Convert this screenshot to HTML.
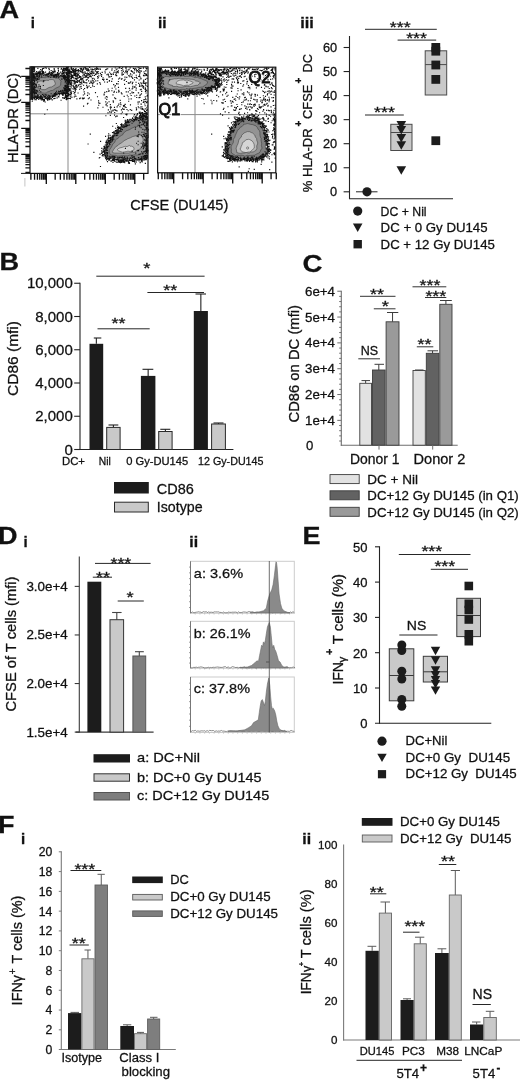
<!DOCTYPE html>
<html><head><meta charset="utf-8"><title>Figure</title>
<style>
html,body{margin:0;padding:0;background:#fff;}
body{width:520px;height:1080px;overflow:hidden;}
svg{display:block;font-family:'Liberation Sans', Arial, sans-serif;}
text{fill:#111;stroke:#111;stroke-width:0.28px;}
</style></head><body>
<svg width="520" height="1080" viewBox="0 0 520 1080">
<rect width="520" height="1080" fill="#fff"/>
<!-- Panel A -->
<text x="-0.4" y="18" font-size="24" font-weight="bold" textLength="19.6" lengthAdjust="spacingAndGlyphs">A</text>
<text x="30.7" y="28" font-size="15" font-weight="bold">i</text>
<text x="158" y="28" font-size="15" font-weight="bold" textLength="8.6" lengthAdjust="spacingAndGlyphs">ii</text>
<text x="300.3" y="28" font-size="15" font-weight="bold" textLength="13.6" lengthAdjust="spacingAndGlyphs">iii</text>
<path d="M68 66.8L68 173.4" stroke="#8a8a8a" stroke-width="1"/>
<path d="M30 113.8L148 113.8" stroke="#8a8a8a" stroke-width="1"/>
<path d="M32.5 82.7h1.15M45.9 74.9h1.15M65.9 79.6h1.15M32.5 95.7h1.15M56.1 93.6h1.15M62.1 91.3h1.15M33.4 77.4h1.15M36.9 97.1h1.15M45.0 72.1h1.15M68.3 82.2h1.15M64.2 91.0h1.15M53.1 96.4h1.15M54.2 74.7h1.15M40.5 96.2h1.15M31.7 87.6h1.15M70.4 78.8h1.15M32.4 82.1h1.15M44.6 102.0h1.15M40.5 96.6h1.15M30.6 75.3h1.15M68.3 84.2h1.15M61.7 75.8h1.15M36.6 73.0h1.15M42.3 73.0h1.15M32.6 76.2h1.15M55.8 75.2h1.15M67.9 80.1h1.15M62.1 76.5h1.15M32.5 78.4h1.15M52.2 95.1h1.15M50.6 75.2h1.15M62.4 76.0h1.15M52.6 75.4h1.15M34.2 73.7h1.15M39.7 96.7h1.15M66.4 91.0h1.15M70.8 81.9h1.15M70.4 91.0h1.15M30.2 82.3h1.15M32.0 75.3h1.15M36.8 98.4h1.15M50.5 98.8h1.15M33.4 92.1h1.15M62.0 92.7h1.15M32.1 84.1h1.15M62.3 91.2h1.15M67.5 81.4h1.15M44.6 74.3h1.15M38.5 72.3h1.15M51.3 73.6h1.15M64.8 77.3h1.15M40.5 96.5h1.15M62.9 92.0h1.15M33.6 97.5h1.15M58.7 94.3h1.15M33.0 90.0h1.15M68.5 78.5h1.15M47.1 97.7h1.15M42.7 73.8h1.15M32.6 94.0h1.15M34.6 73.7h1.15M42.5 73.9h1.15M49.9 73.9h1.15M47.0 100.0h1.15M48.5 72.8h1.15M33.4 76.9h1.15M67.8 82.9h1.15M44.4 97.9h1.15M30.5 92.4h1.15M42.4 97.9h1.15M68.1 89.3h1.15M35.8 98.4h1.15M44.1 74.7h1.15M49.0 97.1h1.15M67.2 79.1h1.15M30.5 76.7h1.15M57.6 73.8h1.15M41.2 70.8h1.15M39.5 73.0h1.15M61.3 91.2h1.15M55.1 96.2h1.15M39.4 98.5h1.15M72.9 85.8h1.15M68.2 79.3h1.15M53.3 95.5h1.15M38.1 97.5h1.15M47.1 97.8h1.15M43.3 72.5h1.15M61.0 73.2h1.15M37.3 97.6h1.15M64.7 75.5h1.15M50.6 75.0h1.15M58.0 76.2h1.15M35.4 74.0h1.15M54.9 75.8h1.15M61.2 75.5h1.15M55.4 75.1h1.15M32.1 81.2h1.15M53.3 72.9h1.15M41.9 98.7h1.15M31.7 93.7h1.15M38.6 96.8h1.15M66.9 86.1h1.15M47.9 74.5h1.15M40.8 96.1h1.15M61.1 74.8h1.15M32.8 88.4h1.15M49.5 97.2h1.15M30.1 99.2h1.15M55.1 75.9h1.15M40.6 95.8h1.15M58.9 95.0h1.15M33.0 80.1h1.15M30.5 86.3h1.15M47.9 73.5h1.15M46.0 74.1h1.15M67.7 76.7h1.15M39.8 73.9h1.15M41.5 97.2h1.15M32.1 91.1h1.15M31.8 76.5h1.15M56.6 97.8h1.15M53.6 95.5h1.15M50.7 98.4h1.15M62.4 92.7h1.15M41.5 73.4h1.15M35.9 73.5h1.15M70.6 87.1h1.15M58.9 76.2h1.15M32.3 79.0h1.15M68.4 84.6h1.15M56.4 94.8h1.15M31.8 79.0h1.15M32.5 88.8h1.15M64.1 89.5h1.15M31.3 99.0h1.15M34.8 74.1h1.15M68.5 84.5h1.15M68.0 83.8h1.15M36.0 74.2h1.15M48.7 98.1h1.15M64.4 89.0h1.15M32.8 93.1h1.15M54.9 94.8h1.15M62.4 76.5h1.15M59.8 75.3h1.15M32.4 78.0h1.15M48.2 97.4h1.15M38.3 97.5h1.15M70.0 84.7h1.15M54.1 94.4h1.15M32.1 90.0h1.15M67.3 91.8h1.15M32.7 76.9h1.15M54.2 75.1h1.15M37.6 97.4h1.15M55.4 74.7h1.15M63.6 75.5h1.15M65.5 87.3h1.15M65.1 77.6h1.15M32.7 94.2h1.15M36.9 98.1h1.15M41.7 97.8h1.15M51.1 72.6h1.15M68.4 84.9h1.15M49.2 73.7h1.15M49.8 96.8h1.15M30.7 91.4h1.15M56.9 72.5h1.15M50.2 96.5h1.15M38.3 97.9h1.15M56.1 74.7h1.15M56.1 94.9h1.15M54.4 75.8h1.15M60.7 93.8h1.15M50.5 74.5h1.15M61.8 93.9h1.15M52.5 95.9h1.15M35.4 96.9h1.15M38.4 73.2h1.15M40.1 73.2h1.15M65.7 89.6h1.15M32.0 85.0h1.15M33.1 75.1h1.15M49.0 73.3h1.15M37.8 97.0h1.15M57.6 75.4h1.15M33.7 95.5h1.15M68.1 88.8h1.15M66.1 77.5h1.15M63.9 75.6h1.15M39.0 73.7h1.15M31.4 79.5h1.15M47.0 73.9h1.15M33.5 93.2h1.15M38.2 72.4h1.15M58.4 93.1h1.15M33.0 84.8h1.15M62.0 71.6h1.15M54.7 74.2h1.15M62.5 91.7h1.15M36.6 73.3h1.15M38.2 99.3h1.15M44.3 97.9h1.15M32.8 81.7h1.15M55.8 74.3h1.15M37.6 72.4h1.15M56.7 73.7h1.15M30.8 77.6h1.15M32.4 81.8h1.15M43.9 99.6h1.15M35.9 74.0h1.15M34.0 98.2h1.15M36.5 97.5h1.15M39.4 72.6h1.15M54.2 94.0h1.15M53.8 75.5h1.15M51.4 75.3h1.15M68.0 80.8h1.15M30.1 93.9h1.15M54.8 94.6h1.15M61.4 91.3h1.15M58.7 73.9h1.15M65.1 77.2h1.15M53.6 95.9h1.15M31.4 79.5h1.15M40.3 99.1h1.15M62.5 91.9h1.15M63.2 76.3h1.15M30.7 80.4h1.15M31.9 82.4h1.15M67.3 85.4h1.15M56.8 74.5h1.15M45.6 97.0h1.15M56.5 97.9h1.15M69.5 86.2h1.15M44.9 74.7h1.15M66.7 79.7h1.15M40.2 98.1h1.15M58.1 74.9h1.15M31.6 92.2h1.15M49.7 74.8h1.15M67.3 83.8h1.15M62.8 92.0h1.15M68.0 79.4h1.15M61.2 93.0h1.15M46.2 98.7h1.15M65.2 76.6h1.15M61.0 92.0h1.15M67.2 85.6h1.15M54.3 95.0h1.15M32.0 85.0h1.15M68.2 84.1h1.15M36.9 97.5h1.15M52.1 96.8h1.15M47.7 98.5h1.15M31.8 95.1h1.15M46.1 98.0h1.15M59.5 93.2h1.15M37.7 73.6h1.15M30.8 80.0h1.15M60.9 91.7h1.15M60.2 93.6h1.15M32.3 96.6h1.15M33.5 78.1h1.15M50.6 74.1h1.15M39.6 73.5h1.15M35.1 73.1h1.15M55.6 74.6h1.15M62.1 74.2h1.15M43.4 72.8h1.15M54.7 75.4h1.15M30.5 81.9h1.15M41.9 71.6h1.15M32.4 77.6h1.15M31.7 98.8h1.15M30.7 80.8h1.15M48.8 99.4h1.15M41.9 73.5h1.15M56.6 92.9h1.15M36.1 71.6h1.15M40.7 98.4h1.15M68.5 80.7h1.15M32.6 93.3h1.15M36.3 98.0h1.15M32.2 86.0h1.15M31.7 83.4h1.15M68.5 79.7h1.15M57.8 96.2h1.15M38.6 96.9h1.15M62.0 73.4h1.15M66.4 92.7h1.15M65.2 95.3h1.15M32.2 78.3h1.15M41.6 74.5h1.15M46.7 99.5h1.15M41.7 97.1h1.15M57.7 96.4h1.15M62.6 94.8h1.15M67.5 82.7h1.15M53.3 75.7h1.15M42.9 99.5h1.15M52.8 72.1h1.15M66.3 90.2h1.15M56.5 74.8h1.15M38.3 74.0h1.15M40.1 69.5h1.15M33.8 98.4h1.15M30.7 92.4h1.15M58.8 93.3h1.15M33.5 98.0h1.15M43.3 101.5h1.15M50.6 70.6h1.15M43.4 73.2h1.15M67.3 78.5h1.15M38.8 74.4h1.15M57.4 73.6h1.15M39.1 98.0h1.15M51.8 74.8h1.15M33.3 85.4h1.15M60.3 76.4h1.15M36.9 73.9h1.15M31.3 98.8h1.15M44.9 98.5h1.15M42.6 73.0h1.15M66.1 90.9h1.15M56.2 75.1h1.15M31.5 80.7h1.15M44.7 97.5h1.15M66.2 87.0h1.15M50.0 74.1h1.15M38.3 71.8h1.15M51.7 99.9h1.15M41.9 72.8h1.15M33.1 76.9h1.15M68.6 88.3h1.15M57.7 93.6h1.15M44.2 97.5h1.15M67.2 82.7h1.15M38.0 95.7h1.15M32.1 95.6h1.15M39.5 74.6h1.15M30.3 81.8h1.15M46.8 98.4h1.15M59.9 91.5h1.15M67.2 86.9h1.15M42.6 100.3h1.15M51.7 73.5h1.15M52.7 74.7h1.15M32.6 78.5h1.15M62.9 91.8h1.15M55.7 75.5h1.15M31.9 80.7h1.15M67.3 90.3h1.15M53.4 96.3h1.15M40.0 98.2h1.15M65.1 77.4h1.15M64.8 88.5h1.15M64.1 70.8h1.15M44.8 98.1h1.15M30.0 82.4h1.15M33.0 91.9h1.15M48.5 99.6h1.15M68.5 77.7h1.15M33.0 96.0h1.15M47.1 100.2h1.15M32.3 86.5h1.15M46.6 74.2h1.15M32.4 78.9h1.15M66.8 85.8h1.15M31.2 83.3h1.15M58.3 96.9h1.15M68.8 83.0h1.15M55.6 94.4h1.15M54.2 75.2h1.15M52.1 71.3h1.15M39.4 73.6h1.15M59.4 93.2h1.15M32.3 89.3h1.15M64.9 88.8h1.15M63.2 76.9h1.15M66.4 86.1h1.15M41.9 99.5h1.15M32.8 89.2h1.15M51.3 95.7h1.15M64.6 89.5h1.15M32.0 83.4h1.15M40.2 71.8h1.15M35.9 98.2h1.15M32.8 80.8h1.15M54.5 95.5h1.15M52.0 73.4h1.15M63.1 75.8h1.15M65.2 91.3h1.15M67.0 80.3h1.15M38.9 73.9h1.15M46.8 74.1h1.15M50.4 72.5h1.15M67.8 87.1h1.15M54.3 75.0h1.15M66.8 88.2h1.15M50.6 74.1h1.15M70.5 84.2h1.15M68.6 79.5h1.15M34.8 74.3h1.15M56.6 94.5h1.15M40.2 97.7h1.15M63.5 76.9h1.15M53.3 98.6h1.15M33.9 74.2h1.15M53.4 74.7h1.15M30.8 78.0h1.15M69.7 83.7h1.15M67.8 81.9h1.15M62.0 92.8h1.15M33.8 68.2h1.15M33.1 75.8h1.15M30.8 80.0h1.15M52.0 96.3h1.15M42.8 71.5h1.15M46.9 99.1h1.15M48.3 98.9h1.15M48.9 71.8h1.15M54.4 98.3h1.15M58.4 76.3h1.15M51.8 96.4h1.15M32.4 95.9h1.15M31.4 93.1h1.15M51.8 97.5h1.15M66.2 77.0h1.15M66.8 89.7h1.15M67.3 86.6h1.15M34.5 99.6h1.15M36.0 98.5h1.15M39.9 96.4h1.15M31.9 75.3h1.15M43.9 100.3h1.15M48.5 96.4h1.15M49.8 98.9h1.15M31.5 94.1h1.15M47.5 74.3h1.15M64.8 95.5h1.15M64.9 85.6h1.15M44.9 97.5h1.15M30.2 83.8h1.15M34.3 87.7h1.15M51.7 91.5h1.15M47.1 91.6h1.15M70.9 93.3h1.15M79.7 98.1h1.15M55.3 90.5h1.15M46.1 80.8h1.15M46.8 109.7h1.15M48.9 85.0h1.15M57.6 89.1h1.15M38.0 77.8h1.15M45.4 77.5h1.15M65.0 86.0h1.15M69.5 90.6h1.15M75.2 85.6h1.15M46.8 93.3h1.15M44.7 85.4h1.15M43.9 76.6h1.15M34.4 99.6h1.15M59.5 73.0h1.15M78.3 84.7h1.15M45.8 87.7h1.15M51.9 81.9h1.15M38.7 87.6h1.15M32.8 82.1h1.15M73.3 87.4h1.15M31.1 95.4h1.15M49.4 90.2h1.15M53.6 68.6h1.15M53.7 96.4h1.15M50.9 93.4h1.15M35.9 93.1h1.15M60.8 90.3h1.15M52.2 78.4h1.15M73.4 81.8h1.15M44.2 114.2h1.15M63.6 83.1h1.15M31.5 82.0h1.15M40.8 99.8h1.15M39.0 79.7h1.15M51.9 88.7h1.15M34.2 80.5h1.15M57.2 92.6h1.15M52.6 76.2h1.15M41.2 73.7h1.15M82.8 95.0h1.15M48.8 80.3h1.15M65.9 90.7h1.15M47.6 93.8h1.15M50.8 86.5h1.15M44.3 92.2h1.15M37.1 80.7h1.15M41.0 86.6h1.15M35.8 99.7h1.15M45.7 82.3h1.15M82.8 82.2h1.15M57.5 90.6h1.15M64.8 82.0h1.15M59.0 80.7h1.15M60.5 100.2h1.15M58.5 83.9h1.15M45.7 96.0h1.15M44.8 86.9h1.15M54.6 71.0h1.15M76.7 76.0h1.15M61.4 82.3h1.15M73.9 88.5h1.15M30.3 77.3h1.15M53.7 71.3h1.15M55.8 75.3h1.15M57.6 80.2h1.15M43.8 88.2h1.15M85.0 77.2h1.15M53.1 85.3h1.15M31.7 101.2h1.15M54.9 91.9h1.15M45.3 84.4h1.15M52.4 71.8h1.15M43.1 68.4h1.15M30.5 82.0h1.15M41.9 84.3h1.15M60.6 69.1h1.15M54.5 72.0h1.15M68.3 84.9h1.15M79.3 77.3h1.15M78.8 76.4h1.15M102.5 77.7h1.15M121.9 74.8h1.15M135.4 84.9h1.15M80.7 78.7h1.15M107.9 75.1h1.15M87.3 86.9h1.15M68.4 73.9h1.15M67.7 73.9h1.15M86.4 87.1h1.15M91.2 73.8h1.15M89.2 83.4h1.15M80.6 71.7h1.15M85.8 82.9h1.15M89.9 76.4h1.15M92.7 80.8h1.15M69.4 82.3h1.15M80.2 78.5h1.15M74.8 88.5h1.15M80.5 86.4h1.15M77.0 82.4h1.15M67.7 72.7h1.15M100.3 75.0h1.15M82.2 75.8h1.15M111.7 78.8h1.15M67.0 73.7h1.15M68.2 83.5h1.15M69.0 80.6h1.15M110.9 74.4h1.15M81.6 72.4h1.15M96.5 68.6h1.15M67.8 75.3h1.15M96.2 72.5h1.15M67.8 70.5h1.15M119.1 78.1h1.15M81.8 70.9h1.15M136.5 78.3h1.15M88.2 70.7h1.15M86.2 68.6h1.15M70.0 80.4h1.15M88.0 80.8h1.15M96.8 83.9h1.15M86.7 77.2h1.15M91.7 69.0h1.15M113.4 72.4h1.15M92.2 72.0h1.15M88.6 86.0h1.15M82.5 79.0h1.15M79.4 87.0h1.15M93.4 69.7h1.15M104.7 98.0h1.15M94.7 69.0h1.15M68.3 72.1h1.15M72.5 80.2h1.15M86.9 95.3h1.15M84.4 82.6h1.15M120.9 79.2h1.15M115.8 75.6h1.15M86.5 79.5h1.15M94.0 75.5h1.15M107.5 74.1h1.15M69.5 72.3h1.15M74.3 71.7h1.15M66.6 73.5h1.15M87.5 78.2h1.15M121.4 73.1h1.15M66.1 70.2h1.15M69.0 72.8h1.15M70.9 72.4h1.15M99.2 82.6h1.15M76.2 79.5h1.15M70.9 78.4h1.15M76.2 81.6h1.15M72.5 69.1h1.15M72.3 76.2h1.15M84.4 71.9h1.15M90.4 81.1h1.15M72.3 75.9h1.15M83.6 91.8h1.15M66.7 71.0h1.15M145.0 79.3h1.15M68.4 71.2h1.15M84.0 93.9h1.15M74.5 72.7h1.15M73.4 74.7h1.15M95.5 71.5h1.15M79.8 76.6h1.15M72.8 68.6h1.15M84.7 75.9h1.15M104.6 72.9h1.15M90.3 73.3h1.15M72.0 80.6h1.15M90.2 87.5h1.15M124.5 79.2h1.15M70.8 78.6h1.15M89.2 74.6h1.15M81.2 81.2h1.15M90.0 73.6h1.15M69.3 71.1h1.15M71.8 70.2h1.15M75.4 68.6h1.15M106.3 74.7h1.15M76.7 73.8h1.15M75.1 73.2h1.15M95.8 69.3h1.15M69.3 81.2h1.15M74.5 82.5h1.15M83.6 74.3h1.15M75.4 75.5h1.15M86.0 76.9h1.15M86.2 82.9h1.15M69.4 71.2h1.15M69.2 70.4h1.15M99.7 69.5h1.15M77.9 85.7h1.15M69.6 76.1h1.15M67.7 76.4h1.15M77.9 69.5h1.15M106.6 79.3h1.15M71.1 77.7h1.15M66.5 87.5h1.15M85.8 73.8h1.15M92.4 78.4h1.15M82.7 82.4h1.15M72.6 70.5h1.15M74.4 86.9h1.15M83.8 74.7h1.15M115.7 73.7h1.15M78.0 70.7h1.15M75.3 76.8h1.15M77.3 75.4h1.15M72.8 72.7h1.15M70.1 78.2h1.15M115.1 74.8h1.15M68.9 71.1h1.15M106.2 91.6h1.15M87.6 68.9h1.15M135.7 69.6h1.15M74.4 70.6h1.15M108.6 90.9h1.15M68.0 75.5h1.15M99.5 68.7h1.15M74.7 87.1h1.15M79.6 84.4h1.15M101.1 74.7h1.15M88.2 69.9h1.15M79.5 70.7h1.15M73.6 75.5h1.15M97.0 76.5h1.15M79.8 79.5h1.15M72.2 70.3h1.15M77.0 73.9h1.15M101.0 76.4h1.15M67.3 72.5h1.15M74.6 73.8h1.15M94.6 74.0h1.15M86.9 103.8h1.15M78.7 75.7h1.15M69.7 96.7h1.15M67.1 69.6h1.15M77.3 75.5h1.15M91.6 69.7h1.15M72.9 80.7h1.15M117.1 72.1h1.15M87.3 70.8h1.15M79.4 82.6h1.15M96.9 71.8h1.15M73.8 81.6h1.15M115.4 72.3h1.15M76.1 85.0h1.15M66.1 80.0h1.15M81.1 79.3h1.15M117.5 83.8h1.15M68.5 73.3h1.15M70.9 74.7h1.15M80.5 77.1h1.15M115.7 72.2h1.15M68.1 81.8h1.15M83.0 89.7h1.15M97.2 80.7h1.15M76.9 77.8h1.15M79.0 89.2h1.15M125.7 91.8h1.15M82.9 80.8h1.15M91.8 78.9h1.15M90.6 71.3h1.15M116.1 75.6h1.15M75.2 74.7h1.15M83.4 74.9h1.15M71.3 83.0h1.15M74.9 74.2h1.15M104.0 82.0h1.15M139.0 74.8h1.15M74.7 75.7h1.15M97.6 71.6h1.15M83.0 106.1h1.15M92.0 83.8h1.15M76.0 70.9h1.15M75.6 75.8h1.15M71.1 69.0h1.15M81.3 83.9h1.15M67.3 80.0h1.15M109.3 76.8h1.15M72.2 77.3h1.15M88.1 77.3h1.15M81.5 70.1h1.15M75.4 71.0h1.15M129.3 75.2h1.15M107.6 89.0h1.15M95.2 80.9h1.15M68.8 76.0h1.15M79.7 71.6h1.15M89.2 76.4h1.15M68.2 83.3h1.15M92.2 75.3h1.15M103.3 79.3h1.15M131.6 93.0h1.15M81.3 71.8h1.15M66.6 89.6h1.15M71.1 77.0h1.15M102.0 79.3h1.15M69.5 68.7h1.15M87.4 77.7h1.15M89.3 72.9h1.15M78.9 77.2h1.15M99.8 73.4h1.15M68.9 72.7h1.15M87.3 75.1h1.15M76.5 78.3h1.15M108.9 80.5h1.15M77.1 75.0h1.15M70.6 81.9h1.15M75.3 79.0h1.15M82.4 73.7h1.15M67.8 93.2h1.15M109.9 73.8h1.15M89.2 76.2h1.15M74.3 82.4h1.15M86.6 73.5h1.15M86.3 70.3h1.15M77.5 69.9h1.15M91.2 82.8h1.15M97.1 69.0h1.15M91.5 73.3h1.15M71.2 83.2h1.15M66.5 70.9h1.15M74.4 69.2h1.15M78.5 81.4h1.15M105.2 69.6h1.15M68.0 83.2h1.15M106.8 82.1h1.15M67.3 77.0h1.15M74.3 81.1h1.15M77.4 75.5h1.15M125.0 71.1h1.15M131.5 77.4h1.15M66.9 76.1h1.15M70.8 75.9h1.15M79.1 81.7h1.15M73.0 71.5h1.15M133.4 73.3h1.15M86.8 73.0h1.15M74.7 78.5h1.15M86.1 70.1h1.15M90.7 76.9h1.15M108.7 81.2h1.15M114.1 97.8h1.15M78.0 77.8h1.15M97.2 78.2h1.15M145.9 69.0h1.15M82.8 72.2h1.15M94.9 70.7h1.15M80.8 82.7h1.15M76.6 86.7h1.15M71.0 68.6h1.15M68.1 86.5h1.15M74.6 75.6h1.15M75.6 73.1h1.15M84.6 73.3h1.15M90.4 82.4h1.15M93.3 72.1h1.15M98.3 75.8h1.15M84.7 77.2h1.15M81.8 78.3h1.15M86.8 88.0h1.15M92.7 82.8h1.15M107.1 68.7h1.15M72.4 71.9h1.15M109.1 72.2h1.15M70.9 76.9h1.15M66.4 77.2h1.15M101.0 74.5h1.15M71.8 70.9h1.15M106.1 79.3h1.15M75.7 70.3h1.15M75.6 89.2h1.15M110.8 76.3h1.15M97.3 68.5h1.15M67.3 72.8h1.15M129.5 82.7h1.15M71.1 75.4h1.15M90.2 75.7h1.15M128.1 70.0h1.15M106.6 97.1h1.15M80.7 88.3h1.15M130.7 70.6h1.15M91.5 72.3h1.15M72.3 80.6h1.15M139.3 73.1h1.15M84.4 75.5h1.15M74.6 83.8h1.15M78.5 73.2h1.15M70.7 71.6h1.15M84.7 69.1h1.15M84.4 72.7h1.15M69.8 83.3h1.15M77.8 74.5h1.15M72.8 69.1h1.15M115.7 69.7h1.15M70.8 80.5h1.15M86.6 74.1h1.15M88.5 74.8h1.15M86.4 69.1h1.15M76.3 82.3h1.15M72.2 75.2h1.15M66.2 69.6h1.15M71.0 84.9h1.15M103.0 80.1h1.15M73.2 77.8h1.15M82.8 69.1h1.15M73.8 88.9h1.15M67.5 69.0h1.15M78.0 71.1h1.15M77.3 72.1h1.15M74.9 71.5h1.15M84.7 68.5h1.15M75.8 78.8h1.15M71.9 75.3h1.15M76.6 80.3h1.15M116.7 71.5h1.15M69.4 71.4h1.15M69.1 82.6h1.15M96.9 72.6h1.15M70.6 73.0h1.15M69.1 69.9h1.15M72.1 70.8h1.15M113.1 84.6h1.15M128.0 75.7h1.15M125.4 68.6h1.15M74.3 82.8h1.15M118.0 79.0h1.15M67.4 77.9h1.15M80.5 82.5h1.15M83.7 92.0h1.15M79.1 80.3h1.15M96.9 96.7h1.15M80.3 69.4h1.15M95.0 74.4h1.15M97.6 73.6h1.15M68.6 70.4h1.15M74.6 72.4h1.15M74.7 91.9h1.15M129.1 76.7h1.15M108.3 76.8h1.15M73.9 72.1h1.15M67.7 75.2h1.15M74.9 81.8h1.15M70.9 74.9h1.15M82.2 69.7h1.15M117.8 81.5h1.15M69.1 73.3h1.15M86.1 75.6h1.15M83.5 81.8h1.15M67.9 96.0h1.15M70.2 94.6h1.15M73.0 77.8h1.15M69.1 98.5h1.15M65.0 69.9h1.15M63.6 69.8h1.15M69.4 82.9h1.15M67.2 78.5h1.15M64.8 95.0h1.15M65.8 68.8h1.15M62.4 95.4h1.15M69.3 76.8h1.15M62.7 92.5h1.15M63.0 68.5h1.15M75.3 96.4h1.15M63.0 93.6h1.15M72.8 86.1h1.15M68.1 93.8h1.15M64.5 92.9h1.15M69.6 94.5h1.15M68.6 89.2h1.15M83.7 98.1h1.15M92.0 85.9h1.15M67.6 89.6h1.15M66.1 82.7h1.15M69.9 98.6h1.15M63.1 68.7h1.15M68.8 90.9h1.15M62.9 75.5h1.15M64.9 88.9h1.15M74.8 73.5h1.15M75.2 78.6h1.15M67.8 89.3h1.15M91.9 80.7h1.15M63.5 88.6h1.15M65.4 88.0h1.15M70.1 71.5h1.15M67.3 89.5h1.15M71.4 76.6h1.15M62.8 81.2h1.15M73.4 83.9h1.15M63.6 79.8h1.15M64.8 76.2h1.15M63.8 73.0h1.15M73.5 87.4h1.15M62.4 91.4h1.15M96.0 73.9h1.15M66.2 86.7h1.15M64.4 72.1h1.15M65.6 88.0h1.15M68.2 77.3h1.15M64.4 79.1h1.15M74.9 88.8h1.15M74.7 82.4h1.15M70.9 81.9h1.15M83.3 77.4h1.15M73.5 93.2h1.15M63.6 77.4h1.15M64.8 88.1h1.15M67.8 69.8h1.15M65.3 96.2h1.15M66.5 98.0h1.15M67.8 73.7h1.15M75.8 81.7h1.15M69.1 71.3h1.15M78.4 80.8h1.15M70.4 94.9h1.15M62.1 86.4h1.15M101.6 72.3h1.15M63.4 98.1h1.15M66.5 85.3h1.15M62.2 70.3h1.15M68.7 79.3h1.15M72.2 72.5h1.15M65.1 95.4h1.15M85.7 80.1h1.15M63.5 83.5h1.15M88.7 94.0h1.15M75.9 85.6h1.15M63.5 69.5h1.15M63.0 70.3h1.15M62.6 73.4h1.15M69.8 88.9h1.15M64.6 87.1h1.15M93.9 79.1h1.15M63.1 77.7h1.15M76.8 70.5h1.15M66.2 70.2h1.15M62.1 87.7h1.15M74.0 92.6h1.15M70.0 83.6h1.15M64.3 89.4h1.15M66.0 81.9h1.15M63.5 69.7h1.15M63.3 68.1h1.15M69.6 92.8h1.15M69.0 94.9h1.15M64.0 98.5h1.15M65.2 77.5h1.15M111.3 90.7h1.15M65.9 90.9h1.15M68.0 88.6h1.15M63.6 93.4h1.15M62.2 97.6h1.15M70.5 74.3h1.15M64.5 90.6h1.15M74.2 80.8h1.15M64.4 93.6h1.15M66.1 96.3h1.15M71.4 97.2h1.15M72.6 91.5h1.15M65.8 96.5h1.15M73.7 71.7h1.15M69.4 70.9h1.15M77.2 80.9h1.15M74.7 90.3h1.15M77.5 93.0h1.15M64.8 93.9h1.15M62.8 72.1h1.15M62.0 89.2h1.15M65.6 85.2h1.15M66.8 73.2h1.15M64.8 82.7h1.15M63.6 92.0h1.15M67.0 73.1h1.15M65.3 95.7h1.15M62.3 73.1h1.15M78.3 70.5h1.15M68.6 79.3h1.15M63.7 92.1h1.15M65.6 92.0h1.15M69.7 94.8h1.15M62.9 73.6h1.15M68.6 74.8h1.15M74.0 74.4h1.15M63.6 74.4h1.15M68.4 81.1h1.15M82.4 98.8h1.15M72.9 89.0h1.15M67.3 78.5h1.15M62.2 97.8h1.15M86.1 85.4h1.15M98.0 69.2h1.15M75.8 70.3h1.15M64.3 85.2h1.15M69.9 74.0h1.15M76.7 76.3h1.15M68.8 79.6h1.15M93.6 86.5h1.15M70.2 96.9h1.15M62.1 70.7h1.15M65.2 96.6h1.15M111.1 81.3h1.15M97.6 77.6h1.15M85.1 76.9h1.15M64.1 79.1h1.15M64.6 81.0h1.15M70.4 80.3h1.15M62.3 94.2h1.15M82.0 78.5h1.15M68.1 75.4h1.15M73.8 96.9h1.15M70.6 92.1h1.15M66.0 68.9h1.15M83.0 85.2h1.15M64.5 87.4h1.15M68.5 72.6h1.15M66.9 78.3h1.15M73.4 73.6h1.15M73.1 70.6h1.15M67.4 83.9h1.15M65.6 70.3h1.15M64.1 82.3h1.15M62.4 82.8h1.15M67.2 86.5h1.15M62.0 94.5h1.15M65.9 68.8h1.15M93.1 73.5h1.15M71.5 88.7h1.15M66.8 81.3h1.15M88.0 73.6h1.15M110.0 73.9h1.15M75.5 73.8h1.15M65.3 96.5h1.15M81.5 79.8h1.15M76.1 85.8h1.15M71.4 85.7h1.15M67.7 91.4h1.15M64.8 82.9h1.15M65.2 80.0h1.15M68.6 90.1h1.15M68.3 78.1h1.15M67.4 71.0h1.15M76.3 98.9h1.15M64.6 96.9h1.15M63.2 82.2h1.15M63.7 90.4h1.15M70.7 93.3h1.15M62.3 79.8h1.15M65.4 73.6h1.15M63.7 72.9h1.15M62.2 95.2h1.15M87.8 98.7h1.15M66.1 81.9h1.15M82.8 98.4h1.15M67.9 82.7h1.15M93.6 82.0h1.15M63.3 76.3h1.15M66.2 85.6h1.15M64.6 80.1h1.15M74.4 94.9h1.15M64.5 97.5h1.15M69.4 90.1h1.15M63.9 81.6h1.15M62.6 79.3h1.15M81.8 98.1h1.15M75.3 89.1h1.15M76.2 87.4h1.15M114.7 68.0h1.15M79.1 98.6h1.15M62.7 78.5h1.15M65.0 83.6h1.15M66.8 73.1h1.15M88.8 97.9h1.15M62.2 95.4h1.15M74.1 80.3h1.15M62.6 92.7h1.15M132.8 68.4h1.15M42.1 68.5h1.15M39.4 71.1h1.15M70.7 67.3h1.15M87.7 69.6h1.15M57.5 68.5h1.15M48.7 69.7h1.15M57.3 72.5h1.15M143.0 67.7h1.15M125.5 67.8h1.15M48.3 68.3h1.15M80.7 69.1h1.15M129.6 67.9h1.15M62.2 69.6h1.15M91.5 71.0h1.15M64.1 68.8h1.15M139.6 68.4h1.15M90.3 69.1h1.15M66.3 69.1h1.15M117.0 71.8h1.15M57.8 70.0h1.15M60.2 72.0h1.15M139.3 70.5h1.15M135.2 68.3h1.15M50.7 75.8h1.15M41.8 69.2h1.15M133.8 68.7h1.15M81.0 68.4h1.15M120.9 70.7h1.15M71.2 69.4h1.15M37.3 68.4h1.15M44.6 67.7h1.15M85.0 67.8h1.15M117.8 70.9h1.15M137.6 67.7h1.15M66.7 67.8h1.15M79.7 68.4h1.15M114.1 70.7h1.15M111.5 68.7h1.15M122.2 69.8h1.15M118.3 68.0h1.15M92.3 69.6h1.15M119.3 68.0h1.15M82.8 68.1h1.15M122.0 67.9h1.15M84.3 67.6h1.15M43.1 72.3h1.15M125.5 67.3h1.15M48.7 69.4h1.15M94.2 68.8h1.15M116.5 68.9h1.15M104.4 71.2h1.15M96.2 67.4h1.15M145.3 67.9h1.15M61.1 68.3h1.15M89.1 67.5h1.15M117.7 72.7h1.15M145.7 75.5h1.15M57.9 71.1h1.15M34.0 69.2h1.15M125.3 67.4h1.15M106.1 69.1h1.15M82.7 69.2h1.15M137.7 71.4h1.15M145.4 70.9h1.15M74.0 69.7h1.15M79.9 70.9h1.15M96.1 69.5h1.15M75.6 74.0h1.15M82.4 69.8h1.15M57.8 68.2h1.15M128.5 69.2h1.15M82.6 69.7h1.15M136.8 70.5h1.15M126.9 71.6h1.15M88.6 70.8h1.15M53.7 69.9h1.15M31.7 69.3h1.15M63.0 68.8h1.15M125.7 71.7h1.15M95.4 68.7h1.15M120.9 68.5h1.15M41.7 70.3h1.15M119.0 67.6h1.15M146.4 68.3h1.15M33.1 68.1h1.15M45.8 68.1h1.15M130.8 71.2h1.15M75.0 69.6h1.15M32.9 94.1h1.15M31.0 85.1h1.15M32.3 76.9h1.15M32.1 73.3h1.15M31.6 82.8h1.15M32.0 70.5h1.15M31.0 79.7h1.15M31.3 95.3h1.15M30.6 79.2h1.15M33.2 84.1h1.15M30.7 98.3h1.15M31.2 79.0h1.15M31.1 76.2h1.15M32.4 80.7h1.15M33.2 79.8h1.15M31.1 98.7h1.15M32.3 67.5h1.15M31.6 72.0h1.15M33.2 92.9h1.15M33.4 67.1h1.15M33.7 81.4h1.15M32.0 90.0h1.15M31.1 68.9h1.15M31.6 77.5h1.15M30.8 76.2h1.15M32.0 83.9h1.15M31.3 87.5h1.15M32.5 92.1h1.15M32.0 70.2h1.15M30.8 75.0h1.15M31.5 92.0h1.15M32.1 95.8h1.15M32.8 77.7h1.15M33.7 68.9h1.15M33.6 71.6h1.15M31.1 93.1h1.15M32.0 71.4h1.15M30.5 74.1h1.15M32.8 73.3h1.15M32.7 80.7h1.15M31.2 88.2h1.15M32.8 71.5h1.15M31.4 82.6h1.15M32.2 97.6h1.15M30.6 83.3h1.15M32.0 83.1h1.15M31.7 91.2h1.15M30.7 85.4h1.15M32.3 81.6h1.15M32.6 94.8h1.15M31.2 71.7h1.15M30.7 73.8h1.15M32.0 99.6h1.15M30.7 75.7h1.15M31.7 69.6h1.15M31.3 72.4h1.15M31.5 98.2h1.15M31.1 73.1h1.15M31.0 84.6h1.15M30.9 91.2h1.15M31.8 67.8h1.15M32.3 76.3h1.15M32.7 91.3h1.15M31.3 76.0h1.15M30.8 78.7h1.15M31.0 85.5h1.15M30.6 93.4h1.15M32.3 77.4h1.15M30.8 72.4h1.15M31.1 67.9h1.15M32.6 76.0h1.15M30.8 89.0h1.15M30.5 97.1h1.15M32.1 83.6h1.15M31.0 71.9h1.15M31.2 87.5h1.15M32.7 70.2h1.15M31.0 71.3h1.15M33.7 71.6h1.15M32.1 97.6h1.15M31.9 87.5h1.15M31.4 67.3h1.15M30.7 97.7h1.15M31.5 79.9h1.15M30.6 72.5h1.15M30.6 89.3h1.15M30.8 83.9h1.15M33.0 87.7h1.15M33.7 81.6h1.15M31.4 74.3h1.15M32.1 67.2h1.15M31.6 88.8h1.15M33.6 82.9h1.15M30.6 81.1h1.15M30.9 87.4h1.15M32.8 83.5h1.15M34.4 97.3h1.15M31.0 91.1h1.15M32.7 97.6h1.15M32.3 74.7h1.15M30.9 87.5h1.15M31.9 96.9h1.15M31.2 92.4h1.15M33.1 79.8h1.15M32.1 91.5h1.15M34.1 86.3h1.15M30.8 76.8h1.15M32.1 91.3h1.15M32.3 70.3h1.15M31.3 70.2h1.15M31.5 73.5h1.15M31.5 72.0h1.15M31.7 95.7h1.15M31.6 74.6h1.15M32.1 99.1h1.15M32.1 68.5h1.15M32.4 69.4h1.15M32.8 80.9h1.15M31.9 87.6h1.15M30.8 87.9h1.15M34.1 70.7h1.15M32.5 84.5h1.15M32.4 73.0h1.15M31.1 75.0h1.15M30.6 75.2h1.15M33.8 75.9h1.15M30.6 95.6h1.15M32.0 93.5h1.15M30.6 72.1h1.15M31.4 89.6h1.15M32.7 74.6h1.15M30.6 67.5h1.15M31.4 69.2h1.15M32.0 91.8h1.15M31.1 89.3h1.15M32.3 84.5h1.15M31.4 71.3h1.15M30.9 93.4h1.15M31.8 83.8h1.15M32.2 86.0h1.15M31.1 94.0h1.15M31.4 77.0h1.15M30.5 77.3h1.15M30.8 70.4h1.15M30.8 78.0h1.15M31.3 93.9h1.15M30.7 87.6h1.15M31.8 75.7h1.15M33.5 76.1h1.15M32.6 88.5h1.15M31.3 95.0h1.15M30.9 80.5h1.15M32.0 67.0h1.15M31.1 98.3h1.15M31.4 96.1h1.15M31.7 87.8h1.15M31.6 68.4h1.15M32.4 81.8h1.15M30.7 76.7h1.15M33.6 69.8h1.15M32.0 80.4h1.15M31.0 83.8h1.15M31.1 83.8h1.15M32.8 76.3h1.15M30.7 75.1h1.15M30.7 93.9h1.15M31.4 70.6h1.15M30.7 84.5h1.15M34.2 85.4h1.15M30.5 72.9h1.15M33.7 67.7h1.15M30.9 83.6h1.15M31.6 84.8h1.15M31.4 72.1h1.15M31.1 67.1h1.15M30.6 84.2h1.15M34.0 67.6h1.15M31.1 80.8h1.15M31.4 92.4h1.15M32.3 94.9h1.15M30.7 86.2h1.15M31.1 86.9h1.15M32.1 71.6h1.15M30.6 83.6h1.15M31.1 74.9h1.15M31.7 94.2h1.15M33.5 79.7h1.15M30.7 87.7h1.15M31.9 92.0h1.15M32.9 81.4h1.15M31.2 97.8h1.15M31.5 84.4h1.15M31.3 76.0h1.15M32.0 95.3h1.15M31.4 89.1h1.15M31.3 67.4h1.15M30.7 75.5h1.15M31.3 92.0h1.15M31.2 88.8h1.15M31.5 82.8h1.15M66.3 92.5h1.15M66.8 96.3h1.15M65.5 83.8h1.15M67.6 67.1h1.15M65.6 92.5h1.15M65.8 98.4h1.15M65.9 74.4h1.15M65.6 99.5h1.15M65.2 68.8h1.15M66.2 91.1h1.15M66.0 97.2h1.15M66.3 98.6h1.15M65.6 68.2h1.15M65.6 97.6h1.15M66.1 91.4h1.15M66.4 95.1h1.15M65.6 86.3h1.15M66.4 74.5h1.15M66.2 88.6h1.15M67.3 91.0h1.15M67.0 76.1h1.15M66.9 84.4h1.15M67.3 93.7h1.15M65.9 92.6h1.15M67.6 79.1h1.15M66.6 90.2h1.15M66.0 96.1h1.15M66.8 95.2h1.15M65.5 69.6h1.15M68.0 77.3h1.15M66.6 75.6h1.15M65.1 82.3h1.15M65.4 73.4h1.15M66.0 72.5h1.15M65.9 92.0h1.15M66.8 81.5h1.15M67.2 75.2h1.15M67.3 71.9h1.15M66.9 78.3h1.15M65.6 93.6h1.15M67.4 87.4h1.15M67.5 94.0h1.15M64.7 93.2h1.15M65.9 99.7h1.15M66.1 68.2h1.15M65.7 90.3h1.15M67.3 73.6h1.15M66.8 74.7h1.15M66.5 69.6h1.15M65.3 92.0h1.15M64.6 68.5h1.15M65.6 85.6h1.15M65.7 73.1h1.15M65.6 92.3h1.15M64.6 77.7h1.15M65.1 69.2h1.15M66.0 97.9h1.15M66.7 74.8h1.15M65.9 80.7h1.15M66.2 72.9h1.15M66.3 73.8h1.15M66.3 82.0h1.15M67.4 68.5h1.15M65.7 67.3h1.15M66.6 86.5h1.15M65.2 79.1h1.15M67.4 98.5h1.15M67.0 98.7h1.15M67.3 67.2h1.15M66.5 87.1h1.15M66.3 75.6h1.15M65.3 69.5h1.15M66.7 91.2h1.15M67.6 80.3h1.15M64.0 76.1h1.15M67.9 82.6h1.15M65.7 72.3h1.15M66.8 88.8h1.15M65.7 78.1h1.15M66.3 98.3h1.15M67.1 87.2h1.15M66.2 93.6h1.15M68.0 98.4h1.15M66.4 69.9h1.15M67.0 93.0h1.15M65.9 80.8h1.15M66.0 83.0h1.15M66.0 86.1h1.15M66.8 87.4h1.15M67.9 94.9h1.15M66.4 73.3h1.15M65.3 87.1h1.15M65.9 90.1h1.15M65.2 78.9h1.15M66.8 71.1h1.15M66.4 96.8h1.15M65.5 68.7h1.15M66.1 87.6h1.15M67.2 86.5h1.15M66.8 87.9h1.15M65.9 98.0h1.15M67.1 99.0h1.15M66.7 74.3h1.15M65.9 90.4h1.15M66.6 93.3h1.15M68.0 83.4h1.15M65.4 90.1h1.15M67.3 67.8h1.15M66.3 81.5h1.15M67.0 80.9h1.15M129.3 90.2h1.15M143.6 83.3h1.15M115.2 110.3h1.15M132.1 117.7h1.15M130.7 76.5h1.15M112.6 73.8h1.15M138.6 80.0h1.15M138.9 86.4h1.15M146.8 86.4h1.15M127.6 96.7h1.15M135.9 77.3h1.15M130.2 81.8h1.15M140.6 89.4h1.15M145.8 90.2h1.15M146.5 96.1h1.15M112.8 74.5h1.15M130.6 95.5h1.15M146.0 102.6h1.15M143.6 118.0h1.15M145.5 93.0h1.15M143.0 115.8h1.15M135.5 90.1h1.15M141.0 112.7h1.15M124.6 104.3h1.15M127.8 82.8h1.15M124.3 72.7h1.15M134.2 87.3h1.15M144.6 105.7h1.15M136.1 95.2h1.15M146.8 95.3h1.15M138.4 107.7h1.15M140.3 108.7h1.15M129.9 104.9h1.15M114.2 87.0h1.15M146.2 82.9h1.15M121.4 93.9h1.15M131.4 71.4h1.15M124.4 77.1h1.15M138.7 101.8h1.15M126.4 114.1h1.15M112.6 100.9h1.15M137.6 104.0h1.15M136.1 71.8h1.15M114.7 85.6h1.15M143.7 99.5h1.15M131.4 92.0h1.15M131.8 83.6h1.15M133.8 114.7h1.15M133.9 79.9h1.15M144.3 101.9h1.15M118.5 91.6h1.15M135.4 116.4h1.15M142.8 68.1h1.15M145.2 101.5h1.15M131.1 110.3h1.15M138.2 69.6h1.15M145.0 84.1h1.15M116.0 92.2h1.15M131.6 88.9h1.15M140.3 79.0h1.15M135.7 70.1h1.15M139.4 97.5h1.15M140.9 93.9h1.15M135.5 82.2h1.15M138.8 76.2h1.15M109.8 115.3h1.15M142.0 112.5h1.15M138.1 72.2h1.15M141.9 109.2h1.15M120.0 103.0h1.15M116.0 83.5h1.15M139.7 94.8h1.15M145.3 85.6h1.15M140.4 86.1h1.15M126.7 95.2h1.15M142.0 108.6h1.15M116.0 83.9h1.15M126.8 74.0h1.15M146.2 112.9h1.15M138.1 83.3h1.15M121.4 78.6h1.15M112.6 110.1h1.15M146.4 91.0h1.15M146.6 109.9h1.15M139.2 117.4h1.15M138.5 76.3h1.15M144.2 104.0h1.15M117.9 87.4h1.15M144.7 87.9h1.15M132.3 86.3h1.15M129.7 93.7h1.15M135.7 88.1h1.15M146.5 78.3h1.15M145.5 75.1h1.15M122.7 71.4h1.15M140.0 114.0h1.15M141.6 85.6h1.15M113.4 92.5h1.15M140.4 78.4h1.15M144.9 91.3h1.15M140.6 68.2h1.15M139.3 95.7h1.15M125.9 81.5h1.15M125.1 88.4h1.15M145.1 73.9h1.15M140.5 104.1h1.15M111.3 70.1h1.15M145.0 70.7h1.15M145.1 111.6h1.15M141.0 100.6h1.15M115.3 89.0h1.15M143.0 101.9h1.15M137.8 92.7h1.15M144.7 83.2h1.15M145.9 74.4h1.15M142.9 88.1h1.15M140.1 107.0h1.15M130.0 73.9h1.15M140.8 71.1h1.15M127.6 110.7h1.15M115.1 98.6h1.15M146.7 75.7h1.15M132.2 82.4h1.15M144.0 111.4h1.15M142.0 85.8h1.15M146.7 109.6h1.15M136.1 97.5h1.15M122.8 74.3h1.15M142.9 81.1h1.15M132.3 87.9h1.15M126.2 77.4h1.15M140.8 113.1h1.15M143.6 110.3h1.15M146.2 107.8h1.15M114.0 115.1h1.15M143.0 86.3h1.15M133.6 72.2h1.15M139.4 112.1h1.15M123.8 109.2h1.15M142.8 83.1h1.15M123.7 80.4h1.15M116.4 110.9h1.15M124.0 84.3h1.15M142.9 75.2h1.15M143.3 81.5h1.15M140.7 104.1h1.15M128.1 101.2h1.15M134.3 77.5h1.15M144.2 75.7h1.15M139.8 89.7h1.15M144.5 89.2h1.15M126.3 70.1h1.15M121.7 72.7h1.15M142.5 109.4h1.15M108.0 91.1h1.15M138.8 68.1h1.15M141.4 106.8h1.15M142.7 102.5h1.15M122.9 105.6h1.15M131.5 75.0h1.15M113.7 91.4h1.15M127.7 91.8h1.15M138.1 76.5h1.15M110.6 112.6h1.15M129.7 109.6h1.15M138.5 97.6h1.15M134.2 96.0h1.15M105.3 115.7h1.15M146.8 101.8h1.15M145.0 89.0h1.15M141.1 83.8h1.15M143.3 99.8h1.15M137.4 102.1h1.15M136.0 109.1h1.15M133.3 116.2h1.15M121.8 112.1h1.15M145.2 90.0h1.15M146.8 106.0h1.15M126.4 72.6h1.15M144.7 108.8h1.15M143.9 73.6h1.15M143.0 75.6h1.15M144.7 96.9h1.15M133.0 92.6h1.15M145.4 99.7h1.15M121.3 74.9h1.15M137.7 106.7h1.15M128.8 88.4h1.15M116.6 106.8h1.15M116.4 115.7h1.15M135.7 75.2h1.15M132.1 78.4h1.15M144.1 111.3h1.15M142.7 82.5h1.15M139.0 84.9h1.15M142.5 87.3h1.15M139.4 71.8h1.15M140.3 82.9h1.15M139.6 77.0h1.15M141.2 109.0h1.15M145.0 98.7h1.15M132.0 71.9h1.15M144.7 111.5h1.15M145.5 99.7h1.15M144.6 82.9h1.15M138.0 92.8h1.15M134.0 69.9h1.15M143.3 80.0h1.15M143.5 71.8h1.15M134.0 114.6h1.15M128.4 83.4h1.15M146.1 110.4h1.15M134.3 86.5h1.15M84.0 88.5h1.15M144.9 89.5h1.15M141.1 91.3h1.15M99.3 103.3h1.15M145.1 120.3h1.15M107.8 109.9h1.15M109.6 107.2h1.15M114.2 109.5h1.15M105.8 104.0h1.15M114.1 112.5h1.15M112.4 94.9h1.15M135.8 110.0h1.15M125.4 114.3h1.15M114.3 109.9h1.15M119.4 106.7h1.15M118.3 104.0h1.15M98.1 105.2h1.15M124.5 106.8h1.15M103.5 94.8h1.15M120.6 113.7h1.15M112.8 102.1h1.15M122.0 108.2h1.15M128.3 99.0h1.15M118.2 90.4h1.15M105.4 104.9h1.15M107.4 112.8h1.15M118.0 92.0h1.15M106.2 99.3h1.15M106.6 105.9h1.15M109.8 104.6h1.15M106.9 103.0h1.15M117.5 105.5h1.15M105.8 96.5h1.15M112.3 110.9h1.15M102.4 107.2h1.15M90.4 100.0h1.15M120.8 92.8h1.15M123.0 117.5h1.15M105.2 101.8h1.15M120.9 109.9h1.15M115.0 116.7h1.15M97.3 107.8h1.15M125.5 107.5h1.15M87.3 103.4h1.15M110.6 107.3h1.15M119.9 102.9h1.15M98.0 100.9h1.15M130.6 98.8h1.15M104.2 92.3h1.15M126.4 109.5h1.15M109.0 111.9h1.15M119.6 100.4h1.15M110.7 111.1h1.15M139.9 113.2h1.15M116.4 116.3h1.15M123.8 105.4h1.15M120.2 124.5h1.15M113.9 107.4h1.15M108.5 101.7h1.15M116.5 107.0h1.15M123.6 96.4h1.15M122.6 109.4h1.15M118.2 104.1h1.15M110.1 106.7h1.15M120.3 104.6h1.15M99.9 84.1h1.15M111.6 88.2h1.15M87.3 92.9h1.15M103.6 94.0h1.15M110.0 108.9h1.15M94.9 92.6h1.15M98.1 102.8h1.15M123.2 106.3h1.15M145.8 157.7h1.15M102.9 151.0h1.15M124.9 124.1h1.15M127.3 119.9h1.15M119.9 162.7h1.15M106.5 159.2h1.15M121.5 159.9h1.15M117.8 128.4h1.15M140.8 158.6h1.15M120.3 159.8h1.15M134.4 161.9h1.15M107.3 144.1h1.15M135.9 117.6h1.15M133.9 159.2h1.15M138.3 118.4h1.15M129.1 122.2h1.15M134.8 163.8h1.15M133.0 119.7h1.15M128.5 159.4h1.15M141.4 160.6h1.15M121.0 127.0h1.15M140.5 116.4h1.15M141.7 114.0h1.15M106.6 140.0h1.15M105.6 148.6h1.15M143.4 160.2h1.15M108.9 140.6h1.15M113.6 160.1h1.15M108.2 159.0h1.15M115.9 159.2h1.15M124.3 123.3h1.15M139.5 158.9h1.15M134.2 162.1h1.15M110.5 139.4h1.15M120.3 128.3h1.15M121.7 161.1h1.15M116.2 159.6h1.15M111.9 136.8h1.15M123.3 159.0h1.15M104.5 152.5h1.15M140.2 117.9h1.15M107.9 140.7h1.15M121.7 162.1h1.15M134.0 159.5h1.15M145.3 114.2h1.15M136.3 115.2h1.15M104.2 151.6h1.15M110.1 138.7h1.15M119.4 159.8h1.15M134.3 119.6h1.15M123.7 125.4h1.15M101.7 155.6h1.15M106.3 146.9h1.15M122.4 160.8h1.15M118.7 161.5h1.15M108.4 140.2h1.15M108.0 142.3h1.15M125.3 122.5h1.15M119.5 160.3h1.15M139.0 115.7h1.15M126.4 160.3h1.15M105.2 156.7h1.15M116.4 130.4h1.15M133.9 160.5h1.15M109.9 140.2h1.15M105.7 147.9h1.15M125.5 123.4h1.15M141.6 159.1h1.15M108.5 142.6h1.15M130.0 160.5h1.15M134.0 160.6h1.15M146.7 158.2h1.15M139.8 158.9h1.15M109.5 158.2h1.15M123.1 124.9h1.15M141.2 117.5h1.15M111.4 138.2h1.15M106.9 161.6h1.15M125.3 160.6h1.15M117.7 128.6h1.15M140.6 161.2h1.15M105.4 155.8h1.15M118.1 160.8h1.15M113.9 133.7h1.15M104.4 150.6h1.15M136.2 117.3h1.15M116.8 131.6h1.15M105.2 148.2h1.15M106.8 146.2h1.15M145.9 115.5h1.15M133.9 159.6h1.15M138.5 160.9h1.15M124.7 120.3h1.15M121.6 127.3h1.15M143.6 113.3h1.15M104.2 147.8h1.15M114.1 161.2h1.15M103.8 151.5h1.15M138.4 160.6h1.15M137.0 113.6h1.15M117.1 159.6h1.15M108.7 157.9h1.15M141.9 160.0h1.15M105.9 147.9h1.15M135.0 159.0h1.15M105.3 142.6h1.15M124.9 123.6h1.15M120.9 127.5h1.15M126.3 121.6h1.15M112.1 159.1h1.15M133.8 161.2h1.15M145.6 159.6h1.15M143.2 116.3h1.15M134.2 162.1h1.15M104.3 151.7h1.15M130.2 160.5h1.15M107.1 156.4h1.15M139.3 117.2h1.15M120.6 159.5h1.15M116.1 159.5h1.15M124.2 162.7h1.15M113.3 159.1h1.15M126.2 124.1h1.15M132.5 160.5h1.15M109.5 135.3h1.15M120.7 162.4h1.15M136.6 160.2h1.15M145.6 158.8h1.15M104.8 154.9h1.15M106.5 157.9h1.15M125.6 123.5h1.15M137.9 159.2h1.15M105.1 158.4h1.15M128.4 122.1h1.15M126.5 123.2h1.15M110.5 139.1h1.15M128.9 163.4h1.15M122.8 159.5h1.15M144.1 158.8h1.15M138.5 118.2h1.15M105.8 147.5h1.15M107.7 135.9h1.15M131.3 160.6h1.15M133.9 160.2h1.15M141.4 115.9h1.15M112.3 132.6h1.15M134.5 117.5h1.15M103.5 150.1h1.15M104.8 148.8h1.15M140.9 117.7h1.15M141.6 161.8h1.15M124.7 158.8h1.15M108.2 141.6h1.15M116.8 158.9h1.15M109.9 139.6h1.15M130.0 121.7h1.15M123.3 125.6h1.15M124.0 158.9h1.15M133.1 161.3h1.15M135.6 159.4h1.15M120.7 126.8h1.15M123.1 126.1h1.15M113.1 160.7h1.15M130.7 120.2h1.15M106.4 156.8h1.15M126.5 120.3h1.15M129.5 119.4h1.15M142.7 114.3h1.15M142.9 116.9h1.15M103.8 147.8h1.15M111.6 160.1h1.15M120.8 160.4h1.15M145.2 115.3h1.15M105.2 155.9h1.15M101.2 148.3h1.15M138.6 112.2h1.15M121.0 125.1h1.15M105.6 142.0h1.15M105.2 150.5h1.15M141.4 116.2h1.15M135.9 162.0h1.15M104.0 153.1h1.15M128.8 122.0h1.15M145.3 157.2h1.15M143.3 113.7h1.15M105.6 157.9h1.15M102.6 156.0h1.15M123.0 160.0h1.15M139.8 117.3h1.15M140.6 159.3h1.15M112.7 159.6h1.15M104.3 146.8h1.15M107.0 142.0h1.15M133.2 161.5h1.15M129.2 122.0h1.15M114.0 160.3h1.15M125.5 122.7h1.15M139.9 115.3h1.15M113.9 160.9h1.15M119.4 161.0h1.15M141.2 115.9h1.15M105.7 154.7h1.15M103.8 148.4h1.15M130.5 120.4h1.15M111.7 136.3h1.15M105.0 149.7h1.15M128.5 160.3h1.15M120.7 160.8h1.15M103.3 146.7h1.15M143.2 158.3h1.15M105.4 155.3h1.15M122.1 126.8h1.15M119.2 162.5h1.15M131.5 160.6h1.15M104.6 147.8h1.15M132.0 161.4h1.15M142.8 117.6h1.15M144.2 158.6h1.15M121.1 123.8h1.15M106.7 143.1h1.15M117.8 160.3h1.15M121.7 124.8h1.15M121.3 125.3h1.15M107.8 135.9h1.15M127.8 121.7h1.15M107.0 143.4h1.15M129.2 119.6h1.15M146.1 158.9h1.15M133.2 119.9h1.15M117.3 162.5h1.15M135.1 118.9h1.15M127.0 119.5h1.15M112.6 158.9h1.15M146.3 157.2h1.15M126.0 161.1h1.15M115.3 131.4h1.15M113.1 159.1h1.15M113.9 158.4h1.15M137.3 117.7h1.15M104.8 148.0h1.15M133.9 160.5h1.15M126.5 159.2h1.15M127.2 160.9h1.15M110.4 161.1h1.15M135.1 116.9h1.15M108.5 138.4h1.15M105.7 146.0h1.15M105.6 147.2h1.15M141.7 113.6h1.15M107.5 158.2h1.15M104.0 154.1h1.15M126.6 159.3h1.15M112.3 136.0h1.15M112.8 136.6h1.15M121.1 125.3h1.15M131.8 160.8h1.15M110.4 158.3h1.15M136.7 159.3h1.15M117.4 162.0h1.15M102.7 152.1h1.15M124.6 161.2h1.15M131.8 159.3h1.15M140.3 116.6h1.15M122.9 161.0h1.15M116.0 130.0h1.15M142.1 116.7h1.15M119.3 127.3h1.15M115.1 128.2h1.15M113.0 135.0h1.15M121.8 159.3h1.15M119.9 127.8h1.15M141.5 114.8h1.15M122.8 159.2h1.15M119.4 162.0h1.15M144.1 113.4h1.15M114.8 130.6h1.15M102.0 154.2h1.15M104.0 152.6h1.15M105.7 143.0h1.15M120.5 126.0h1.15M124.1 125.3h1.15M138.7 116.7h1.15M121.4 160.8h1.15M113.7 132.4h1.15M109.8 138.4h1.15M143.3 159.5h1.15M139.6 162.6h1.15M143.8 116.4h1.15M128.7 162.6h1.15M128.5 120.6h1.15M115.7 130.8h1.15M110.3 140.2h1.15M114.7 159.4h1.15M109.2 159.7h1.15M105.0 149.2h1.15M112.3 160.4h1.15M117.9 161.5h1.15M123.2 161.3h1.15M121.4 126.1h1.15M146.4 156.9h1.15M117.1 130.0h1.15M114.5 161.2h1.15M112.4 162.5h1.15M133.2 119.4h1.15M140.9 159.2h1.15M142.8 115.2h1.15M134.5 118.2h1.15M108.9 158.9h1.15M117.1 129.8h1.15M124.1 159.9h1.15M143.1 115.6h1.15M108.5 144.2h1.15M107.9 141.5h1.15M124.7 121.4h1.15M108.3 142.1h1.15M123.7 161.5h1.15M140.7 116.6h1.15M140.8 160.3h1.15M142.1 116.0h1.15M109.1 142.1h1.15M118.9 128.5h1.15M116.3 160.1h1.15M128.0 162.0h1.15M121.9 160.2h1.15M141.2 117.8h1.15M105.0 136.3h1.15M110.0 158.1h1.15M123.0 159.7h1.15M145.2 115.6h1.15M101.1 150.8h1.15M144.8 159.6h1.15M111.5 136.3h1.15M108.0 158.1h1.15M136.6 114.6h1.15M109.9 137.2h1.15M127.9 163.1h1.15M113.4 133.1h1.15M118.6 127.5h1.15M118.6 127.5h1.15M110.7 138.4h1.15M111.4 137.2h1.15M138.9 159.5h1.15M119.5 159.9h1.15M126.6 120.8h1.15M123.6 162.3h1.15M105.6 147.4h1.15M106.2 148.4h1.15M119.6 128.7h1.15M120.6 161.5h1.15M109.2 160.0h1.15M128.0 122.6h1.15M135.3 158.9h1.15M132.0 120.9h1.15M101.5 151.2h1.15M141.6 158.9h1.15M107.5 139.1h1.15M116.9 126.0h1.15M106.1 142.2h1.15M112.4 135.5h1.15M138.5 118.2h1.15M126.2 122.7h1.15M102.7 154.7h1.15M107.6 140.5h1.15M103.7 146.4h1.15M134.8 159.6h1.15M124.2 125.2h1.15M104.2 153.3h1.15M126.4 123.3h1.15M112.3 135.2h1.15M129.3 160.6h1.15M139.4 158.8h1.15M146.1 157.6h1.15M104.1 146.7h1.15M141.7 159.8h1.15M135.5 159.8h1.15M133.6 159.3h1.15M127.1 122.5h1.15M106.6 143.0h1.15M142.5 116.6h1.15M105.2 158.6h1.15M135.0 118.3h1.15M133.7 159.5h1.15M121.5 125.7h1.15M115.8 162.1h1.15M111.8 160.7h1.15M104.2 150.3h1.15M108.4 140.9h1.15M108.4 143.9h1.15M118.0 126.7h1.15M106.5 144.1h1.15M112.2 136.3h1.15M117.8 161.6h1.15M104.7 145.0h1.15M117.6 130.2h1.15M122.1 126.8h1.15M105.7 144.7h1.15M125.0 125.1h1.15M132.3 120.6h1.15M143.3 116.8h1.15M106.6 158.0h1.15M102.6 149.2h1.15M132.0 118.8h1.15M117.8 127.6h1.15M106.3 145.6h1.15M125.0 122.4h1.15M139.8 115.0h1.15M142.1 117.5h1.15M113.4 131.6h1.15M108.3 160.1h1.15M103.3 148.7h1.15M118.9 161.8h1.15M141.6 116.9h1.15M127.4 121.7h1.15M140.7 116.8h1.15M121.7 127.4h1.15M136.3 158.8h1.15M104.3 155.6h1.15M111.9 132.5h1.15M128.8 160.0h1.15M115.0 133.3h1.15M127.7 161.3h1.15M106.0 159.8h1.15M144.8 163.4h1.15M105.1 149.9h1.15M143.7 115.2h1.15M119.3 160.3h1.15M135.2 119.7h1.15M123.0 162.1h1.15M110.9 161.0h1.15M107.8 138.2h1.15M127.7 121.6h1.15M111.1 137.9h1.15M131.8 118.7h1.15M125.4 160.6h1.15M134.0 160.5h1.15M123.6 150.9h1.15M109.7 137.2h1.15M129.2 151.6h1.15M110.2 150.6h1.15M138.3 128.4h1.15M125.1 149.7h1.15M110.4 147.1h1.15M137.3 140.7h1.15M126.0 151.4h1.15M124.4 153.3h1.15M138.1 121.5h1.15M146.7 121.3h1.15M137.2 118.3h1.15M134.3 131.0h1.15M134.3 135.5h1.15M125.5 148.6h1.15M108.1 149.6h1.15M138.3 127.7h1.15M108.1 137.4h1.15M104.6 157.0h1.15M138.7 137.1h1.15M122.6 152.9h1.15M99.5 154.1h1.15M119.9 132.2h1.15M118.6 150.1h1.15M132.6 140.9h1.15M129.7 137.3h1.15M123.2 142.2h1.15M124.3 151.1h1.15M134.8 136.2h1.15M105.7 151.7h1.15M110.2 139.4h1.15M89.7 134.1h1.15M117.1 134.6h1.15M133.3 140.5h1.15M124.5 146.5h1.15M129.9 149.7h1.15M118.6 134.4h1.15M137.7 128.9h1.15M113.3 159.9h1.15M126.8 127.2h1.15M98.7 158.0h1.15M123.7 156.7h1.15M140.0 139.9h1.15M119.7 129.5h1.15M130.4 132.6h1.15M129.8 133.2h1.15M107.1 158.6h1.15M144.3 139.1h1.15M99.9 166.5h1.15M115.1 145.8h1.15M115.6 148.6h1.15M144.5 125.5h1.15M124.9 147.5h1.15M140.2 134.6h1.15M132.5 149.8h1.15M122.1 128.6h1.15M125.9 155.8h1.15M127.4 147.3h1.15M112.1 126.2h1.15M132.8 144.1h1.15M127.4 144.9h1.15M117.0 127.6h1.15M124.9 133.7h1.15M87.5 144.0h1.15M123.2 146.2h1.15M143.1 147.3h1.15M120.7 136.3h1.15M139.3 140.0h1.15M125.2 132.3h1.15M137.4 132.0h1.15M113.3 154.5h1.15M115.8 123.5h1.15M128.2 147.4h1.15M118.4 132.6h1.15M109.1 156.1h1.15M106.9 158.9h1.15M100.0 141.3h1.15M113.3 158.3h1.15M106.6 152.7h1.15M126.2 152.7h1.15M141.4 128.1h1.15M125.9 142.2h1.15M122.4 155.9h1.15M121.4 137.9h1.15M105.8 141.0h1.15M107.6 142.5h1.15M107.4 153.5h1.15M113.7 159.8h1.15M93.3 152.3h1.15M135.7 138.7h1.15M123.7 145.9h1.15M146.2 147.3h1.15M142.0 133.8h1.15M138.3 130.2h1.15M108.1 133.9h1.15M139.0 113.3h1.15M116.1 141.9h1.15M113.6 147.2h1.15M134.0 132.6h1.15M122.4 134.2h1.15M130.8 119.9h1.15M122.3 145.9h1.15M101.5 152.5h1.15M114.8 153.1h1.15M132.4 135.2h1.15M124.5 157.1h1.15M135.8 158.6h1.15M124.2 145.3h1.15M120.0 129.6h1.15M128.5 134.4h1.15M139.9 140.6h1.15M134.7 141.2h1.15M103.1 154.6h1.15M120.7 140.4h1.15M136.6 144.4h1.15M101.1 153.4h1.15M107.7 141.1h1.15M123.9 158.2h1.15M108.0 154.8h1.15M137.4 137.5h1.15M137.0 138.5h1.15M130.4 134.6h1.15M135.7 107.7h1.15M112.8 144.1h1.15M119.3 139.6h1.15M139.9 148.4h1.15M116.7 146.6h1.15M106.4 151.0h1.15M130.8 133.7h1.15M143.9 121.2h1.15M143.5 143.2h1.15M129.5 129.7h1.15M122.3 152.3h1.15M136.0 143.4h1.15M128.8 145.7h1.15M126.1 115.0h1.15M122.6 152.7h1.15M127.4 157.9h1.15M128.2 128.9h1.15M126.8 127.7h1.15M138.2 130.1h1.15M99.2 157.5h1.15M133.3 151.5h1.15M123.6 161.4h1.15M127.3 134.7h1.15M146.7 124.1h1.15M146.7 142.5h1.15M144.8 123.7h1.15M146.2 132.9h1.15M145.9 116.1h1.15M146.7 123.4h1.15M145.4 127.4h1.15M146.6 121.3h1.15M146.4 134.2h1.15M146.5 127.4h1.15M146.5 145.3h1.15M146.6 152.0h1.15M146.3 114.1h1.15M146.4 118.1h1.15M146.5 155.9h1.15M145.8 156.0h1.15M146.7 157.3h1.15M146.8 140.9h1.15M146.6 122.3h1.15M146.4 134.9h1.15M146.7 146.1h1.15M144.6 141.3h1.15M145.4 131.0h1.15M146.4 153.1h1.15M146.4 142.5h1.15M145.5 112.6h1.15M146.4 112.9h1.15M146.4 143.0h1.15M146.6 142.3h1.15M146.2 127.0h1.15M146.7 142.9h1.15M146.6 114.3h1.15M145.5 124.2h1.15M146.8 118.6h1.15M145.9 140.6h1.15M145.9 137.3h1.15M146.3 139.8h1.15M146.0 113.7h1.15M146.3 133.7h1.15M146.5 148.4h1.15M145.5 137.8h1.15M146.4 145.0h1.15M146.8 125.5h1.15M145.2 131.1h1.15M146.5 118.5h1.15M145.5 140.8h1.15M146.8 123.9h1.15M145.6 124.2h1.15M146.3 150.2h1.15M146.1 120.5h1.15M145.5 154.2h1.15M144.9 144.3h1.15M146.7 153.4h1.15M146.3 117.0h1.15M146.3 116.6h1.15M146.4 150.8h1.15M146.8 156.2h1.15M145.7 136.6h1.15M145.3 113.4h1.15M145.5 121.2h1.15M146.6 123.6h1.15M146.3 143.2h1.15M146.2 142.2h1.15M146.5 116.7h1.15M146.2 147.5h1.15M146.3 118.0h1.15M146.5 123.3h1.15M145.8 141.9h1.15M146.3 142.4h1.15M145.6 125.6h1.15M146.0 146.3h1.15M145.7 155.7h1.15M146.4 136.3h1.15M146.4 123.3h1.15M146.2 143.1h1.15M145.2 119.1h1.15M146.5 139.5h1.15M145.8 118.7h1.15M146.5 150.6h1.15M145.6 151.8h1.15" stroke="#111" stroke-width="1.15" fill="none"/>
<path d="M34.5 76.0L34.6 72.9L36.8 74.4L38.7 75.2L40.8 74.3L41.7 74.6L44.3 75.2L45.3 74.4L48.0 76.0L49.5 74.9L52.0 75.4L53.8 76.6L55.6 76.1L57.4 75.9L58.8 76.3L60.6 76.6L62.3 76.9L63.9 77.6L65.2 79.0L65.4 80.5L66.7 81.2L66.7 84.1L67.0 85.0L65.9 87.2L63.9 88.0L63.8 90.4L62.7 91.2L60.7 91.8L59.3 91.9L56.7 93.3L54.1 94.5L52.8 94.6L52.7 95.0L49.5 97.1L47.5 96.7L46.8 97.6L44.9 97.4L43.5 97.3L41.3 95.7L39.1 94.8L37.6 95.4L36.0 98.0L33.7 97.4L33.2 96.5L32.9 94.9L33.0 93.4L33.9 91.4L33.2 90.3L33.6 87.4L33.6 86.4L33.5 84.1L32.1 81.8L33.5 80.3L33.1 79.6L34.5 77.2Z" fill="#7f7f7f" stroke="#2e2e2e" stroke-width="0.6"/>
<path d="M35.6 78.9L35.6 78.7L37.8 78.1L40.0 77.8L42.2 77.6L43.1 77.5L45.2 77.8L46.6 77.2L48.6 77.1L50.9 77.3L51.9 77.3L54.1 77.2L55.6 78.2L57.7 78.1L58.8 78.6L59.5 79.6L61.1 81.0L60.7 82.8L60.7 85.1L59.3 86.4L58.1 87.2L55.7 88.2L53.7 89.7L52.6 90.4L50.5 90.7L49.2 91.5L47.6 91.9L46.2 93.0L44.6 93.2L42.3 92.9L40.4 92.7L38.9 91.9L37.2 91.6L36.2 90.6L34.9 89.0L34.4 87.8L34.5 85.4L34.4 82.6L34.1 81.0Z" fill="#939393" stroke="#2e2e2e" stroke-width="0.5"/>
<path d="M37.3 82.7L38.1 82.1L39.9 81.0L42.6 81.0L44.3 81.0L46.3 80.3L48.7 80.4L49.4 79.7L52.2 79.5L53.4 79.9L54.4 80.7L55.3 83.4L54.9 85.2L52.8 86.1L51.9 87.0L50.3 87.1L48.8 87.6L46.7 88.8L45.1 89.7L42.4 89.6L41.7 89.4L39.8 88.7L38.2 88.4L36.6 87.0L36.2 84.9Z" fill="#b8b8b8" stroke="#2e2e2e" stroke-width="0.5"/>
<path d="M105.6 152.6L105.8 151.7L105.6 149.3L105.7 147.2L106.7 146.0L107.5 144.0L108.9 142.3L109.6 141.8L111.5 139.1L111.6 137.8L112.6 137.3L114.4 135.7L116.1 133.5L116.2 132.5L118.2 131.1L119.3 130.6L120.9 129.0L121.2 126.7L123.6 126.8L123.9 125.2L125.6 123.6L127.4 123.1L128.6 123.1L130.1 122.2L131.8 121.2L133.0 121.5L134.8 120.6L136.3 119.4L138.8 118.1L139.0 119.0L141.4 117.3L144.3 116.5L146.3 115.3L146.6 118.5L147.0 119.1L147.9 120.7L147.6 121.3L147.6 121.9L147.4 124.0L147.2 126.4L147.7 129.1L148.7 129.1L147.9 131.6L148.1 134.2L148.3 136.3L148.2 138.0L146.3 139.5L147.2 141.8L147.1 144.8L147.5 146.3L147.3 148.1L146.8 149.0L146.7 150.2L148.3 150.1L146.9 155.3L147.1 155.5L146.6 157.0L145.5 157.8L142.6 157.8L142.1 157.6L139.1 159.0L137.7 159.3L134.2 160.1L133.4 159.1L131.9 159.0L129.6 159.0L129.1 158.5L125.3 159.5L125.0 159.6L124.1 158.7L121.6 159.4L120.7 159.6L117.4 158.1L115.6 157.9L114.4 158.3L111.8 157.8L111.2 158.1L108.8 157.8L107.3 156.9L106.9 155.3L105.6 154.3Z" fill="#7f7f7f" stroke="#2e2e2e" stroke-width="0.6"/>
<path d="M109.3 152.2L109.3 150.6L110.0 149.1L111.0 147.8L112.0 145.9L112.8 144.0L114.6 142.5L115.4 140.5L116.5 138.8L118.0 138.6L118.8 137.1L119.7 136.6L121.3 135.5L123.0 134.5L123.4 133.0L124.9 132.1L125.9 130.9L127.9 130.3L130.0 129.4L132.0 128.0L132.9 127.8L134.9 126.7L136.8 126.8L138.4 125.9L140.3 125.3L142.5 124.9L144.1 124.9L144.8 126.7L146.3 127.5L146.3 128.3L146.1 129.9L146.4 132.2L146.0 133.7L146.3 136.6L146.5 137.9L146.6 140.0L146.4 141.4L146.2 144.2L146.4 145.2L145.8 146.8L146.0 147.8L145.6 150.5L144.4 152.5L143.1 153.5L140.9 153.9L139.9 154.4L138.7 154.8L136.7 155.0L135.1 154.7L133.0 155.1L131.6 155.1L129.7 155.0L127.6 155.8L125.9 155.8L123.6 155.6L122.4 155.6L120.1 155.9L118.1 156.0L117.2 156.0L115.5 155.3L114.0 155.3L113.2 155.2L110.7 154.9L109.6 153.2Z" fill="#939393" stroke="#2e2e2e" stroke-width="0.5"/>
<path d="M112.4 151.7L113.1 150.5L113.6 149.5L114.8 148.0L115.9 146.5L117.4 145.9L118.8 144.4L121.1 143.1L122.5 142.1L123.7 141.2L124.3 140.5L126.8 139.4L127.9 138.6L129.0 138.3L130.6 137.7L132.4 136.7L133.9 136.3L136.8 135.5L137.9 135.3L140.3 134.7L140.9 135.0L142.6 136.7L142.7 137.4L143.3 140.2L142.5 141.3L143.3 143.0L142.8 145.0L142.2 146.8L141.1 148.4L139.8 149.0L139.0 149.7L137.1 150.3L135.3 151.8L134.0 152.3L132.3 152.3L130.5 152.6L128.9 153.0L126.9 153.0L125.5 153.0L123.5 153.4L122.1 153.2L120.4 153.1L119.2 153.2L116.1 153.1L114.7 153.1L112.7 152.7Z" fill="#b8b8b8" stroke="#2e2e2e" stroke-width="0.5"/>
<path d="M117.2 149.7L118.4 148.6L120.0 147.8L122.2 147.4L124.2 146.6L125.4 146.3L127.1 146.6L129.5 145.4L130.0 146.2L131.8 146.2L133.6 147.2L134.2 149.0L133.5 150.2L131.8 151.0L130.0 151.5L127.9 151.1L126.8 151.5L124.4 151.9L122.3 152.2L120.6 151.6L118.3 150.7Z" fill="#d6d6d6" stroke="#2e2e2e" stroke-width="0.5"/>
<path d="M47.6 97.3h1.1M63.8 78.4h1.1M43.1 95.5h1.1M35.4 96.0h1.1M64.2 79.1h1.1M33.3 87.3h1.1M64.5 77.2h1.1M33.7 94.1h1.1M64.5 88.0h1.1M58.2 77.5h1.1M46.9 96.7h1.1M36.3 75.6h1.1M45.8 75.0h1.1M55.0 93.0h1.1M56.7 76.8h1.1M49.0 97.1h1.1M35.8 73.4h1.1M67.1 81.6h1.1M58.0 91.2h1.1M52.9 76.1h1.1M61.1 79.0h1.1M43.4 94.8h1.1M63.9 79.3h1.1M66.3 83.3h1.1M33.2 92.8h1.1M61.5 76.5h1.1M54.5 77.1h1.1M41.1 76.9h1.1M43.0 75.2h1.1M33.9 76.9h1.1M47.1 75.8h1.1M50.6 93.7h1.1M49.4 95.8h1.1M34.8 97.3h1.1M58.4 76.7h1.1M48.9 96.5h1.1M55.2 93.8h1.1M59.7 92.2h1.1M33.8 80.4h1.1M64.4 85.5h1.1M37.1 94.9h1.1M64.7 85.4h1.1M32.9 82.8h1.1M33.7 79.8h1.1M62.4 90.5h1.1M35.7 96.6h1.1M35.0 84.7h1.1M62.9 78.2h1.1M44.8 75.7h1.1M34.2 78.1h1.1M35.4 93.0h1.1M50.9 75.5h1.1M43.3 96.0h1.1M53.6 94.2h1.1M53.6 76.1h1.1M55.9 77.1h1.1M41.9 94.5h1.1M39.6 74.2h1.1M63.2 87.7h1.1M54.2 94.3h1.1M40.6 75.1h1.1M50.4 74.9h1.1M62.9 77.4h1.1M33.5 96.0h1.1M45.6 98.0h1.1M34.5 97.0h1.1M34.7 74.5h1.1M46.7 75.9h1.1M36.9 96.8h1.1M44.6 96.5h1.1M33.7 77.6h1.1M34.8 93.3h1.1M40.2 95.9h1.1M66.8 80.7h1.1M33.0 89.5h1.1M33.7 75.7h1.1M63.9 88.9h1.1M33.3 87.1h1.1M65.5 86.4h1.1M34.2 86.2h1.1M64.7 82.8h1.1M64.8 81.5h1.1M60.4 90.8h1.1M46.6 74.5h1.1M60.0 91.2h1.1M61.4 79.1h1.1M33.9 86.4h1.1M53.6 95.2h1.1M36.2 74.1h1.1M50.6 75.4h1.1M43.9 96.5h1.1M56.2 75.6h1.1M60.3 90.7h1.1M51.1 75.6h1.1M40.6 74.7h1.1M48.6 76.0h1.1M33.3 76.9h1.1M48.1 95.2h1.1M65.7 85.3h1.1M58.6 92.0h1.1M60.0 90.8h1.1M55.9 76.8h1.1M38.8 75.1h1.1M34.1 94.0h1.1M48.3 95.8h1.1M64.5 80.2h1.1M50.1 77.2h1.1M35.3 78.2h1.1M55.9 91.2h1.1M45.8 75.0h1.1M64.4 86.4h1.1M59.4 91.5h1.1M46.2 95.1h1.1M38.2 77.2h1.1M53.9 93.5h1.1M44.9 96.2h1.1M53.2 77.1h1.1M45.0 94.8h1.1M36.7 75.8h1.1M35.7 97.4h1.1M33.8 95.9h1.1M53.8 93.8h1.1M47.9 76.8h1.1M50.7 75.1h1.1M55.3 92.5h1.1M33.3 88.1h1.1M54.3 76.4h1.1M65.4 86.0h1.1M45.9 74.8h1.1M61.8 90.3h1.1M146.5 130.0h1.1M146.7 148.8h1.1M134.8 129.2h1.1M146.4 157.3h1.1M145.7 125.6h1.1M145.2 151.1h1.1M141.7 136.6h1.1M144.4 120.0h1.1M142.6 116.1h1.1M146.6 117.8h1.1M137.6 125.2h1.1M143.3 147.5h1.1M139.2 127.0h1.1M143.9 130.0h1.1M143.4 118.2h1.1M145.7 135.5h1.1M142.6 134.7h1.1M146.4 128.6h1.1M142.6 119.1h1.1M146.0 149.4h1.1M145.8 146.9h1.1M138.1 132.0h1.1M137.1 150.8h1.1M138.4 134.4h1.1M144.2 121.6h1.1M144.1 151.3h1.1M144.1 116.4h1.1M140.7 135.4h1.1M142.1 119.9h1.1M141.2 124.7h1.1M146.3 151.5h1.1M144.3 119.9h1.1M143.2 146.2h1.1M131.6 151.4h1.1M146.3 144.6h1.1M144.3 119.8h1.1M145.4 148.7h1.1M138.5 154.4h1.1M145.7 136.9h1.1M142.1 144.9h1.1M143.9 125.8h1.1M146.9 123.7h1.1M144.3 139.6h1.1M144.6 119.9h1.1M145.7 123.8h1.1M144.4 134.0h1.1M145.5 151.4h1.1M144.5 145.1h1.1M137.5 135.3h1.1M146.6 119.8h1.1M139.0 125.3h1.1M123.1 153.0h1.1M145.2 153.5h1.1M145.6 125.8h1.1M139.6 122.5h1.1M137.6 144.8h1.1M141.6 117.9h1.1M142.3 146.2h1.1M137.6 141.3h1.1M143.3 156.8h1.1M145.4 118.8h1.1M142.6 121.6h1.1M142.3 129.4h1.1M143.9 135.2h1.1M131.4 155.6h1.1M145.0 117.5h1.1M145.9 143.6h1.1M146.2 139.0h1.1M141.4 132.2h1.1M146.1 152.4h1.1M143.5 132.2h1.1M142.7 118.5h1.1M139.1 126.4h1.1M143.4 145.0h1.1M146.7 123.6h1.1M138.0 150.6h1.1M144.2 143.7h1.1M143.4 136.2h1.1M142.5 156.4h1.1M146.5 155.8h1.1M144.4 133.9h1.1M142.7 124.4h1.1M142.8 142.9h1.1M140.6 127.8h1.1M146.8 149.9h1.1M146.0 125.3h1.1M146.6 155.0h1.1M146.8 137.2h1.1M146.8 131.2h1.1M146.3 116.8h1.1M145.8 127.4h1.1M140.8 147.1h1.1M134.9 127.8h1.1M145.7 152.7h1.1M146.0 127.9h1.1M142.0 121.7h1.1M146.1 146.0h1.1M124.9 148.4h1.1M145.8 139.4h1.1M146.5 117.0h1.1M144.1 146.0h1.1M145.4 127.2h1.1M146.5 135.6h1.1M137.8 136.8h1.1M135.2 153.1h1.1M145.2 155.4h1.1M141.7 153.0h1.1M140.8 156.8h1.1M143.3 123.6h1.1M146.4 138.8h1.1M142.3 153.9h1.1M136.0 143.2h1.1M143.1 151.9h1.1M145.0 137.8h1.1M146.4 123.3h1.1M145.8 138.7h1.1M143.8 122.7h1.1M146.0 142.2h1.1M146.7 146.4h1.1M142.3 143.3h1.1M144.5 136.5h1.1M145.0 140.8h1.1M141.1 151.8h1.1M140.6 143.3h1.1M139.7 154.0h1.1M145.3 144.6h1.1M145.3 143.2h1.1M143.8 122.6h1.1M138.3 157.8h1.1M146.3 127.8h1.1M145.3 129.8h1.1M142.8 148.6h1.1M138.9 123.0h1.1M136.6 136.4h1.1M143.0 134.4h1.1M146.6 148.0h1.1M142.8 124.4h1.1M146.6 143.5h1.1M144.3 140.3h1.1M146.3 117.8h1.1M34.3 84.0h1.1M33.8 92.9h1.1M35.1 97.3h1.1M33.3 79.3h1.1M33.8 96.3h1.1M37.4 76.0h1.1M33.0 88.9h1.1M33.7 96.3h1.1M38.2 86.9h1.1M36.3 86.9h1.1M36.0 84.9h1.1M39.9 86.5h1.1M33.1 80.4h1.1M43.3 80.6h1.1M35.6 92.0h1.1M35.8 80.2h1.1M38.9 79.0h1.1M34.4 87.2h1.1M33.2 86.9h1.1M33.1 75.0h1.1M36.7 90.9h1.1M34.7 77.0h1.1M36.4 92.0h1.1M42.8 85.5h1.1M33.3 80.0h1.1M33.7 82.2h1.1M33.9 86.4h1.1M33.2 83.7h1.1M33.0 89.1h1.1M35.9 74.6h1.1M33.0 84.5h1.1M36.9 82.0h1.1M33.2 91.7h1.1M33.4 89.1h1.1M37.1 76.6h1.1M38.9 76.1h1.1M39.9 88.1h1.1M40.4 96.4h1.1M38.8 90.3h1.1M34.4 90.0h1.1M35.7 85.6h1.1M36.9 79.3h1.1M35.8 76.7h1.1M33.4 78.5h1.1M33.4 97.7h1.1M33.1 92.6h1.1M33.5 75.8h1.1M33.9 81.0h1.1M33.4 91.6h1.1M34.1 81.1h1.1M33.5 78.1h1.1M35.1 96.1h1.1M33.6 88.0h1.1M37.1 74.3h1.1M39.0 76.7h1.1M34.6 84.1h1.1M33.2 90.3h1.1M35.9 93.5h1.1M35.4 80.3h1.1M33.6 93.8h1.1M36.9 78.6h1.1M33.5 77.6h1.1M33.7 93.6h1.1M36.1 80.3h1.1M35.0 87.8h1.1M34.6 91.9h1.1M37.7 79.1h1.1M39.6 86.4h1.1M33.9 97.9h1.1M36.1 74.4h1.1M35.5 79.1h1.1M37.2 95.9h1.1M36.3 90.4h1.1M33.8 90.6h1.1M34.1 83.6h1.1M37.3 79.7h1.1M33.3 77.4h1.1M33.9 81.5h1.1M33.8 89.1h1.1M40.0 97.5h1.1M33.2 92.1h1.1M35.2 90.2h1.1M36.3 74.7h1.1M34.4 97.0h1.1M33.2 92.0h1.1M38.4 84.9h1.1M42.8 81.7h1.1M33.3 78.5h1.1M40.2 91.8h1.1M33.6 76.6h1.1M145.8 128.6h1.1M113.3 139.2h1.1M132.5 159.3h1.1M146.5 124.3h1.1M144.3 155.9h1.1M114.0 135.0h1.1M111.3 141.0h1.1M120.6 131.4h1.1M111.9 156.3h1.1M146.3 147.1h1.1M107.3 146.4h1.1M146.4 138.4h1.1M141.6 119.1h1.1M126.8 158.3h1.1M124.1 126.1h1.1M127.4 125.1h1.1M110.5 142.2h1.1M120.3 129.3h1.1M106.2 152.8h1.1M146.3 127.9h1.1M146.8 117.8h1.1M109.5 140.1h1.1M144.9 156.9h1.1M144.5 158.6h1.1M133.4 156.6h1.1M125.7 124.7h1.1M141.3 157.9h1.1M117.2 157.3h1.1M113.8 157.5h1.1M109.6 142.5h1.1M120.9 129.1h1.1M138.8 118.2h1.1M113.4 136.1h1.1M109.4 144.5h1.1M119.5 157.3h1.1M127.5 125.4h1.1M117.4 133.4h1.1M131.9 159.2h1.1M144.6 116.6h1.1M118.2 132.6h1.1M112.6 158.0h1.1M125.0 159.0h1.1M111.5 157.3h1.1M125.3 125.1h1.1M145.3 156.2h1.1M106.3 146.2h1.1M117.1 135.2h1.1M145.7 119.2h1.1M140.4 158.7h1.1M114.5 157.4h1.1M139.8 159.3h1.1M109.7 142.3h1.1M110.5 156.7h1.1M134.0 158.5h1.1M125.4 126.8h1.1M133.9 119.9h1.1M134.0 120.8h1.1M113.3 135.7h1.1M143.1 117.9h1.1M123.7 127.2h1.1M109.5 157.4h1.1M122.3 158.1h1.1M131.5 123.3h1.1M113.7 158.4h1.1M146.7 123.7h1.1M141.0 158.5h1.1M141.8 119.1h1.1M120.0 157.3h1.1M112.1 139.3h1.1M135.0 158.9h1.1M145.8 155.4h1.1M115.6 132.3h1.1M142.5 120.4h1.1M135.2 119.7h1.1M146.0 155.8h1.1M121.1 157.6h1.1M123.0 159.1h1.1M132.0 159.3h1.1M124.2 126.3h1.1M138.7 120.9h1.1M143.8 155.8h1.1M145.7 150.2h1.1M145.3 116.2h1.1M146.1 134.0h1.1M144.3 155.6h1.1M105.6 152.5h1.1M126.2 159.0h1.1M140.6 117.5h1.1M108.3 146.1h1.1M131.4 157.0h1.1M134.0 157.3h1.1M116.9 159.2h1.1M133.6 156.8h1.1M110.2 139.5h1.1M118.6 131.0h1.1M121.7 156.9h1.1M146.3 139.0h1.1M139.8 119.4h1.1M113.8 158.0h1.1M114.5 133.6h1.1M133.5 159.7h1.1M145.8 157.5h1.1M145.5 117.0h1.1M146.5 128.8h1.1M129.0 159.1h1.1M138.2 159.3h1.1M112.4 138.3h1.1M110.0 140.7h1.1M126.8 125.3h1.1M129.7 157.7h1.1M118.9 131.2h1.1M126.7 157.4h1.1M146.3 124.7h1.1M146.0 140.1h1.1M146.4 149.6h1.1M105.7 149.2h1.1M106.4 154.8h1.1M136.3 118.9h1.1M146.4 150.5h1.1M136.2 119.9h1.1M110.2 157.0h1.1M119.0 157.4h1.1M106.2 150.1h1.1M132.3 157.4h1.1M129.0 125.0h1.1M107.0 153.7h1.1M106.9 155.7h1.1M146.8 155.5h1.1M146.4 141.3h1.1M146.3 155.8h1.1M118.0 131.2h1.1M112.5 156.2h1.1M115.4 135.8h1.1M112.1 140.2h1.1M123.6 157.5h1.1M146.0 128.5h1.1M105.4 153.5h1.1M122.3 127.1h1.1M117.0 133.2h1.1M146.3 121.9h1.1M108.7 156.3h1.1M145.8 128.4h1.1M135.3 158.6h1.1M145.4 133.6h1.1M107.1 147.6h1.1M111.6 137.9h1.1M105.6 150.7h1.1M140.1 118.9h1.1M114.3 157.6h1.1M145.4 150.7h1.1M124.6 158.4h1.1M145.8 116.8h1.1M146.5 119.7h1.1M133.6 156.9h1.1M112.0 136.8h1.1M124.7 126.5h1.1M125.7 126.5h1.1M145.3 145.6h1.1M108.5 143.3h1.1M124.1 156.9h1.1M107.1 156.0h1.1M111.6 141.1h1.1M115.9 135.5h1.1M130.5 158.6h1.1M146.9 151.0h1.1M111.4 139.7h1.1M107.0 152.6h1.1M106.8 144.5h1.1M140.2 159.6h1.1M146.1 155.3h1.1M121.9 129.6h1.1M138.0 120.5h1.1M116.0 133.5h1.1M140.7 120.3h1.1M141.8 117.7h1.1M125.3 124.4h1.1M106.4 148.0h1.1M109.3 141.3h1.1M106.3 148.8h1.1M112.3 136.6h1.1M145.5 142.1h1.1M109.1 143.0h1.1M109.1 144.1h1.1M122.6 127.3h1.1M146.3 148.0h1.1M124.9 159.0h1.1M119.8 130.9h1.1M128.2 122.3h1.1M126.4 125.8h1.1M113.4 156.6h1.1M142.6 158.1h1.1M117.8 129.8h1.1M116.4 134.9h1.1M145.6 150.3h1.1M144.0 115.1h1.1M117.4 131.1h1.1M106.8 150.4h1.1M144.7 157.8h1.1M112.6 137.4h1.1M135.6 119.6h1.1M118.4 157.9h1.1M126.8 158.7h1.1M116.4 132.2h1.1M145.3 156.1h1.1M106.0 147.3h1.1M114.2 156.5h1.1M146.5 140.5h1.1M146.7 145.7h1.1M146.6 138.6h1.1M117.3 132.6h1.1M133.0 121.8h1.1M123.4 159.1h1.1M145.4 122.4h1.1M143.8 157.3h1.1M119.2 131.2h1.1M137.9 157.5h1.1M146.5 127.9h1.1M109.1 144.6h1.1M126.2 126.3h1.1M118.2 159.4h1.1M135.4 119.0h1.1M125.6 125.2h1.1" stroke="#111" stroke-width="1.1" fill="none"/>
<rect x="30" y="66.8" width="118" height="106.6" fill="none" stroke="#111" stroke-width="1.2"/>
<rect x="30.3" y="67" width="2.5" height="32.5" fill="#1a1a1a"/>
<path d="M30.88 173.4v6.4M34.56 173.4v6.4M37.42 173.4v6.4M39.76 173.4v6.4M41.73 173.4v6.4M43.44 173.4v6.4M44.95 173.4v6.4M46.3 173.4v10.7M55.18 173.4v6.4M60.38 173.4v6.4M64.06 173.4v6.4M66.92 173.4v6.4M69.26 173.4v6.4M71.23 173.4v6.4M72.94 173.4v6.4M74.45 173.4v6.4M75.8 173.4v10.7M84.68 173.4v6.4M89.88 173.4v6.4M93.56 173.4v6.4M96.42 173.4v6.4M98.76 173.4v6.4M100.73 173.4v6.4M102.44 173.4v6.4M103.95 173.4v6.4M105.3 173.4v10.7M114.18 173.4v6.4M119.38 173.4v6.4M123.06 173.4v6.4M125.92 173.4v6.4M128.26 173.4v6.4M130.23 173.4v6.4M131.94 173.4v6.4M133.45 173.4v6.4M134.8 173.4v10.7M143.68 173.4v6.4" fill="none" stroke="#111" stroke-width="1.35"/>
<path d="M30 68.47h-4.6M30 94.47h-4.6M30 89.89h-4.6M30 86.65h-4.6M30 84.13h-4.6M30 82.07h-4.6M30 80.33h-4.6M30 78.82h-4.6M30 77.49h-4.6M30 76.3h-8.8M30 120.47h-4.6M30 115.89h-4.6M30 112.65h-4.6M30 110.13h-4.6M30 108.07h-4.6M30 106.33h-4.6M30 104.82h-4.6M30 103.49h-4.6M30 102.3h-8.8M30 146.47h-4.6M30 141.89h-4.6M30 138.65h-4.6M30 136.13h-4.6M30 134.07h-4.6M30 132.33h-4.6M30 130.82h-4.6M30 129.49h-4.6M30 128.3h-8.8M30 172.47h-4.6M30 167.89h-4.6M30 164.65h-4.6M30 162.13h-4.6M30 160.07h-4.6M30 158.33h-4.6M30 156.82h-4.6M30 155.49h-4.6M30 154.3h-8.8" fill="none" stroke="#111" stroke-width="1.35"/>
<path d="M21 173.4L30 173.4" stroke="#1a1a1a" stroke-width="1"/>
<path d="M24.9 178L24.9 186.5" stroke="#c4c4c4" stroke-width="1"/>
<path d="M195 67.2L195 172.8" stroke="#8a8a8a" stroke-width="1"/>
<path d="M157.6 114.6L275.8 114.6" stroke="#8a8a8a" stroke-width="1"/>
<path d="M204.5 74.0h1.15M188.7 93.2h1.15M192.4 73.7h1.15M189.8 92.8h1.15M214.6 86.4h1.15M177.4 71.4h1.15M198.2 92.1h1.15M206.1 91.4h1.15M163.2 94.3h1.15M174.1 72.3h1.15M191.0 72.0h1.15M171.1 91.2h1.15M191.3 92.6h1.15M213.5 89.0h1.15M160.7 72.4h1.15M166.5 71.4h1.15M168.1 73.2h1.15M164.8 92.5h1.15M184.8 94.9h1.15M198.9 92.6h1.15M161.3 72.4h1.15M166.2 92.3h1.15M200.5 74.2h1.15M189.4 71.7h1.15M175.9 94.8h1.15M160.0 73.2h1.15M185.7 71.6h1.15M216.4 84.5h1.15M181.4 72.8h1.15M180.4 70.8h1.15M202.7 92.4h1.15M159.0 93.5h1.15M160.3 73.2h1.15M186.3 73.1h1.15M191.3 92.3h1.15M197.5 71.8h1.15M209.4 76.3h1.15M167.8 94.2h1.15M174.3 73.3h1.15M184.8 70.0h1.15M157.9 73.3h1.15M186.7 93.0h1.15M185.7 71.2h1.15M216.2 81.6h1.15M188.6 72.9h1.15M194.2 94.2h1.15M174.5 93.4h1.15M201.6 74.6h1.15M187.5 95.2h1.15M188.2 96.1h1.15M218.1 84.3h1.15M175.2 91.4h1.15M176.2 93.8h1.15M181.6 73.2h1.15M164.9 70.9h1.15M171.3 72.6h1.15M186.8 94.8h1.15M163.6 90.8h1.15M180.0 71.7h1.15M174.2 72.8h1.15M206.1 93.1h1.15M210.4 88.5h1.15M217.2 87.6h1.15M208.6 91.9h1.15M210.7 77.9h1.15M171.7 92.9h1.15M196.9 73.1h1.15M216.0 79.8h1.15M208.8 75.9h1.15M189.4 71.9h1.15M189.2 72.8h1.15M202.9 74.8h1.15M185.4 71.9h1.15M218.6 86.7h1.15M162.5 92.9h1.15M203.3 91.0h1.15M164.4 92.0h1.15M205.3 93.8h1.15M191.6 91.7h1.15M181.7 72.4h1.15M191.8 73.7h1.15M211.5 78.3h1.15M207.2 90.1h1.15M208.9 76.0h1.15M193.4 94.6h1.15M203.5 74.7h1.15M194.2 92.8h1.15M160.1 95.0h1.15M215.9 80.2h1.15M171.2 72.7h1.15M163.6 72.1h1.15M209.8 76.1h1.15M217.4 87.3h1.15M174.8 71.7h1.15M208.0 77.1h1.15M163.6 71.9h1.15M176.6 93.5h1.15M191.7 92.7h1.15M214.8 87.7h1.15M164.7 93.1h1.15M196.2 72.8h1.15M199.6 93.5h1.15M217.6 85.9h1.15M217.1 79.8h1.15M217.1 84.0h1.15M196.9 73.2h1.15M157.8 89.8h1.15M176.1 73.0h1.15M196.5 96.1h1.15M170.0 91.6h1.15M177.9 93.6h1.15M165.5 73.2h1.15M179.2 72.6h1.15M175.6 72.5h1.15M221.4 84.6h1.15M181.2 71.6h1.15M200.6 92.5h1.15M191.7 93.2h1.15M208.4 89.5h1.15M216.5 83.6h1.15M161.6 92.7h1.15M203.0 92.7h1.15M198.4 90.7h1.15M193.2 91.5h1.15M171.3 93.8h1.15M203.8 74.9h1.15M169.1 93.5h1.15M190.1 93.2h1.15M174.2 92.6h1.15M186.8 92.7h1.15M165.6 91.0h1.15M176.9 93.9h1.15M177.0 72.8h1.15M208.2 89.3h1.15M210.8 76.6h1.15M177.1 94.6h1.15M209.7 89.1h1.15M187.7 93.1h1.15M217.3 82.9h1.15M182.4 73.3h1.15M219.4 79.9h1.15M180.3 70.1h1.15M213.7 87.2h1.15M207.6 90.5h1.15M217.7 86.5h1.15M178.2 71.3h1.15M195.2 70.6h1.15M199.3 94.9h1.15M186.1 72.2h1.15M196.7 93.2h1.15M164.8 73.5h1.15M192.3 91.7h1.15M212.9 78.3h1.15M171.1 72.2h1.15M181.1 72.3h1.15M217.0 84.4h1.15M167.3 72.8h1.15M163.2 71.4h1.15M190.5 73.4h1.15M171.3 69.6h1.15M210.5 90.5h1.15M178.9 70.2h1.15M163.4 93.5h1.15M180.3 72.7h1.15M185.2 71.4h1.15M165.0 91.7h1.15M167.2 72.3h1.15M197.5 74.2h1.15M212.9 76.7h1.15M207.1 76.5h1.15M211.8 76.8h1.15M183.2 95.4h1.15M173.3 93.5h1.15M196.6 72.1h1.15M164.4 92.8h1.15M186.5 73.2h1.15M214.3 77.0h1.15M187.2 73.1h1.15M165.7 71.9h1.15M194.8 93.3h1.15M187.0 70.1h1.15M179.3 93.4h1.15M193.8 73.6h1.15M164.6 92.2h1.15M184.2 71.6h1.15M185.3 96.3h1.15M183.0 93.3h1.15M191.7 92.2h1.15M166.2 93.3h1.15M217.9 80.6h1.15M167.7 70.8h1.15M164.4 71.4h1.15M202.6 92.4h1.15M187.0 71.4h1.15M202.8 92.8h1.15M211.0 90.1h1.15M158.9 71.4h1.15M166.3 92.3h1.15M173.7 92.6h1.15M215.2 88.3h1.15M189.8 91.7h1.15M193.4 71.2h1.15M161.4 71.6h1.15M182.5 93.8h1.15M173.1 72.2h1.15M195.9 92.5h1.15M200.0 92.0h1.15M194.5 73.2h1.15M217.8 81.3h1.15M200.4 91.6h1.15M201.7 92.8h1.15M218.7 78.9h1.15M217.0 83.0h1.15M158.3 72.8h1.15M197.2 92.1h1.15M178.7 73.8h1.15M170.6 91.5h1.15M216.4 84.2h1.15M192.2 92.0h1.15M186.4 72.1h1.15M191.5 72.0h1.15M174.9 93.7h1.15M200.8 93.0h1.15M157.6 92.9h1.15M191.3 70.4h1.15M180.2 94.9h1.15M199.8 92.3h1.15M167.4 94.7h1.15M168.2 73.6h1.15M181.1 95.4h1.15M172.1 71.8h1.15M186.4 94.1h1.15M185.6 70.4h1.15M188.2 73.2h1.15M218.0 81.7h1.15M203.9 93.5h1.15M167.2 72.7h1.15M177.8 92.9h1.15M168.2 70.9h1.15M197.6 91.9h1.15M210.0 76.1h1.15M197.7 74.4h1.15M165.7 71.8h1.15M209.2 88.9h1.15M190.7 92.2h1.15M207.2 77.3h1.15M158.2 73.9h1.15M170.6 94.1h1.15M159.6 95.8h1.15M198.6 74.5h1.15M187.7 93.8h1.15M191.2 91.2h1.15M215.9 91.2h1.15M175.9 73.1h1.15M200.0 92.2h1.15M204.7 74.9h1.15M161.3 69.9h1.15M209.4 78.0h1.15M219.0 83.2h1.15M179.0 73.4h1.15M164.4 94.0h1.15M180.9 94.9h1.15M166.6 92.8h1.15M195.5 93.9h1.15M186.9 73.2h1.15M185.9 93.3h1.15M166.2 73.8h1.15M164.1 91.4h1.15M173.2 72.4h1.15M200.5 72.7h1.15M194.1 72.3h1.15M157.9 91.4h1.15M183.1 93.3h1.15M218.1 86.0h1.15M185.4 95.4h1.15M218.3 85.2h1.15M164.2 72.3h1.15M158.1 74.5h1.15M170.3 92.0h1.15M193.6 73.4h1.15M187.2 94.2h1.15M167.2 92.6h1.15M159.0 73.4h1.15M189.2 94.0h1.15M189.4 73.0h1.15M193.7 92.6h1.15M173.1 72.9h1.15M168.9 72.2h1.15M168.3 93.0h1.15M195.8 93.7h1.15M192.8 93.1h1.15M159.0 94.4h1.15M175.3 94.0h1.15M174.6 73.1h1.15M160.5 72.6h1.15M185.5 70.5h1.15M176.3 91.8h1.15M201.7 74.5h1.15M217.2 84.9h1.15M204.8 74.7h1.15M183.5 72.9h1.15M201.8 92.6h1.15M173.2 92.8h1.15M216.5 79.5h1.15M159.0 71.4h1.15M181.0 95.8h1.15M207.2 92.8h1.15M185.2 92.7h1.15M183.9 72.4h1.15M178.5 72.8h1.15M167.8 70.6h1.15M172.8 72.9h1.15M179.5 69.6h1.15M184.4 94.1h1.15M163.9 71.5h1.15M182.4 72.1h1.15M165.7 70.7h1.15M193.3 91.4h1.15M170.8 71.3h1.15M204.9 92.2h1.15M219.1 79.8h1.15M205.2 72.8h1.15M185.5 73.0h1.15M200.6 92.3h1.15M199.8 74.9h1.15M192.6 71.8h1.15M203.9 91.1h1.15M170.5 91.5h1.15M196.6 91.6h1.15M175.9 94.5h1.15M165.2 71.8h1.15M211.3 74.0h1.15M163.2 92.2h1.15M204.0 90.7h1.15M170.2 72.5h1.15M160.7 92.1h1.15M164.4 71.7h1.15M185.4 72.8h1.15M166.1 93.2h1.15M184.5 93.7h1.15M199.6 72.9h1.15M181.6 72.9h1.15M186.0 94.0h1.15M211.4 76.6h1.15M195.9 72.9h1.15M160.9 72.3h1.15M199.1 91.1h1.15M168.6 92.8h1.15M197.1 73.7h1.15M210.5 78.0h1.15M171.2 93.3h1.15M194.8 71.1h1.15M179.9 72.5h1.15M168.7 92.1h1.15M160.7 93.8h1.15M192.3 94.5h1.15M214.3 87.5h1.15M184.6 73.6h1.15M178.5 71.8h1.15M159.8 72.5h1.15M181.2 72.0h1.15M198.2 94.2h1.15M206.5 74.7h1.15M167.7 72.1h1.15M180.5 70.0h1.15M202.5 73.7h1.15M171.7 70.6h1.15M183.4 69.4h1.15M166.7 92.3h1.15M207.1 76.2h1.15M163.4 72.0h1.15M159.6 95.5h1.15M157.7 73.0h1.15M219.2 84.0h1.15M158.2 73.2h1.15M193.5 72.6h1.15M202.9 73.8h1.15M208.2 91.1h1.15M173.2 92.4h1.15M181.0 70.1h1.15M208.1 90.0h1.15M163.5 94.8h1.15M182.8 71.8h1.15M208.3 75.2h1.15M166.0 72.2h1.15M173.6 93.8h1.15M207.9 74.9h1.15M177.0 71.7h1.15M176.6 71.8h1.15M168.1 94.0h1.15M179.7 72.5h1.15M219.4 79.8h1.15M172.5 93.4h1.15M203.1 74.5h1.15M189.1 94.8h1.15M203.1 73.8h1.15M207.4 76.6h1.15M181.3 72.8h1.15M214.1 76.3h1.15M196.5 94.2h1.15M190.0 73.2h1.15M197.0 71.7h1.15M206.0 89.8h1.15M163.1 71.3h1.15M163.1 71.6h1.15M158.1 74.7h1.15M186.1 73.3h1.15M164.9 69.9h1.15M163.4 93.2h1.15M185.1 71.5h1.15M161.0 72.6h1.15M192.6 93.0h1.15M166.1 91.5h1.15M217.9 81.4h1.15M202.9 91.8h1.15M192.8 73.1h1.15M170.6 94.4h1.15M175.2 93.5h1.15M197.2 92.7h1.15M212.8 77.3h1.15M185.3 94.3h1.15M177.0 94.1h1.15M210.6 91.0h1.15M179.3 71.9h1.15M187.0 73.8h1.15M203.1 91.6h1.15M214.2 80.4h1.15M213.5 75.7h1.15M167.4 72.9h1.15M191.5 73.4h1.15M190.6 91.8h1.15M159.9 70.9h1.15M188.5 95.2h1.15M192.2 92.8h1.15M202.5 93.2h1.15M180.0 70.4h1.15M162.4 72.8h1.15M200.7 74.8h1.15M171.1 71.2h1.15M172.3 92.7h1.15M181.1 96.0h1.15M165.8 92.5h1.15M195.6 73.0h1.15M202.2 74.4h1.15M206.2 90.9h1.15M166.9 93.7h1.15M174.1 92.9h1.15M162.6 93.2h1.15M175.5 92.3h1.15M184.5 68.0h1.15M174.3 73.0h1.15M186.9 92.6h1.15M204.5 74.7h1.15M178.5 94.0h1.15M193.6 93.2h1.15M159.5 72.8h1.15M177.6 93.5h1.15M174.8 72.9h1.15M198.0 72.1h1.15M162.0 71.8h1.15M178.2 68.0h1.15M197.8 74.0h1.15M185.0 71.5h1.15M170.5 73.2h1.15M201.5 93.9h1.15M217.0 79.3h1.15M193.9 73.8h1.15M170.0 94.4h1.15M189.4 71.7h1.15M163.2 92.6h1.15M157.9 73.8h1.15M161.9 91.4h1.15M212.2 87.9h1.15M172.1 71.8h1.15M205.8 75.5h1.15M208.5 90.3h1.15M174.3 71.8h1.15M200.7 91.3h1.15M181.5 94.1h1.15M177.3 96.0h1.15M213.1 87.0h1.15M210.2 76.4h1.15M178.4 73.0h1.15M215.0 87.4h1.15M196.6 72.2h1.15M183.0 95.5h1.15M171.6 93.0h1.15M162.1 91.1h1.15M189.0 93.4h1.15M191.2 72.0h1.15M193.7 72.8h1.15M183.1 93.0h1.15M218.1 84.0h1.15M192.5 92.8h1.15M184.0 71.2h1.15M178.6 93.7h1.15M197.6 70.8h1.15M191.3 93.9h1.15M187.2 70.0h1.15M157.6 91.7h1.15M172.2 73.4h1.15M157.8 70.4h1.15M209.2 76.2h1.15M178.6 95.4h1.15M171.8 71.5h1.15M157.7 90.8h1.15M174.0 71.5h1.15M172.5 73.2h1.15M207.9 89.4h1.15M204.6 74.5h1.15M164.9 71.7h1.15M167.4 70.2h1.15M213.8 86.5h1.15M194.6 71.2h1.15M171.1 73.8h1.15M201.3 74.5h1.15M191.6 91.8h1.15M186.8 95.0h1.15M172.5 73.8h1.15M170.8 73.3h1.15M195.7 71.9h1.15M166.8 91.5h1.15M204.2 91.8h1.15M204.6 76.0h1.15M158.8 69.3h1.15M215.9 80.4h1.15M164.0 91.4h1.15M185.3 94.5h1.15M169.5 72.4h1.15M179.1 72.9h1.15M171.0 73.1h1.15M163.8 72.8h1.15M169.7 73.6h1.15M214.9 88.6h1.15M211.5 89.8h1.15M198.3 91.4h1.15M191.2 91.7h1.15M203.0 90.2h1.15M205.4 76.7h1.15M182.4 93.1h1.15M188.6 72.7h1.15M215.7 85.4h1.15M200.1 91.8h1.15M177.9 71.9h1.15M183.3 93.4h1.15M208.8 76.8h1.15M183.6 72.9h1.15M196.3 73.7h1.15M212.9 78.3h1.15M218.8 87.2h1.15M173.8 93.5h1.15M218.6 84.0h1.15M190.8 71.0h1.15M216.5 81.0h1.15M177.2 72.8h1.15M196.1 94.4h1.15M173.4 71.6h1.15M163.0 94.6h1.15M201.0 93.7h1.15M217.2 84.8h1.15M215.4 78.9h1.15M218.0 79.1h1.15M162.8 92.3h1.15M184.9 72.2h1.15M174.3 71.1h1.15M198.3 73.9h1.15M175.6 92.3h1.15M177.8 77.8h1.15M171.5 87.9h1.15M192.6 78.3h1.15M208.5 82.2h1.15M203.8 80.3h1.15M167.4 75.4h1.15M204.7 82.0h1.15M184.4 95.9h1.15M180.7 96.9h1.15M198.3 87.2h1.15M178.0 84.4h1.15M186.1 79.3h1.15M207.2 91.8h1.15M160.6 90.3h1.15M179.1 97.4h1.15M188.5 89.6h1.15M170.3 81.4h1.15M205.9 90.1h1.15M243.2 92.7h1.15M181.1 87.0h1.15M214.5 77.3h1.15M178.6 86.3h1.15M203.6 103.7h1.15M207.1 95.8h1.15M190.3 89.9h1.15M177.8 81.7h1.15M172.0 87.0h1.15M190.4 72.9h1.15M186.7 83.6h1.15M249.6 73.5h1.15M200.4 73.5h1.15M200.6 88.6h1.15M201.0 79.3h1.15M160.6 78.3h1.15M190.0 91.0h1.15M226.0 79.7h1.15M191.0 74.3h1.15M180.0 92.1h1.15M209.3 90.3h1.15M163.3 82.5h1.15M189.9 73.1h1.15M201.3 98.5h1.15M219.6 74.6h1.15M200.5 91.2h1.15M160.0 82.8h1.15M171.2 91.1h1.15M205.5 94.2h1.15M167.4 85.1h1.15M188.1 78.1h1.15M207.7 73.2h1.15M190.0 73.5h1.15M205.3 78.8h1.15M169.9 89.3h1.15M180.9 91.4h1.15M189.3 92.2h1.15M201.3 87.6h1.15M179.7 81.2h1.15M197.2 79.3h1.15M219.7 92.0h1.15M210.5 100.2h1.15M202.8 99.0h1.15M171.8 77.3h1.15M188.3 87.2h1.15M213.2 100.5h1.15M209.6 85.8h1.15M247.9 85.6h1.15M168.3 97.9h1.15M165.4 82.9h1.15M188.3 67.5h1.15M187.2 98.9h1.15M161.4 73.6h1.15M194.5 84.5h1.15M198.2 90.4h1.15M179.2 79.0h1.15M218.0 78.2h1.15M158.1 76.8h1.15M213.7 84.2h1.15M187.2 67.9h1.15M199.7 81.2h1.15M178.5 95.7h1.15M190.2 86.9h1.15M168.4 87.4h1.15M201.6 75.4h1.15M186.6 84.4h1.15M164.8 77.0h1.15M190.0 75.1h1.15M200.1 74.1h1.15M201.2 87.2h1.15M184.7 92.8h1.15M199.7 77.2h1.15M159.0 76.6h1.15M178.9 90.6h1.15M181.2 82.9h1.15M184.5 68.9h1.15M195.5 76.0h1.15M165.7 89.6h1.15M220.9 80.8h1.15M196.1 88.7h1.15M215.0 76.4h1.15M163.8 72.9h1.15M166.1 86.8h1.15M187.2 91.1h1.15M177.1 91.3h1.15M222.8 90.2h1.15M222.4 76.9h1.15M233.7 68.5h1.15M167.3 85.6h1.15M190.6 88.8h1.15M198.3 77.3h1.15M194.9 79.9h1.15M180.5 73.0h1.15M182.1 80.6h1.15M197.6 73.8h1.15M194.1 88.3h1.15M195.4 78.7h1.15M197.6 93.1h1.15M226.1 92.4h1.15M200.0 88.5h1.15M197.2 82.4h1.15M194.9 74.9h1.15M192.8 68.0h1.15M210.4 83.2h1.15M205.8 80.1h1.15M175.1 79.6h1.15M197.3 87.2h1.15M203.6 70.0h1.15M193.9 84.0h1.15M207.5 73.8h1.15M177.8 92.2h1.15M237.0 79.6h1.15M203.2 74.3h1.15M169.6 72.4h1.15M200.3 86.4h1.15M213.7 81.9h1.15M216.4 89.6h1.15M220.8 78.9h1.15M209.5 70.1h1.15M243.1 71.8h1.15M217.3 86.6h1.15M227.3 76.3h1.15M231.5 88.1h1.15M256.6 73.8h1.15M209.7 80.5h1.15M236.7 76.9h1.15M212.5 84.9h1.15M215.5 74.9h1.15M218.8 75.5h1.15M241.5 74.0h1.15M237.3 88.5h1.15M214.3 82.7h1.15M212.6 82.2h1.15M257.6 68.6h1.15M220.5 69.5h1.15M228.2 77.3h1.15M209.1 70.4h1.15M265.3 86.1h1.15M210.9 74.5h1.15M212.5 77.4h1.15M215.6 69.8h1.15M208.2 76.1h1.15M216.6 71.6h1.15M217.2 86.0h1.15M215.3 74.5h1.15M263.5 69.4h1.15M209.7 71.5h1.15M214.9 89.5h1.15M227.8 73.7h1.15M217.4 72.7h1.15M215.6 74.1h1.15M208.1 90.6h1.15M229.5 71.9h1.15M236.6 73.7h1.15M209.5 73.7h1.15M217.5 71.0h1.15M221.7 72.6h1.15M234.2 73.1h1.15M218.3 71.0h1.15M228.1 80.0h1.15M210.4 73.2h1.15M231.6 70.3h1.15M209.8 72.7h1.15M216.9 71.7h1.15M226.1 77.5h1.15M211.8 81.8h1.15M208.3 79.7h1.15M244.4 72.2h1.15M219.5 86.7h1.15M215.1 83.8h1.15M214.5 79.5h1.15M223.6 81.2h1.15M228.5 77.1h1.15M216.1 84.1h1.15M221.1 80.7h1.15M208.1 75.8h1.15M235.9 69.0h1.15M210.2 73.7h1.15M240.8 77.4h1.15M210.3 88.0h1.15M219.9 84.1h1.15M256.2 82.5h1.15M215.1 73.5h1.15M266.5 77.4h1.15M231.2 85.8h1.15M230.8 73.5h1.15M214.2 72.1h1.15M211.6 74.3h1.15M208.7 78.1h1.15M230.4 71.3h1.15M213.1 71.0h1.15M211.4 72.7h1.15M227.0 72.7h1.15M208.4 80.4h1.15M222.2 71.3h1.15M211.2 75.0h1.15M210.3 80.1h1.15M226.4 68.7h1.15M225.3 87.4h1.15M256.8 69.7h1.15M209.8 78.3h1.15M210.5 91.5h1.15M216.3 85.3h1.15M243.9 73.6h1.15M232.8 73.2h1.15M210.6 69.3h1.15M215.7 77.2h1.15M218.6 80.1h1.15M214.4 72.7h1.15M218.6 80.8h1.15M239.2 70.4h1.15M212.9 69.9h1.15M223.7 87.0h1.15M215.1 68.8h1.15M232.4 86.1h1.15M225.4 72.2h1.15M211.9 75.0h1.15M218.4 78.1h1.15M220.5 75.4h1.15M226.2 84.5h1.15M211.4 77.6h1.15M264.1 84.6h1.15M212.7 78.5h1.15M208.7 71.5h1.15M240.8 72.4h1.15M211.4 76.8h1.15M238.1 78.3h1.15M248.6 77.3h1.15M223.9 89.0h1.15M245.5 70.8h1.15M219.5 80.3h1.15M245.9 70.1h1.15M231.4 79.0h1.15M237.2 80.7h1.15M215.3 72.4h1.15M209.1 77.2h1.15M225.0 73.7h1.15M223.8 79.0h1.15M258.1 79.6h1.15M234.6 73.6h1.15M236.9 83.0h1.15M236.1 78.6h1.15M242.3 86.1h1.15M240.5 89.9h1.15M216.2 82.8h1.15M208.9 76.7h1.15M222.5 89.0h1.15M246.3 83.8h1.15M224.2 70.0h1.15M212.3 77.4h1.15M214.4 76.9h1.15M218.9 73.6h1.15M229.5 76.2h1.15M232.5 68.8h1.15M211.8 71.7h1.15M225.9 74.7h1.15M263.6 77.3h1.15M213.8 70.6h1.15M240.2 83.5h1.15M219.7 75.8h1.15M215.3 76.5h1.15M233.8 68.7h1.15M214.7 70.1h1.15M226.0 72.6h1.15M249.3 76.2h1.15M237.2 82.0h1.15M210.4 83.9h1.15M209.8 72.5h1.15M220.8 70.1h1.15M224.7 73.2h1.15M218.8 79.4h1.15M233.9 82.1h1.15M270.9 87.5h1.15M208.9 72.5h1.15M248.6 68.8h1.15M213.6 76.2h1.15M235.2 75.3h1.15M226.4 96.4h1.15M264.9 96.3h1.15M216.8 87.2h1.15M211.5 74.4h1.15M214.8 72.7h1.15M215.3 77.2h1.15M218.7 81.4h1.15M211.9 91.9h1.15M259.4 70.4h1.15M208.9 72.6h1.15M223.0 71.9h1.15M220.0 91.7h1.15M238.6 76.4h1.15M220.9 83.4h1.15M224.4 69.2h1.15M239.2 73.4h1.15M255.6 71.3h1.15M230.4 76.4h1.15M227.5 95.2h1.15M236.9 72.2h1.15M226.2 82.3h1.15M210.7 79.5h1.15M214.3 77.5h1.15M228.2 70.9h1.15M250.2 74.1h1.15M216.4 70.3h1.15M237.9 82.3h1.15M247.3 73.1h1.15M211.7 87.1h1.15M259.6 70.4h1.15M223.2 90.9h1.15M223.1 71.1h1.15M226.1 70.2h1.15M221.4 72.3h1.15M242.3 71.9h1.15M218.4 84.3h1.15M218.5 72.9h1.15M218.3 72.7h1.15M220.8 74.7h1.15M266.0 78.0h1.15M218.8 74.9h1.15M210.9 83.9h1.15M255.7 70.5h1.15M222.2 74.1h1.15M218.0 96.7h1.15M241.7 93.8h1.15M231.7 69.7h1.15M217.2 78.3h1.15M227.1 80.7h1.15M244.7 72.6h1.15M208.7 85.1h1.15M226.8 71.7h1.15M239.6 75.8h1.15M222.5 69.7h1.15M232.4 74.9h1.15M260.6 79.7h1.15M224.3 72.2h1.15M235.2 71.5h1.15M211.1 74.7h1.15M241.4 72.8h1.15M223.9 74.0h1.15M214.0 72.6h1.15M251.0 80.3h1.15M216.8 69.1h1.15M211.6 69.3h1.15M208.4 82.8h1.15M218.0 70.3h1.15M217.8 73.7h1.15M209.6 88.4h1.15M223.0 73.9h1.15M222.3 72.4h1.15M208.9 72.5h1.15M220.5 72.8h1.15M211.0 83.3h1.15M223.4 69.2h1.15M235.7 77.7h1.15M232.5 78.9h1.15M209.2 73.4h1.15M233.4 70.2h1.15M211.1 80.0h1.15M215.5 75.2h1.15M244.6 76.2h1.15M241.0 74.3h1.15M211.7 77.6h1.15M227.6 69.6h1.15M218.4 81.2h1.15M217.4 82.5h1.15M220.6 69.5h1.15M210.1 77.0h1.15M210.7 74.0h1.15M211.0 79.2h1.15M211.3 78.0h1.15M223.5 72.8h1.15M218.1 69.6h1.15M216.5 88.4h1.15M219.1 75.5h1.15M222.8 79.8h1.15M216.0 77.6h1.15M218.5 70.1h1.15M211.6 77.5h1.15M233.1 79.1h1.15M265.6 68.5h1.15M215.9 80.6h1.15M234.9 71.6h1.15M221.4 82.2h1.15M274.6 74.1h1.15M213.9 72.1h1.15M240.0 76.1h1.15M213.3 71.4h1.15M215.2 80.3h1.15M219.2 74.9h1.15M219.0 70.5h1.15M220.2 73.6h1.15M233.5 76.2h1.15M226.6 74.0h1.15M227.7 75.1h1.15M208.8 72.8h1.15M262.8 74.8h1.15M211.4 103.7h1.15M233.6 75.7h1.15M224.6 80.2h1.15M250.5 74.3h1.15M214.3 71.6h1.15M210.6 75.0h1.15M215.8 83.3h1.15M231.7 70.7h1.15M229.2 68.6h1.15M237.0 70.1h1.15M211.0 70.2h1.15M213.0 74.6h1.15M216.6 72.1h1.15M209.3 85.2h1.15M208.4 79.0h1.15M218.9 85.7h1.15M220.3 85.4h1.15M230.7 70.9h1.15M219.1 74.4h1.15M220.9 76.0h1.15M254.0 74.9h1.15M255.5 71.0h1.15M228.3 70.6h1.15M214.0 79.3h1.15M235.2 71.3h1.15M225.9 71.0h1.15M219.7 69.7h1.15M257.9 74.5h1.15M239.4 68.9h1.15M192.2 69.9h1.15M178.1 69.9h1.15M274.4 69.9h1.15M235.3 68.2h1.15M266.1 69.6h1.15M185.2 69.8h1.15M227.0 69.3h1.15M247.6 68.3h1.15M174.5 71.5h1.15M178.9 72.5h1.15M201.1 70.0h1.15M174.3 68.4h1.15M212.9 71.3h1.15M236.0 67.8h1.15M257.1 70.9h1.15M266.2 67.8h1.15M192.0 68.8h1.15M163.1 71.6h1.15M170.3 68.9h1.15M253.4 70.3h1.15M203.8 70.1h1.15M246.7 70.8h1.15M197.3 69.4h1.15M210.2 69.4h1.15M194.4 68.3h1.15M170.4 69.0h1.15M160.2 69.3h1.15M251.9 69.0h1.15M206.8 68.6h1.15M271.1 69.2h1.15M241.4 70.4h1.15M212.3 68.6h1.15M193.7 68.7h1.15M178.5 70.7h1.15M201.1 71.6h1.15M206.6 70.3h1.15M265.5 70.7h1.15M247.0 69.2h1.15M188.2 70.0h1.15M196.7 67.7h1.15M175.9 68.4h1.15M241.4 67.6h1.15M228.1 72.0h1.15M231.1 67.7h1.15M160.2 69.1h1.15M236.9 71.4h1.15M187.4 71.6h1.15M264.3 68.0h1.15M188.2 68.7h1.15M226.4 69.0h1.15M164.4 70.5h1.15M253.8 69.2h1.15M243.9 68.6h1.15M230.0 68.2h1.15M209.2 70.0h1.15M185.4 70.6h1.15M216.1 68.6h1.15M268.1 68.3h1.15M251.8 70.0h1.15M207.1 69.0h1.15M262.2 70.2h1.15M229.8 68.7h1.15M224.3 68.5h1.15M160.8 68.3h1.15M199.3 69.6h1.15M203.5 69.3h1.15M233.0 68.8h1.15M173.8 67.8h1.15M160.8 68.5h1.15M255.6 68.9h1.15M191.2 70.8h1.15M238.2 68.3h1.15M186.7 69.9h1.15M272.3 69.0h1.15M196.0 69.2h1.15M249.7 67.7h1.15M223.3 67.7h1.15M179.6 68.0h1.15M171.1 68.5h1.15M243.6 71.2h1.15M272.2 68.1h1.15M227.9 70.2h1.15M180.9 68.8h1.15M257.0 69.4h1.15M223.5 69.7h1.15M215.0 70.3h1.15M178.3 68.5h1.15M239.0 70.7h1.15M261.5 71.1h1.15M159.7 85.8h1.15M159.4 68.9h1.15M158.4 73.6h1.15M158.8 93.0h1.15M159.4 79.1h1.15M158.7 95.7h1.15M159.5 83.8h1.15M159.9 82.5h1.15M158.0 90.4h1.15M158.8 88.8h1.15M158.5 93.3h1.15M158.4 89.4h1.15M158.0 75.7h1.15M159.4 82.2h1.15M159.7 85.4h1.15M158.4 87.3h1.15M159.6 85.8h1.15M158.4 90.7h1.15M159.8 91.9h1.15M158.2 71.8h1.15M158.4 80.5h1.15M158.2 92.8h1.15M158.1 76.9h1.15M159.1 75.4h1.15M160.0 89.5h1.15M158.8 79.4h1.15M158.4 85.0h1.15M159.1 85.1h1.15M158.5 71.3h1.15M159.4 94.6h1.15M159.7 92.1h1.15M158.9 79.2h1.15M158.9 71.4h1.15M158.4 73.2h1.15M158.1 87.8h1.15M159.2 86.8h1.15M158.3 74.4h1.15M159.3 82.2h1.15M158.1 89.5h1.15M158.5 77.9h1.15M159.3 85.3h1.15M160.1 89.8h1.15M159.9 77.6h1.15M158.1 82.2h1.15M159.1 94.5h1.15M159.6 77.1h1.15M159.7 79.0h1.15M158.6 88.6h1.15M159.7 88.3h1.15M158.5 94.2h1.15M159.6 85.5h1.15M159.6 68.6h1.15M158.9 82.0h1.15M158.9 73.9h1.15M159.3 73.2h1.15M158.7 88.9h1.15M158.7 78.3h1.15M158.2 74.5h1.15M159.1 94.9h1.15M158.6 85.2h1.15M159.1 94.9h1.15M159.6 95.7h1.15M158.1 85.6h1.15M160.6 85.3h1.15M159.9 88.9h1.15M158.6 93.3h1.15M158.2 89.4h1.15M159.2 72.5h1.15M159.8 93.6h1.15M159.1 74.1h1.15M158.4 90.7h1.15M159.4 71.1h1.15M158.2 85.1h1.15M159.7 81.0h1.15M158.7 68.8h1.15M159.7 72.0h1.15M160.0 69.2h1.15M158.9 95.9h1.15M158.8 74.1h1.15M158.2 90.3h1.15M159.2 72.7h1.15M159.3 74.3h1.15M159.3 68.6h1.15M159.8 87.0h1.15M159.7 83.1h1.15M159.4 93.7h1.15M159.2 86.7h1.15M158.4 84.2h1.15M159.2 68.9h1.15M158.3 70.9h1.15M158.1 93.3h1.15M159.0 92.1h1.15M158.5 83.7h1.15M159.5 79.7h1.15M158.9 95.4h1.15M159.5 86.3h1.15M158.4 69.9h1.15M160.1 76.0h1.15M158.2 87.1h1.15M159.1 83.1h1.15M159.1 90.9h1.15M160.1 80.6h1.15M158.3 71.3h1.15M159.0 88.0h1.15M158.6 87.7h1.15M160.6 88.6h1.15M158.5 69.1h1.15M158.5 79.6h1.15M159.8 69.9h1.15M158.4 85.1h1.15M158.3 87.7h1.15M159.5 84.3h1.15M158.6 85.7h1.15M158.1 94.5h1.15M158.8 77.1h1.15M158.8 90.0h1.15M158.7 72.2h1.15M158.9 86.8h1.15M160.2 89.4h1.15M159.8 77.8h1.15M159.2 95.6h1.15M160.0 72.4h1.15M159.2 79.0h1.15M159.3 77.6h1.15M158.9 82.5h1.15M159.2 95.6h1.15M160.4 95.6h1.15M159.3 94.7h1.15M158.5 69.3h1.15M158.9 90.1h1.15M159.2 81.9h1.15M160.3 74.8h1.15M158.5 82.4h1.15M158.2 68.8h1.15M158.4 81.3h1.15M159.0 76.5h1.15M158.9 85.0h1.15M159.4 69.9h1.15M161.1 86.1h1.15M158.6 94.2h1.15M159.9 74.7h1.15M158.1 86.1h1.15M158.5 91.2h1.15M160.9 89.8h1.15M158.4 75.3h1.15M158.4 91.7h1.15M158.6 80.4h1.15M159.5 90.8h1.15M159.4 87.8h1.15M158.5 70.6h1.15M158.5 74.4h1.15M158.2 89.0h1.15M161.5 70.6h1.15M158.1 68.2h1.15M158.7 89.7h1.15M158.5 83.7h1.15M159.3 79.8h1.15M158.4 91.6h1.15M158.4 92.0h1.15M159.2 77.9h1.15M160.0 77.0h1.15M159.9 87.5h1.15M160.5 74.2h1.15M158.6 74.3h1.15M159.3 74.6h1.15M158.3 92.0h1.15M159.5 69.2h1.15M159.5 74.6h1.15M158.5 89.7h1.15M158.6 74.0h1.15M238.6 98.8h1.15M274.6 78.7h1.15M249.1 94.7h1.15M266.8 94.9h1.15M266.5 103.3h1.15M256.5 99.5h1.15M256.3 111.3h1.15M265.9 114.1h1.15M255.2 74.1h1.15M251.5 76.1h1.15M260.0 107.8h1.15M268.5 101.7h1.15M253.2 70.5h1.15M269.1 110.7h1.15M263.2 99.1h1.15M264.9 75.6h1.15M262.6 99.9h1.15M264.3 68.2h1.15M272.5 76.2h1.15M266.1 110.3h1.15M260.4 107.3h1.15M263.1 74.6h1.15M266.2 74.8h1.15M247.8 72.0h1.15M272.8 73.3h1.15M254.4 104.0h1.15M270.1 79.4h1.15M235.3 68.9h1.15M251.0 104.5h1.15M274.1 90.8h1.15M257.9 115.6h1.15M257.6 109.5h1.15M260.9 87.4h1.15M231.3 105.9h1.15M252.3 114.5h1.15M267.1 79.1h1.15M256.4 101.9h1.15M259.0 112.7h1.15M245.0 120.5h1.15M270.4 106.8h1.15M243.7 119.4h1.15M263.4 97.9h1.15M264.9 99.4h1.15M263.1 91.5h1.15M270.8 112.7h1.15M263.3 119.1h1.15M271.4 97.6h1.15M267.4 73.6h1.15M224.0 79.0h1.15M253.5 104.6h1.15M251.3 94.1h1.15M269.5 74.0h1.15M265.9 116.1h1.15M257.1 78.8h1.15M263.4 120.3h1.15M268.6 90.9h1.15M273.7 75.4h1.15M267.8 118.3h1.15M246.5 81.8h1.15M263.8 85.1h1.15M268.7 88.5h1.15M228.2 118.2h1.15M269.7 76.1h1.15M243.6 76.7h1.15M246.1 79.1h1.15M267.4 86.9h1.15M269.6 84.6h1.15M268.9 99.1h1.15M258.7 106.8h1.15M267.9 110.2h1.15M235.5 96.3h1.15M236.7 94.0h1.15M263.0 109.6h1.15M263.3 72.6h1.15M274.3 115.3h1.15M260.2 101.2h1.15M274.5 119.2h1.15M264.2 112.9h1.15M272.6 92.1h1.15M247.7 87.6h1.15M261.0 106.7h1.15M268.6 115.3h1.15M268.4 97.2h1.15M244.1 97.6h1.15M271.6 120.7h1.15M263.1 109.9h1.15M233.8 117.1h1.15M270.5 70.3h1.15M272.8 72.6h1.15M261.9 101.0h1.15M174.0 105.8h1.15M271.4 82.8h1.15M235.1 100.2h1.15M270.4 72.9h1.15M261.5 118.6h1.15M267.6 86.7h1.15M241.2 102.5h1.15M270.5 94.3h1.15M267.3 106.1h1.15M252.6 69.2h1.15M268.0 74.8h1.15M263.0 79.3h1.15M267.8 121.5h1.15M263.5 104.6h1.15M243.0 84.7h1.15M254.6 96.1h1.15M263.9 92.6h1.15M268.5 81.7h1.15M273.3 76.2h1.15M250.8 81.9h1.15M271.9 70.0h1.15M272.1 72.2h1.15M272.9 112.2h1.15M250.6 95.3h1.15M273.1 75.5h1.15M271.5 72.6h1.15M255.2 113.7h1.15M264.3 82.8h1.15M256.6 116.4h1.15M262.8 95.7h1.15M272.7 115.1h1.15M270.9 111.7h1.15M266.6 100.3h1.15M266.5 72.3h1.15M244.0 113.4h1.15M262.3 117.6h1.15M242.3 81.1h1.15M274.1 92.4h1.15M243.3 80.7h1.15M264.4 105.4h1.15M256.4 121.2h1.15M262.5 106.1h1.15M260.5 100.0h1.15M265.6 86.6h1.15M272.8 100.6h1.15M272.5 101.3h1.15M272.7 85.6h1.15M272.0 71.4h1.15M273.3 77.3h1.15M264.3 100.1h1.15M235.1 117.0h1.15M274.5 108.3h1.15M260.4 81.2h1.15M264.0 104.2h1.15M264.9 101.2h1.15M259.0 121.8h1.15M272.1 85.3h1.15M254.5 99.9h1.15M272.2 69.0h1.15M249.1 87.3h1.15M231.0 84.4h1.15M270.3 83.2h1.15M267.6 80.0h1.15M234.3 118.6h1.15M258.6 104.9h1.15M267.3 91.4h1.15M255.8 87.9h1.15M250.5 98.4h1.15M261.7 102.6h1.15M249.2 109.9h1.15M250.6 97.9h1.15M267.4 80.1h1.15M273.6 120.5h1.15M256.9 95.1h1.15M274.6 119.2h1.15M271.6 84.2h1.15M270.7 91.1h1.15M254.3 76.6h1.15M273.4 110.4h1.15M264.0 88.2h1.15M268.5 93.0h1.15M265.2 92.0h1.15M273.8 73.9h1.15M244.2 119.4h1.15M268.7 71.9h1.15M272.8 105.5h1.15M273.0 97.6h1.15M258.8 107.6h1.15M245.7 71.9h1.15M267.5 118.2h1.15M249.6 103.8h1.15M271.1 91.2h1.15M266.8 69.0h1.15M269.7 91.8h1.15M250.5 95.8h1.15M244.7 97.3h1.15M271.7 88.7h1.15M265.7 104.2h1.15M247.3 118.3h1.15M265.3 121.0h1.15M247.7 100.7h1.15M246.9 81.4h1.15M272.1 78.8h1.15M264.4 78.1h1.15M261.2 102.7h1.15M274.6 121.7h1.15M251.3 108.1h1.15M270.8 88.0h1.15M268.6 100.4h1.15M243.9 120.6h1.15M254.8 69.7h1.15M251.4 113.9h1.15M260.9 70.5h1.15M270.5 122.7h1.15M261.5 80.8h1.15M271.4 70.7h1.15M270.7 110.3h1.15M273.6 86.3h1.15M262.1 91.0h1.15M254.3 94.2h1.15M251.6 107.3h1.15M267.0 99.7h1.15M259.6 97.5h1.15M274.4 68.5h1.15M251.1 84.4h1.15M224.0 99.2h1.15M267.4 119.2h1.15M273.6 95.0h1.15M270.0 116.2h1.15M256.9 78.5h1.15M274.5 105.2h1.15M273.7 116.8h1.15M231.7 82.1h1.15M267.0 93.7h1.15M247.7 107.1h1.15M233.6 99.3h1.15M241.6 118.6h1.15M253.2 99.4h1.15M237.7 83.0h1.15M247.0 112.7h1.15M224.8 101.5h1.15M222.4 103.5h1.15M239.5 109.1h1.15M238.1 113.3h1.15M245.1 108.3h1.15M247.2 104.1h1.15M254.7 105.1h1.15M232.2 97.4h1.15M250.7 114.2h1.15M222.0 94.9h1.15M227.4 106.7h1.15M268.4 110.6h1.15M233.2 109.9h1.15M216.1 100.9h1.15M216.2 95.4h1.15M231.9 101.4h1.15M223.0 89.7h1.15M234.5 98.7h1.15M230.7 103.1h1.15M236.4 104.5h1.15M223.5 89.8h1.15M225.1 93.7h1.15M230.7 106.0h1.15M204.0 84.2h1.15M222.8 91.0h1.15M256.9 108.5h1.15M243.6 100.1h1.15M237.5 90.7h1.15M244.3 105.8h1.15M230.4 87.9h1.15M231.0 91.4h1.15M229.9 100.9h1.15M222.0 115.1h1.15M222.4 102.6h1.15M238.9 109.4h1.15M249.9 100.7h1.15M262.9 118.0h1.15M246.9 91.8h1.15M241.2 104.7h1.15M221.1 102.7h1.15M256.5 100.9h1.15M234.1 107.3h1.15M253.5 106.5h1.15M235.2 119.4h1.15M258.0 119.3h1.15M224.6 111.8h1.15M235.8 107.6h1.15M219.9 113.9h1.15M255.0 110.7h1.15M238.6 112.2h1.15M235.6 108.7h1.15M249.5 106.7h1.15M232.5 102.1h1.15M216.6 90.2h1.15M243.2 94.8h1.15M259.5 106.9h1.15M245.2 125.1h1.15M245.8 106.8h1.15M245.2 99.8h1.15M243.2 94.0h1.15M254.8 94.6h1.15M246.5 109.1h1.15M242.7 101.8h1.15M249.1 109.6h1.15M230.3 101.0h1.15M216.2 90.2h1.15M222.6 99.8h1.15M250.2 107.0h1.15M245.9 99.1h1.15M235.6 107.6h1.15M237.2 97.5h1.15M249.3 88.7h1.15M267.5 105.4h1.15M262.3 111.2h1.15M223.3 108.3h1.15M249.2 104.3h1.15M239.1 96.9h1.15M222.7 89.4h1.15M240.8 108.7h1.15M222.8 109.5h1.15M237.0 106.5h1.15M235.0 110.1h1.15M248.4 92.9h1.15M211.4 102.0h1.15M244.6 118.6h1.15M229.2 135.0h1.15M225.2 138.1h1.15M266.1 140.4h1.15M259.5 158.1h1.15M223.0 152.5h1.15M221.7 146.9h1.15M234.2 159.0h1.15M228.5 136.3h1.15M255.9 159.2h1.15M262.5 125.6h1.15M231.3 158.2h1.15M244.1 159.1h1.15M225.8 155.5h1.15M260.3 123.2h1.15M236.5 117.3h1.15M224.9 151.3h1.15M251.5 118.7h1.15M268.3 140.8h1.15M261.9 123.9h1.15M256.6 119.4h1.15M221.7 155.9h1.15M248.7 115.3h1.15M257.1 159.8h1.15M224.6 143.8h1.15M255.0 159.3h1.15M234.2 125.8h1.15M265.3 120.8h1.15M253.4 159.0h1.15M257.6 160.1h1.15M225.2 156.3h1.15M229.6 158.7h1.15M226.4 143.5h1.15M254.6 117.2h1.15M248.5 117.1h1.15M233.6 124.6h1.15M267.3 152.5h1.15M247.1 118.6h1.15M224.7 148.6h1.15M231.8 158.9h1.15M233.9 159.3h1.15M267.7 130.1h1.15M238.6 119.2h1.15M267.8 139.7h1.15M229.8 159.2h1.15M255.4 117.4h1.15M247.6 118.9h1.15M227.0 136.8h1.15M229.1 135.2h1.15M256.1 159.1h1.15M268.0 136.8h1.15M227.3 134.4h1.15M248.1 117.5h1.15M230.3 157.8h1.15M266.1 130.9h1.15M257.6 159.8h1.15M235.9 159.4h1.15M233.2 158.6h1.15M238.9 120.0h1.15M231.9 128.2h1.15M226.0 147.8h1.15M225.7 139.4h1.15M259.9 158.7h1.15M249.7 158.7h1.15M265.4 138.3h1.15M254.7 159.0h1.15M232.6 121.9h1.15M223.6 153.3h1.15M232.2 158.5h1.15M257.6 159.2h1.15M243.2 116.1h1.15M256.6 117.2h1.15M229.5 131.3h1.15M226.3 142.7h1.15M243.6 160.0h1.15M239.3 160.1h1.15M259.6 158.2h1.15M243.6 118.3h1.15M240.0 158.9h1.15M226.0 142.9h1.15M223.7 157.4h1.15M226.2 156.2h1.15M263.4 156.5h1.15M246.3 117.6h1.15M266.0 143.9h1.15M233.1 158.7h1.15M262.3 125.4h1.15M228.2 131.9h1.15M261.9 159.0h1.15M266.3 132.2h1.15M226.5 142.3h1.15M259.7 157.7h1.15M245.0 118.7h1.15M243.8 159.4h1.15M265.1 135.4h1.15M263.3 159.8h1.15M268.3 140.4h1.15M238.6 118.4h1.15M267.0 143.6h1.15M247.1 115.7h1.15M268.8 143.8h1.15M238.8 120.4h1.15M259.8 158.7h1.15M231.0 132.1h1.15M246.6 116.1h1.15M228.5 137.7h1.15M257.8 158.4h1.15M229.7 160.9h1.15M255.7 157.8h1.15M240.6 119.8h1.15M222.8 156.4h1.15M254.6 118.5h1.15M265.0 155.7h1.15M238.9 120.9h1.15M248.9 161.5h1.15M266.8 149.7h1.15M268.1 146.4h1.15M266.5 151.9h1.15M268.0 140.3h1.15M224.5 148.1h1.15M258.3 118.1h1.15M252.0 118.4h1.15M226.6 145.6h1.15M236.9 121.8h1.15M241.1 116.8h1.15M252.6 118.5h1.15M263.0 155.7h1.15M258.5 120.8h1.15M231.2 159.0h1.15M229.7 132.4h1.15M237.9 159.5h1.15M236.8 120.9h1.15M240.2 119.0h1.15M254.0 119.6h1.15M265.9 140.6h1.15M235.0 158.3h1.15M263.5 128.0h1.15M248.1 117.7h1.15M225.5 155.1h1.15M263.1 126.8h1.15M265.9 153.4h1.15M231.0 127.2h1.15M261.7 159.1h1.15M233.8 159.0h1.15M261.7 123.6h1.15M229.6 129.3h1.15M240.5 159.8h1.15M260.7 158.2h1.15M254.3 118.9h1.15M228.7 139.1h1.15M227.8 137.1h1.15M238.2 117.8h1.15M262.4 123.7h1.15M264.7 132.9h1.15M255.9 159.1h1.15M233.9 160.8h1.15M245.0 159.1h1.15M255.3 159.8h1.15M232.8 126.3h1.15M266.2 154.0h1.15M231.0 158.2h1.15M265.7 138.0h1.15M253.0 159.6h1.15M226.7 156.7h1.15M229.1 159.5h1.15M239.1 119.2h1.15M262.3 125.6h1.15M251.3 158.6h1.15M255.6 158.5h1.15M235.0 122.8h1.15M224.6 142.6h1.15M266.4 139.4h1.15M261.1 157.2h1.15M245.9 117.1h1.15M268.1 150.6h1.15M233.9 158.9h1.15M240.2 159.9h1.15M266.4 130.0h1.15M264.6 127.7h1.15M259.1 159.8h1.15M265.2 155.6h1.15M250.8 160.4h1.15M232.2 127.2h1.15M226.1 138.9h1.15M225.3 153.2h1.15M253.2 160.2h1.15M250.4 159.8h1.15M265.5 143.9h1.15M237.6 118.2h1.15M257.0 159.3h1.15M230.2 129.9h1.15M229.6 136.6h1.15M237.0 119.1h1.15M266.8 135.3h1.15M266.8 144.9h1.15M256.7 159.6h1.15M229.1 135.2h1.15M225.8 143.4h1.15M249.3 117.9h1.15M234.1 121.9h1.15M265.8 137.3h1.15M242.7 159.3h1.15M239.6 160.3h1.15M262.3 123.5h1.15M230.1 129.4h1.15M236.6 121.8h1.15M244.6 159.1h1.15M267.0 141.3h1.15M263.6 128.3h1.15M239.1 117.9h1.15M223.5 138.7h1.15M246.4 159.6h1.15M236.3 119.5h1.15M266.6 154.2h1.15M230.8 126.8h1.15M230.4 160.2h1.15M229.5 137.1h1.15M247.1 160.5h1.15M255.1 159.0h1.15M232.0 124.9h1.15M265.4 134.4h1.15M267.4 143.7h1.15M253.0 116.6h1.15M265.4 155.3h1.15M252.6 161.7h1.15M249.5 159.8h1.15M247.4 118.6h1.15M236.9 161.7h1.15M247.4 159.0h1.15M233.7 158.6h1.15M239.5 161.2h1.15M229.0 158.7h1.15M225.7 158.2h1.15M231.2 130.5h1.15M227.5 140.3h1.15M263.4 127.1h1.15M262.1 156.3h1.15M226.7 157.3h1.15M265.0 126.7h1.15M267.4 150.1h1.15M227.7 135.3h1.15M234.1 122.3h1.15M249.8 117.6h1.15M270.1 149.7h1.15M245.8 160.3h1.15M267.3 155.2h1.15M229.9 157.9h1.15M254.3 118.3h1.15M266.2 128.5h1.15M253.1 115.9h1.15M267.3 149.4h1.15M229.0 136.3h1.15M263.5 156.2h1.15M225.9 139.5h1.15M261.3 123.4h1.15M249.2 115.0h1.15M238.7 118.6h1.15M257.0 158.1h1.15M241.6 159.2h1.15M262.3 126.8h1.15M261.0 123.0h1.15M235.5 120.1h1.15M260.3 158.5h1.15M259.6 158.6h1.15M230.7 128.3h1.15M265.1 156.0h1.15M261.3 122.6h1.15M226.0 138.9h1.15M262.5 156.7h1.15M266.1 156.9h1.15M238.5 119.3h1.15M255.3 118.5h1.15M231.8 161.9h1.15M261.8 124.9h1.15M261.5 123.9h1.15M237.8 121.6h1.15M252.6 160.5h1.15M223.5 149.9h1.15M227.0 139.4h1.15M267.1 134.7h1.15M233.2 158.0h1.15M268.8 148.2h1.15M246.2 159.7h1.15M267.6 143.9h1.15M267.1 147.6h1.15M228.5 156.5h1.15M265.3 138.3h1.15M256.9 158.5h1.15M257.6 120.7h1.15M269.0 151.1h1.15M230.6 130.2h1.15M232.6 159.4h1.15M261.6 124.0h1.15M226.7 144.4h1.15M223.2 154.2h1.15M238.8 118.8h1.15M261.0 160.2h1.15M265.5 142.3h1.15M257.0 160.3h1.15M238.2 120.7h1.15M262.6 123.5h1.15M257.0 159.9h1.15M226.0 149.0h1.15M260.9 159.6h1.15M267.8 143.9h1.15M247.5 159.3h1.15M233.9 158.4h1.15M230.2 133.3h1.15M238.6 119.0h1.15M231.9 128.2h1.15M267.6 143.4h1.15M239.4 114.9h1.15M228.2 138.3h1.15M267.8 150.4h1.15M226.2 157.6h1.15M260.2 158.3h1.15M227.9 158.5h1.15M245.8 116.9h1.15M264.2 127.4h1.15M222.8 155.4h1.15M226.7 155.4h1.15M262.1 121.8h1.15M229.7 128.7h1.15M229.0 159.3h1.15M246.2 118.5h1.15M246.4 116.7h1.15M251.8 158.6h1.15M224.2 156.8h1.15M251.4 117.1h1.15M227.2 161.2h1.15M266.0 153.9h1.15M229.5 136.4h1.15M254.5 159.1h1.15M225.4 142.9h1.15M229.2 136.3h1.15M245.4 117.8h1.15M231.0 157.7h1.15M235.7 159.6h1.15M262.3 127.6h1.15M265.9 131.4h1.15M250.2 160.2h1.15M269.0 149.5h1.15M238.6 120.0h1.15M269.4 149.7h1.15M268.4 143.6h1.15M260.9 157.0h1.15M229.5 135.9h1.15M235.1 121.5h1.15M260.8 123.5h1.15M226.0 140.4h1.15M247.4 118.6h1.15M229.3 157.1h1.15M246.6 159.2h1.15M237.2 158.7h1.15M268.7 151.5h1.15M269.4 140.2h1.15M238.0 121.1h1.15M230.0 131.4h1.15M256.5 158.0h1.15M237.6 120.2h1.15M241.3 158.4h1.15M266.9 143.2h1.15M224.9 147.2h1.15M261.4 122.5h1.15M233.3 160.3h1.15M227.4 138.6h1.15M225.7 155.6h1.15M265.8 126.1h1.15M246.3 159.9h1.15M259.4 123.3h1.15M225.0 148.8h1.15M265.1 130.3h1.15M268.8 156.7h1.15M264.3 127.4h1.15M261.9 160.0h1.15M240.7 120.0h1.15M260.0 122.3h1.15M256.1 159.7h1.15M246.2 160.2h1.15M240.6 159.7h1.15M259.6 158.5h1.15M226.1 143.0h1.15M227.9 157.3h1.15M226.5 145.7h1.15M230.2 133.3h1.15M225.6 146.6h1.15M248.1 116.5h1.15M226.5 139.6h1.15M226.2 145.9h1.15M236.6 160.3h1.15M261.7 156.9h1.15M259.6 119.1h1.15M262.0 157.5h1.15M267.4 153.3h1.15M267.5 146.7h1.15M267.5 152.5h1.15M251.8 161.6h1.15M265.1 135.1h1.15M255.2 160.8h1.15M268.9 153.7h1.15M253.4 160.5h1.15M265.2 154.5h1.15M237.5 159.4h1.15M269.7 152.5h1.15M253.7 116.7h1.15M267.4 158.0h1.15M238.1 120.7h1.15M243.2 117.7h1.15M241.4 160.7h1.15M249.7 160.4h1.15M231.6 127.9h1.15M259.2 158.8h1.15M247.8 159.3h1.15M266.8 146.1h1.15M237.5 121.3h1.15M241.7 117.8h1.15M258.9 158.0h1.15M235.4 124.2h1.15M262.6 156.1h1.15M263.4 156.1h1.15M265.3 136.4h1.15M246.3 117.5h1.15M247.4 159.0h1.15M225.2 143.9h1.15M234.5 125.0h1.15M257.2 118.7h1.15M254.4 158.8h1.15M227.0 138.9h1.15M235.1 123.5h1.15M256.7 118.2h1.15M232.8 159.6h1.15M262.2 157.6h1.15M267.1 150.5h1.15M224.0 150.1h1.15M261.2 157.5h1.15M246.4 117.2h1.15M234.2 124.4h1.15M230.3 128.4h1.15M252.2 116.2h1.15M230.8 158.5h1.15M224.4 144.1h1.15M237.7 158.1h1.15M267.7 143.2h1.15M263.4 158.0h1.15M265.8 137.4h1.15M225.1 154.2h1.15M229.2 134.2h1.15M267.4 143.1h1.15M236.0 123.3h1.15M228.3 161.4h1.15M225.7 145.2h1.15M236.8 120.4h1.15M266.8 153.8h1.15M262.9 124.1h1.15M242.0 118.4h1.15M232.5 128.6h1.15M263.8 125.7h1.15M230.6 129.5h1.15M262.4 125.1h1.15M264.0 130.9h1.15M227.9 157.9h1.15M268.1 143.7h1.15M264.3 156.3h1.15M266.9 147.8h1.15M243.2 159.4h1.15M237.0 121.0h1.15M225.7 147.9h1.15M230.9 131.5h1.15M230.1 134.3h1.15M263.4 123.9h1.15M253.3 115.6h1.15M266.4 134.6h1.15M263.6 156.6h1.15M234.6 159.4h1.15M248.1 117.9h1.15M261.1 158.1h1.15M265.4 133.9h1.15M234.4 159.8h1.15M260.3 121.7h1.15M242.2 158.5h1.15M233.4 126.4h1.15M262.9 119.2h1.15M267.3 146.2h1.15M254.3 116.7h1.15M229.3 132.7h1.15M266.9 136.9h1.15M249.1 160.6h1.15M254.1 115.3h1.15M230.8 158.5h1.15M225.5 157.8h1.15M266.9 134.4h1.15M257.4 120.4h1.15M246.5 161.4h1.15M267.2 147.2h1.15M223.1 149.8h1.15M251.5 161.5h1.15M245.6 116.8h1.15M235.2 161.0h1.15M227.1 141.1h1.15M255.8 120.3h1.15M227.8 141.0h1.15M267.4 146.7h1.15M234.8 122.1h1.15M254.9 159.9h1.15M257.1 120.1h1.15M231.6 159.8h1.15M238.4 120.3h1.15M226.8 141.8h1.15M236.0 122.0h1.15M233.7 158.4h1.15M243.0 118.1h1.15M267.8 151.1h1.15M233.3 123.9h1.15M233.7 125.9h1.15M268.6 146.2h1.15M227.0 141.0h1.15M256.3 118.6h1.15M264.4 125.6h1.15M250.5 118.2h1.15M266.9 151.6h1.15M266.8 129.7h1.15M248.1 159.6h1.15M241.1 159.6h1.15M252.5 118.3h1.15M254.3 118.2h1.15M258.7 121.4h1.15M227.2 157.2h1.15M227.4 140.6h1.15M267.3 147.4h1.15M244.5 160.8h1.15M268.1 149.1h1.15M265.3 153.0h1.15M260.6 122.1h1.15M264.1 130.6h1.15M267.6 152.1h1.15M236.7 121.2h1.15M236.8 159.7h1.15M266.5 137.2h1.15M230.4 129.0h1.15M248.8 117.2h1.15M229.4 136.0h1.15M229.0 127.6h1.15M228.4 139.6h1.15M228.4 139.7h1.15M249.2 160.6h1.15M227.0 141.3h1.15M252.4 158.5h1.15M229.1 160.9h1.15M242.2 119.3h1.15M267.6 140.0h1.15M230.6 160.5h1.15M251.4 115.5h1.15M266.4 136.3h1.15M256.8 161.9h1.15M267.3 139.2h1.15M258.2 157.9h1.15M258.4 119.5h1.15M266.3 140.4h1.15M226.9 158.6h1.15M237.9 160.7h1.15M249.4 115.5h1.15M241.1 159.7h1.15M230.9 122.8h1.15M228.9 127.5h1.15M228.9 157.8h1.15M247.0 159.2h1.15M227.5 125.8h1.15M255.0 161.9h1.15M255.2 158.5h1.15M225.6 151.2h1.15M266.3 143.7h1.15M268.4 132.0h1.15M251.0 159.7h1.15M238.2 118.6h1.15M227.8 140.5h1.15M258.6 121.9h1.15M233.3 121.7h1.15M267.4 155.8h1.15M263.1 157.8h1.15M252.3 161.3h1.15M230.2 160.2h1.15M222.9 152.2h1.15M256.9 120.2h1.15M248.1 118.3h1.15M249.8 160.2h1.15M224.1 153.2h1.15M260.1 158.7h1.15M265.8 137.8h1.15M225.6 152.0h1.15M240.7 119.1h1.15M246.7 118.8h1.15M270.2 150.5h1.15M230.7 131.9h1.15M242.5 118.1h1.15M226.7 157.5h1.15M241.1 117.1h1.15M225.0 147.0h1.15M257.6 121.3h1.15M227.7 139.6h1.15M262.2 156.4h1.15M230.6 133.2h1.15M248.6 168.7h1.15M256.0 150.0h1.15M247.8 171.3h1.15M243.3 143.9h1.15M246.1 145.4h1.15M261.3 151.8h1.15M244.2 137.6h1.15M253.5 147.7h1.15M235.8 142.4h1.15M262.3 136.2h1.15M227.9 132.1h1.15M269.1 169.6h1.15M231.0 132.3h1.15M252.3 122.1h1.15M211.1 134.1h1.15M268.9 158.8h1.15M236.1 148.6h1.15M246.0 160.4h1.15M240.9 139.2h1.15M239.1 133.1h1.15M261.6 145.8h1.15M249.5 134.3h1.15M256.4 130.3h1.15M254.6 135.1h1.15M257.3 144.0h1.15M223.1 136.3h1.15M233.2 159.2h1.15M228.3 134.7h1.15M255.7 158.8h1.15M242.6 148.4h1.15M262.9 127.1h1.15M257.7 126.2h1.15M233.6 156.4h1.15M254.8 130.8h1.15M248.1 159.8h1.15M253.3 128.0h1.15M239.7 129.3h1.15M244.4 143.2h1.15M236.9 130.1h1.15M230.1 142.1h1.15M255.6 127.9h1.15M249.3 156.4h1.15M253.7 141.4h1.15M247.2 130.6h1.15M266.6 134.8h1.15M252.7 143.0h1.15M258.9 141.8h1.15M233.2 147.3h1.15M243.8 147.6h1.15M243.4 142.2h1.15M241.1 117.6h1.15M264.5 137.7h1.15M261.0 143.2h1.15M267.3 151.1h1.15M228.9 137.3h1.15M247.4 117.3h1.15M253.7 169.3h1.15M234.3 147.8h1.15M249.7 144.6h1.15M243.9 139.1h1.15M252.9 152.1h1.15M250.1 152.8h1.15M249.1 146.4h1.15M232.1 150.8h1.15M261.9 125.8h1.15M234.2 147.1h1.15M241.3 140.4h1.15M256.1 125.0h1.15M253.6 148.8h1.15M256.7 140.0h1.15M255.6 110.6h1.15M267.6 138.3h1.15M256.5 124.0h1.15M243.9 153.6h1.15M256.2 130.7h1.15M253.0 143.2h1.15M224.5 145.8h1.15M234.2 110.5h1.15M260.6 164.3h1.15M263.2 143.9h1.15M246.1 131.0h1.15M242.6 140.9h1.15M240.2 154.8h1.15M256.0 145.9h1.15M244.7 143.1h1.15M241.1 130.1h1.15M248.3 158.6h1.15M236.5 139.5h1.15M252.2 135.2h1.15M242.0 144.7h1.15M260.8 156.1h1.15M228.3 112.6h1.15M237.2 140.0h1.15M266.8 136.4h1.15M233.8 127.4h1.15M253.5 137.3h1.15M231.2 140.5h1.15M247.6 160.2h1.15M259.0 134.1h1.15M253.1 105.1h1.15M256.5 161.1h1.15M233.4 149.4h1.15M271.3 162.1h1.15M261.3 128.9h1.15M244.1 147.3h1.15M245.1 136.6h1.15M262.0 132.5h1.15M253.7 140.6h1.15M232.5 133.1h1.15M236.4 136.6h1.15M259.9 132.1h1.15M242.1 146.9h1.15M253.0 145.0h1.15M252.3 126.2h1.15M247.6 147.6h1.15M261.1 161.9h1.15M238.9 114.8h1.15M225.5 147.2h1.15M254.5 132.5h1.15M263.3 136.7h1.15M235.4 147.4h1.15M232.4 147.9h1.15M235.1 151.3h1.15M240.5 134.3h1.15M272.0 136.0h1.15M262.4 159.3h1.15M254.5 134.8h1.15M271.4 154.7h1.15M230.6 136.8h1.15M246.3 158.3h1.15M249.1 142.4h1.15M249.9 146.5h1.15M238.6 166.8h1.15M243.2 153.0h1.15M244.1 151.0h1.15M244.0 144.9h1.15M227.7 137.5h1.15M246.7 137.1h1.15M242.6 147.4h1.15M271.1 134.5h1.15M253.6 144.8h1.15M273.3 127.6h1.15M273.0 125.1h1.15M274.4 122.7h1.15M274.1 128.3h1.15M274.6 119.0h1.15M273.9 119.7h1.15M273.9 131.6h1.15M273.6 128.9h1.15M274.4 116.0h1.15M272.6 113.7h1.15M273.5 124.0h1.15M272.1 130.7h1.15M274.0 153.5h1.15M274.3 113.7h1.15M274.3 121.8h1.15M273.9 148.5h1.15M274.4 134.1h1.15M272.2 134.1h1.15M273.0 129.8h1.15M274.0 147.3h1.15M273.3 119.9h1.15M274.1 135.1h1.15M274.3 147.5h1.15M274.2 129.4h1.15M274.3 132.8h1.15M273.5 138.8h1.15M273.4 119.1h1.15M273.2 118.5h1.15M274.2 123.9h1.15M271.9 137.9h1.15M273.9 125.1h1.15M274.6 136.4h1.15M274.1 120.8h1.15M274.4 154.1h1.15M273.3 141.9h1.15M274.0 148.1h1.15M272.7 119.1h1.15M274.4 124.1h1.15M273.6 120.6h1.15M273.8 146.7h1.15M274.2 126.2h1.15M274.6 137.1h1.15M273.6 149.3h1.15M274.6 158.1h1.15M273.8 154.6h1.15M274.2 121.9h1.15M274.2 130.2h1.15M273.3 129.9h1.15M273.4 128.5h1.15M272.9 153.2h1.15M274.4 130.0h1.15M274.3 121.0h1.15M274.0 152.8h1.15M274.3 123.4h1.15M274.3 141.2h1.15M274.3 137.8h1.15M271.7 144.9h1.15M273.9 117.6h1.15M274.4 120.4h1.15M272.3 144.9h1.15M274.2 132.7h1.15M273.2 141.7h1.15M274.0 114.6h1.15M273.8 134.0h1.15M273.1 119.2h1.15M272.7 142.7h1.15M274.3 142.1h1.15M272.0 136.4h1.15M274.4 136.8h1.15" stroke="#111" stroke-width="1.15" fill="none"/>
<path d="M158.6 74.9L160.1 73.8L159.6 72.7L162.0 73.7L164.3 72.9L166.3 73.3L168.3 73.8L170.6 74.0L172.1 73.7L173.5 73.6L175.1 73.7L176.4 73.3L178.0 73.7L178.6 74.1L180.3 73.3L183.1 73.9L185.1 73.5L186.7 74.1L189.7 73.9L189.1 73.6L192.2 75.8L193.3 73.9L195.7 74.5L196.3 75.1L197.8 74.6L200.7 74.3L201.8 76.3L203.7 75.3L205.2 76.8L206.2 76.5L207.8 76.8L210.7 78.0L211.5 79.0L213.2 79.0L215.8 81.1L215.9 81.9L217.8 82.8L217.0 83.1L215.4 84.1L214.4 86.3L212.7 87.1L211.0 87.4L208.6 89.2L207.1 89.5L204.1 90.8L203.4 91.1L201.9 90.6L199.7 92.4L197.1 91.3L195.4 92.2L193.9 90.7L191.7 90.7L189.0 90.2L188.2 91.4L187.0 91.9L185.4 93.7L183.0 92.2L182.5 94.3L179.8 92.0L178.5 92.5L177.3 91.8L175.1 91.9L172.7 90.8L172.2 91.8L169.6 92.2L168.6 91.4L166.6 91.3L164.9 91.5L163.0 89.9L160.8 91.3L158.6 92.9L157.2 92.0L157.6 89.7L157.2 90.3L158.3 87.0L157.9 86.2L156.7 82.9L157.6 81.2L157.0 79.9L157.6 77.6L159.0 75.9Z" fill="#7f7f7f" stroke="#2e2e2e" stroke-width="0.6"/>
<path d="M162.8 77.6L163.0 77.2L164.6 77.1L166.0 76.2L167.3 76.5L169.7 76.9L170.6 76.4L173.1 76.3L175.1 76.0L176.2 76.6L178.5 76.1L179.9 75.9L181.2 76.3L183.2 75.8L184.9 76.7L186.9 76.3L188.4 76.6L190.2 76.1L191.7 76.5L193.6 77.0L194.8 77.7L197.2 77.3L199.1 78.2L200.5 78.6L201.8 78.9L202.5 79.3L205.7 80.6L207.6 81.7L207.3 83.2L207.2 83.6L205.9 84.7L204.3 85.8L202.6 86.9L200.4 87.2L198.4 87.4L197.1 87.9L194.9 88.2L194.1 88.3L191.8 88.7L189.7 88.6L188.6 89.0L186.2 88.5L185.4 89.3L182.4 89.3L181.3 89.3L178.8 89.8L177.8 89.2L176.2 89.1L173.8 89.3L171.2 89.2L170.0 88.9L168.3 88.8L166.8 88.2L164.9 87.7L162.8 86.0L161.8 84.8L161.4 82.4L160.7 81.3L160.6 79.5Z" fill="#939393" stroke="#2e2e2e" stroke-width="0.5"/>
<path d="M171.7 79.4L173.1 79.1L174.4 78.8L176.5 78.8L178.2 78.4L180.4 78.3L181.7 78.7L183.4 78.7L185.1 79.0L187.2 78.8L188.8 79.0L191.4 79.3L192.7 79.4L194.5 79.9L195.6 80.9L198.2 81.3L199.5 82.3L200.6 83.0L199.2 83.7L197.8 85.3L196.0 85.3L193.5 85.9L192.7 86.1L190.8 86.7L189.3 86.6L187.1 86.2L186.0 86.3L183.9 86.8L181.8 87.1L179.9 87.1L178.0 86.8L176.9 86.2L175.5 86.5L172.6 86.4L172.6 85.5L169.9 84.8L168.0 83.7L168.3 82.3L168.8 82.0L169.1 79.7Z" fill="#b8b8b8" stroke="#2e2e2e" stroke-width="0.5"/>
<path d="M177.8 81.0L179.5 80.3L180.9 80.1L183.8 79.9L185.1 80.5L186.9 80.0L189.4 80.8L190.5 81.2L192.5 81.9L193.1 82.9L192.7 83.3L189.9 84.7L188.7 85.3L187.4 85.1L185.0 85.4L183.4 85.8L182.1 85.2L179.9 84.6L177.2 84.1L176.2 83.8L176.3 82.3Z" fill="#d6d6d6" stroke="#2e2e2e" stroke-width="0.5"/>
<path d="M185.8 81.8h2.4l-1.2 1.8Z" fill="#333"/>
<path d="M225.4 153.2L225.5 152.5L225.4 150.4L226.2 149.2L226.1 146.9L226.6 144.5L228.1 143.7L227.2 141.1L228.8 139.7L228.4 139.1L229.2 136.6L230.3 134.8L230.6 133.7L231.6 131.7L232.4 130.8L233.4 129.4L232.7 127.7L233.5 126.2L235.2 125.1L236.5 122.8L238.3 121.8L239.2 121.8L241.4 119.7L242.3 120.2L244.7 119.3L246.5 117.6L247.4 117.9L248.9 118.5L251.2 119.5L252.9 119.3L253.8 120.2L255.8 119.1L257.2 121.1L258.1 121.8L260.8 122.8L260.9 124.2L261.3 125.4L262.1 127.2L262.9 129.6L263.9 131.4L263.7 132.6L265.1 134.9L264.8 136.3L265.5 138.1L265.5 140.5L265.3 141.0L266.0 144.1L265.2 146.6L266.7 148.0L266.2 149.4L267.5 152.0L266.2 152.5L264.8 154.9L263.2 154.9L261.9 157.0L260.1 157.2L259.4 157.5L257.5 158.3L256.1 157.3L254.8 158.5L252.1 158.3L250.2 157.1L248.5 158.9L247.1 158.2L243.6 157.9L242.8 159.2L240.3 158.4L239.8 158.7L237.9 156.7L236.1 158.2L234.0 157.4L231.6 158.5L230.3 157.4L228.5 157.6L226.2 155.9L226.2 155.0Z" fill="#7f7f7f" stroke="#2e2e2e" stroke-width="0.6"/>
<path d="M231.2 151.1L231.5 149.6L231.2 148.2L231.1 146.7L231.9 144.8L233.2 142.8L233.5 140.5L233.3 139.2L234.6 137.7L235.3 135.5L236.1 133.7L237.0 131.8L237.4 130.1L238.9 129.4L240.3 127.2L242.1 126.5L243.4 125.0L243.5 124.3L245.7 124.1L247.1 123.5L248.8 123.8L250.7 124.4L252.8 124.6L253.9 125.1L255.8 125.8L257.2 127.3L258.4 129.7L259.5 130.7L259.9 132.2L259.9 133.8L260.0 135.6L260.6 137.6L261.2 138.1L261.0 140.2L261.3 141.8L261.7 143.8L261.4 145.7L261.9 147.2L261.8 148.8L260.8 149.9L260.2 151.6L259.2 153.0L258.1 153.4L255.6 154.5L254.6 155.2L252.9 155.3L250.5 155.4L248.6 155.5L247.1 155.3L244.9 156.2L243.0 155.4L241.0 155.1L239.9 155.4L237.7 155.2L235.5 155.5L234.8 155.0L233.4 154.2L231.6 153.1Z" fill="#939393" stroke="#2e2e2e" stroke-width="0.5"/>
<path d="M236.4 149.6L236.0 148.0L236.5 147.3L236.9 145.9L237.9 144.0L238.4 142.1L238.8 140.1L239.9 138.2L241.3 137.1L241.6 135.4L242.9 134.0L244.2 132.9L245.7 132.3L247.3 131.6L249.6 131.7L251.7 132.7L252.3 132.8L253.3 133.7L254.8 135.1L255.4 137.1L256.6 138.4L256.9 140.8L257.6 142.1L257.6 143.8L256.7 145.9L256.9 148.4L255.7 150.6L254.1 151.4L253.1 152.0L250.7 151.9L249.4 153.3L247.8 152.9L246.4 152.5L244.2 153.0L242.6 153.0L240.7 153.3L239.0 153.2L236.8 152.6Z" fill="#b8b8b8" stroke="#2e2e2e" stroke-width="0.5"/>
<path d="M239.9 148.8L240.6 148.5L241.1 146.7L242.2 144.3L242.4 142.7L244.4 141.5L245.8 139.8L248.5 139.3L249.6 139.5L252.1 140.9L253.3 142.5L254.1 144.2L254.3 146.3L254.2 148.2L252.8 149.4L251.6 150.4L250.0 152.0L248.4 152.0L246.0 152.6L243.6 152.1L241.9 151.7Z" fill="#d6d6d6" stroke="#2e2e2e" stroke-width="0.5"/>
<circle cx="247.6" cy="148" r="1.1" fill="none" stroke="#333" stroke-width="0.5"/>
<path d="M205.1 87.6h1.1M213.6 81.0h1.1M207.9 78.5h1.1M159.1 93.3h1.1M206.1 88.1h1.1M199.8 91.2h1.1M205.7 76.4h1.1M171.7 73.6h1.1M185.9 92.2h1.1M205.8 77.5h1.1M213.4 86.8h1.1M194.5 74.4h1.1M177.6 74.9h1.1M172.3 74.4h1.1M204.2 76.1h1.1M207.8 76.8h1.1M215.4 82.5h1.1M158.5 84.5h1.1M216.0 83.5h1.1M178.0 73.4h1.1M159.2 88.9h1.1M194.1 91.3h1.1M158.9 84.4h1.1M165.9 74.4h1.1M158.0 90.1h1.1M193.1 74.7h1.1M204.5 90.1h1.1M205.7 89.5h1.1M197.4 75.9h1.1M193.9 73.8h1.1M196.4 90.7h1.1M182.9 74.3h1.1M186.7 91.1h1.1M175.8 74.9h1.1M181.0 92.2h1.1M188.9 90.1h1.1M191.6 90.0h1.1M170.9 91.2h1.1M199.4 90.0h1.1M207.7 76.7h1.1M193.3 75.5h1.1M161.3 74.0h1.1M174.0 91.1h1.1M188.5 73.2h1.1M172.6 75.0h1.1M180.7 74.4h1.1M174.0 73.4h1.1M210.4 87.1h1.1M162.4 72.6h1.1M163.5 90.6h1.1M173.4 73.9h1.1M209.2 79.5h1.1M182.9 73.4h1.1M178.5 90.8h1.1M215.2 82.6h1.1M160.3 89.9h1.1M179.0 74.1h1.1M206.9 88.9h1.1M216.8 84.0h1.1M165.1 90.0h1.1M207.6 88.8h1.1M215.3 82.5h1.1M171.1 74.7h1.1M171.1 74.6h1.1M186.7 90.8h1.1M182.5 92.0h1.1M204.0 77.5h1.1M208.3 87.3h1.1M178.3 74.3h1.1M207.0 76.9h1.1M189.0 74.9h1.1M174.9 75.4h1.1M189.0 91.3h1.1M197.3 75.7h1.1M201.6 90.0h1.1M169.6 90.2h1.1M163.4 90.1h1.1M206.5 77.0h1.1M181.0 75.1h1.1M215.8 84.3h1.1M215.8 79.9h1.1M194.6 91.1h1.1M192.1 90.3h1.1M195.8 90.8h1.1M211.1 86.6h1.1M211.5 86.8h1.1M212.7 87.4h1.1M167.1 91.1h1.1M202.3 75.9h1.1M201.3 76.7h1.1M203.1 90.1h1.1M215.3 83.3h1.1M204.3 76.9h1.1M172.3 74.1h1.1M162.4 91.5h1.1M181.2 73.6h1.1M181.4 93.6h1.1M215.4 83.0h1.1M185.6 91.3h1.1M168.8 91.5h1.1M190.5 75.0h1.1M159.5 91.4h1.1M157.8 83.2h1.1M179.9 75.6h1.1M195.4 91.3h1.1M159.5 73.8h1.1M209.7 78.5h1.1M214.6 83.6h1.1M170.3 91.2h1.1M204.7 90.4h1.1M158.4 81.3h1.1M174.9 91.5h1.1M175.4 90.7h1.1M201.7 90.3h1.1M176.3 74.1h1.1M163.1 90.9h1.1M180.5 92.0h1.1M159.6 75.0h1.1M159.0 91.0h1.1M197.9 75.4h1.1M184.7 74.2h1.1M159.9 74.1h1.1M157.8 74.4h1.1M173.3 89.9h1.1M158.6 79.5h1.1M189.8 75.2h1.1M157.8 87.2h1.1M194.7 76.0h1.1M173.3 91.7h1.1M208.0 79.1h1.1M188.9 75.0h1.1M159.7 75.1h1.1M176.1 92.2h1.1M180.7 75.4h1.1M192.0 91.4h1.1M158.6 87.3h1.1M211.3 86.1h1.1M184.8 91.4h1.1M158.5 74.6h1.1M159.4 92.3h1.1M212.3 86.6h1.1M184.8 73.2h1.1M206.6 87.7h1.1M169.5 89.8h1.1M213.9 79.7h1.1M214.3 86.1h1.1M166.2 73.7h1.1M170.0 91.2h1.1M179.4 92.3h1.1M176.5 73.1h1.1M198.4 91.5h1.1M190.5 90.7h1.1M183.2 75.1h1.1M173.4 89.8h1.1M201.8 89.0h1.1M190.9 74.4h1.1M197.6 89.7h1.1M185.2 92.5h1.1M210.8 86.0h1.1M216.8 82.6h1.1M159.8 76.2h1.1M209.6 88.9h1.1M216.2 81.3h1.1M206.8 78.2h1.1M184.9 92.2h1.1M217.3 85.6h1.1M207.0 89.2h1.1M177.8 90.8h1.1M211.0 89.4h1.1M176.5 73.9h1.1M158.0 81.7h1.1M200.8 74.9h1.1M173.4 74.6h1.1M158.4 82.0h1.1M167.3 92.2h1.1M189.9 91.8h1.1M201.3 89.1h1.1M194.8 91.4h1.1M218.0 82.3h1.1M211.3 86.8h1.1M158.7 90.4h1.1M183.8 92.0h1.1M168.1 90.9h1.1M184.9 74.5h1.1M184.7 73.5h1.1M177.6 75.2h1.1M175.6 92.4h1.1M184.5 91.0h1.1M178.1 75.2h1.1M179.3 90.9h1.1M169.3 74.3h1.1M209.2 87.6h1.1M197.2 75.3h1.1M207.4 76.8h1.1M211.4 86.8h1.1M207.7 87.5h1.1M212.0 80.3h1.1M182.7 75.3h1.1M158.1 82.7h1.1M176.8 75.4h1.1M206.0 78.1h1.1M215.7 82.5h1.1M172.4 74.7h1.1M202.5 76.6h1.1M214.6 85.1h1.1M171.4 92.1h1.1M165.0 73.2h1.1M189.1 92.0h1.1M188.9 75.2h1.1M172.9 90.5h1.1M203.5 90.5h1.1M205.9 77.8h1.1M174.4 74.4h1.1M180.9 75.3h1.1M215.0 81.5h1.1M169.9 75.3h1.1M208.5 79.4h1.1M163.4 90.3h1.1M172.6 90.8h1.1M194.8 73.1h1.1M203.2 75.5h1.1M177.3 92.8h1.1M209.3 78.4h1.1M202.6 91.2h1.1M163.5 73.3h1.1M198.3 76.0h1.1M175.5 74.3h1.1M158.3 83.4h1.1M170.6 92.3h1.1M175.2 91.0h1.1M200.8 75.3h1.1M179.2 74.4h1.1M182.6 92.2h1.1M177.9 73.4h1.1M216.0 82.1h1.1M165.8 91.2h1.1M206.1 76.3h1.1M176.3 74.8h1.1M195.1 74.4h1.1M214.6 80.6h1.1M203.7 89.5h1.1M205.2 77.1h1.1M167.5 74.2h1.1M161.6 91.6h1.1M173.7 91.2h1.1M179.4 91.8h1.1M164.4 89.7h1.1M176.0 73.9h1.1M193.2 91.9h1.1M158.1 90.0h1.1M190.2 91.8h1.1M201.7 90.8h1.1M212.5 86.6h1.1M159.4 88.6h1.1M164.8 90.7h1.1M169.1 91.4h1.1M183.4 91.5h1.1M159.8 86.4h1.1M190.3 91.9h1.1M183.3 94.0h1.1M214.9 83.5h1.1M160.3 74.1h1.1M201.0 75.4h1.1M196.2 74.3h1.1M170.1 75.8h1.1M187.6 91.4h1.1M210.2 87.9h1.1M180.6 91.0h1.1M166.0 74.2h1.1M176.1 91.4h1.1M167.9 90.7h1.1M212.6 79.8h1.1M197.3 73.9h1.1M171.0 91.0h1.1M158.8 80.4h1.1M192.5 75.0h1.1M169.4 91.7h1.1M170.4 90.1h1.1M159.6 74.8h1.1M215.6 79.6h1.1M199.7 76.9h1.1M211.5 85.8h1.1M158.8 81.4h1.1M207.8 88.4h1.1M171.6 74.2h1.1M211.1 88.3h1.1M216.5 81.9h1.1M196.5 90.1h1.1M181.7 93.6h1.1M201.8 90.0h1.1M190.3 90.7h1.1M169.0 74.9h1.1M159.2 92.5h1.1M158.5 82.9h1.1M162.3 87.4h1.1M159.4 81.2h1.1M160.0 81.3h1.1M159.7 75.2h1.1M158.7 82.4h1.1M158.4 84.9h1.1M162.1 81.2h1.1M161.5 80.7h1.1M161.4 79.3h1.1M159.1 77.6h1.1M159.6 80.3h1.1M159.2 82.5h1.1M160.3 88.3h1.1M160.4 78.7h1.1M164.3 88.6h1.1M159.4 84.9h1.1M158.4 78.6h1.1M169.1 80.0h1.1M160.1 81.2h1.1M158.7 87.7h1.1M158.7 73.1h1.1M158.8 87.4h1.1M161.4 89.2h1.1M158.6 83.8h1.1M163.1 84.3h1.1M158.8 75.7h1.1M160.1 80.0h1.1M159.8 80.4h1.1M161.5 89.9h1.1M158.4 81.7h1.1M158.5 80.1h1.1M159.0 75.2h1.1M158.5 93.0h1.1M159.7 76.1h1.1M158.8 82.6h1.1M160.3 78.2h1.1M159.2 87.2h1.1M160.3 80.8h1.1M161.4 76.7h1.1M158.8 91.4h1.1M159.6 80.5h1.1M163.0 80.9h1.1M160.2 89.2h1.1M159.8 84.9h1.1M158.7 84.0h1.1M159.3 75.8h1.1M158.9 78.3h1.1M162.5 83.1h1.1M158.7 82.8h1.1M158.5 90.7h1.1M158.7 84.6h1.1M158.4 81.3h1.1M159.1 87.0h1.1M161.1 86.6h1.1M161.3 78.5h1.1M158.9 91.9h1.1M163.0 91.7h1.1M158.9 77.4h1.1M159.6 86.1h1.1M159.3 88.3h1.1M159.1 91.1h1.1M159.7 89.1h1.1M159.6 76.7h1.1M160.2 79.5h1.1M158.7 87.8h1.1M158.9 80.8h1.1M158.5 90.4h1.1M160.7 77.7h1.1M160.9 82.9h1.1M160.1 83.5h1.1M162.6 77.6h1.1M159.5 91.5h1.1M158.6 73.1h1.1M159.8 84.6h1.1M158.5 87.2h1.1M160.2 87.2h1.1M162.1 80.8h1.1M158.5 77.3h1.1M159.5 86.5h1.1M158.9 76.1h1.1M159.6 92.5h1.1M160.8 75.6h1.1M159.1 87.2h1.1M159.7 84.6h1.1M158.4 73.8h1.1M158.7 77.9h1.1M158.7 84.8h1.1M159.1 91.9h1.1M250.6 120.9h1.1M250.7 157.6h1.1M262.6 126.4h1.1M238.5 123.6h1.1M253.7 156.3h1.1M238.0 157.5h1.1M228.2 154.4h1.1M226.5 150.3h1.1M231.3 155.8h1.1M241.1 159.0h1.1M261.4 156.5h1.1M264.3 134.6h1.1M261.0 127.6h1.1M261.0 156.7h1.1M232.6 131.1h1.1M260.1 155.9h1.1M243.2 121.0h1.1M228.1 141.0h1.1M230.2 138.1h1.1M259.8 123.7h1.1M261.5 126.8h1.1M262.1 154.4h1.1M258.1 121.3h1.1M236.6 157.6h1.1M253.1 120.0h1.1M227.6 152.1h1.1M240.8 119.4h1.1M238.6 158.2h1.1M236.7 156.6h1.1M256.1 157.4h1.1M227.7 148.8h1.1M242.9 158.2h1.1M265.4 131.9h1.1M265.6 148.2h1.1M249.1 119.9h1.1M227.4 145.6h1.1M263.8 155.8h1.1M247.0 158.2h1.1M234.4 127.5h1.1M245.1 119.3h1.1M264.1 132.9h1.1M228.1 140.0h1.1M242.9 158.6h1.1M266.3 149.2h1.1M241.9 119.5h1.1M259.9 126.6h1.1M258.9 121.7h1.1M232.7 130.5h1.1M262.8 154.5h1.1M265.7 138.2h1.1M226.8 147.1h1.1M240.1 157.3h1.1M229.8 137.5h1.1M242.4 120.1h1.1M256.7 120.5h1.1M226.0 155.3h1.1M260.1 124.2h1.1M265.0 141.1h1.1M230.1 155.8h1.1M228.7 142.7h1.1M232.2 132.2h1.1M230.3 133.6h1.1M238.5 123.4h1.1M265.1 136.5h1.1M226.9 153.9h1.1M230.4 155.8h1.1M226.9 150.8h1.1M247.2 118.5h1.1M235.4 157.7h1.1M249.1 119.1h1.1M265.8 143.7h1.1M253.5 120.3h1.1M251.0 157.1h1.1M244.5 158.6h1.1M265.8 140.8h1.1M259.0 156.8h1.1M249.3 158.4h1.1M253.0 119.7h1.1M258.4 121.1h1.1M251.8 157.3h1.1M257.6 158.3h1.1M233.0 131.9h1.1M238.8 123.3h1.1M241.2 121.1h1.1M234.0 124.7h1.1M224.6 151.2h1.1M254.5 119.8h1.1M240.8 159.0h1.1M239.4 120.1h1.1M230.3 136.0h1.1M256.1 158.0h1.1M227.1 155.4h1.1M231.6 157.4h1.1M229.4 144.5h1.1M260.9 123.1h1.1M250.0 158.9h1.1M260.0 123.3h1.1M264.3 141.2h1.1M234.6 125.8h1.1M235.0 126.5h1.1M263.6 137.3h1.1M262.0 125.4h1.1M227.8 145.4h1.1M235.6 124.5h1.1M229.3 155.4h1.1M266.4 142.4h1.1M263.3 133.3h1.1M252.2 159.6h1.1M255.1 121.0h1.1M243.1 121.6h1.1M235.6 125.5h1.1M232.6 131.8h1.1M261.4 156.4h1.1M247.8 157.1h1.1M230.4 139.0h1.1M232.3 130.9h1.1M228.1 145.5h1.1M226.1 146.5h1.1M238.0 157.7h1.1M230.9 137.8h1.1M230.4 137.6h1.1M264.5 135.4h1.1M263.9 139.5h1.1M251.3 120.9h1.1M259.0 124.0h1.1M257.0 158.1h1.1M240.4 119.8h1.1M230.1 156.4h1.1M225.9 155.2h1.1M234.7 126.0h1.1M231.3 130.9h1.1M249.0 119.4h1.1M227.0 144.5h1.1M260.1 156.8h1.1M263.3 132.3h1.1M262.9 154.8h1.1M230.4 139.3h1.1M264.3 133.3h1.1M239.9 158.6h1.1M226.3 149.1h1.1M229.4 135.6h1.1M227.1 151.5h1.1M258.4 157.5h1.1M243.4 158.5h1.1M227.8 156.3h1.1M258.6 122.7h1.1M227.1 155.9h1.1M230.4 132.8h1.1M265.7 145.0h1.1M267.5 149.2h1.1M243.7 157.4h1.1M228.7 155.9h1.1M226.6 151.2h1.1M247.1 119.4h1.1M228.5 147.3h1.1M234.4 127.8h1.1M252.0 157.0h1.1M231.4 155.9h1.1M232.7 156.7h1.1M241.9 120.9h1.1M252.4 158.0h1.1M235.8 157.3h1.1M233.2 130.9h1.1M254.2 118.3h1.1M227.3 154.0h1.1M230.5 157.0h1.1M266.1 145.3h1.1M263.1 133.7h1.1M232.3 156.0h1.1M224.9 149.8h1.1M252.3 120.1h1.1M266.2 149.3h1.1M263.8 134.2h1.1M230.6 139.8h1.1M262.2 156.0h1.1M243.6 158.7h1.1M264.0 138.5h1.1M256.3 120.6h1.1M225.9 150.2h1.1M265.3 153.3h1.1M242.2 119.3h1.1M227.5 149.8h1.1M228.0 148.6h1.1M226.4 146.4h1.1M265.0 138.0h1.1M226.5 148.5h1.1M247.7 158.5h1.1M264.0 129.3h1.1M259.7 157.2h1.1M266.4 131.8h1.1M263.4 129.9h1.1M234.5 156.7h1.1M264.6 133.8h1.1M254.4 119.5h1.1M227.4 150.7h1.1M259.2 123.2h1.1M262.6 153.9h1.1M257.7 123.9h1.1M235.4 157.8h1.1M235.1 127.3h1.1M255.4 122.1h1.1M267.2 148.0h1.1M225.8 152.7h1.1M254.4 121.0h1.1M230.9 137.9h1.1M259.5 123.0h1.1M249.4 118.8h1.1M230.1 157.0h1.1M230.9 156.8h1.1M226.3 153.4h1.1M232.3 131.6h1.1M264.2 137.8h1.1M245.7 158.5h1.1M236.4 124.0h1.1M230.3 156.8h1.1M259.8 156.2h1.1M265.7 141.2h1.1M228.5 144.3h1.1M265.4 153.1h1.1M258.4 157.0h1.1M260.2 124.1h1.1M248.8 119.7h1.1M254.2 121.2h1.1M252.1 159.1h1.1M228.9 138.2h1.1M237.9 124.4h1.1M258.7 122.9h1.1M225.9 152.3h1.1M256.1 120.6h1.1M250.9 120.2h1.1M230.8 156.1h1.1M264.5 151.7h1.1M262.6 130.2h1.1M226.7 146.9h1.1M226.5 155.0h1.1M264.6 154.8h1.1M233.8 130.1h1.1M229.9 157.5h1.1M248.0 120.5h1.1M228.9 138.6h1.1M227.8 140.7h1.1M266.3 141.8h1.1M244.0 118.5h1.1M249.0 120.1h1.1M231.8 130.1h1.1M242.8 158.4h1.1M257.5 158.3h1.1M229.4 140.0h1.1M261.4 154.9h1.1M261.4 156.1h1.1M246.8 157.1h1.1M265.1 140.4h1.1M257.5 122.6h1.1M240.2 122.0h1.1M227.1 152.1h1.1M232.6 158.0h1.1M230.2 132.4h1.1M229.3 138.2h1.1M254.9 120.7h1.1M258.5 157.4h1.1" stroke="#111" stroke-width="1.1" fill="none"/>
<rect x="157.6" y="67.2" width="118.2" height="105.6" fill="none" stroke="#111" stroke-width="1.2"/>
<path d="M158.28 172.8v6.4M161.96 172.8v6.4M164.82 172.8v6.4M167.16 172.8v6.4M169.13 172.8v6.4M170.84 172.8v6.4M172.35 172.8v6.4M173.7 172.8v10.7M182.58 172.8v6.4M187.78 172.8v6.4M191.46 172.8v6.4M194.32 172.8v6.4M196.66 172.8v6.4M198.63 172.8v6.4M200.34 172.8v6.4M201.85 172.8v6.4M203.2 172.8v10.7M212.08 172.8v6.4M217.28 172.8v6.4M220.96 172.8v6.4M223.82 172.8v6.4M226.16 172.8v6.4M228.13 172.8v6.4M229.84 172.8v6.4M231.35 172.8v6.4M232.7 172.8v10.7M241.58 172.8v6.4M246.78 172.8v6.4M250.46 172.8v6.4M253.32 172.8v6.4M255.66 172.8v6.4M257.63 172.8v6.4M259.34 172.8v6.4M260.85 172.8v6.4M262.2 172.8v10.7M271.08 172.8v6.4M276.28 172.8v6.4" fill="none" stroke="#111" stroke-width="1.35"/>
<text x="158.6" y="115.3" font-size="16.3" textLength="21.6" lengthAdjust="spacingAndGlyphs" style="stroke:#fff;stroke-width:2.2px;fill:#fff">Q1</text>
<text x="158.6" y="115.3" font-size="16.3" textLength="21.6" lengthAdjust="spacingAndGlyphs" style="stroke-width:0.95px">Q1</text>
<text x="248.4" y="82.6" font-size="16.3" textLength="22.2" lengthAdjust="spacingAndGlyphs" style="stroke:#fff;stroke-width:2.2px;fill:#fff">Q2</text>
<text x="248.4" y="82.6" font-size="16.3" textLength="22.2" lengthAdjust="spacingAndGlyphs" style="stroke-width:0.95px">Q2</text>
<text font-size="14.6" text-anchor="middle" textLength="90" lengthAdjust="spacingAndGlyphs" transform="translate(18 118) rotate(-90)">HLA-DR (DC)</text>
<text x="130.3" y="209.9" font-size="14.6" textLength="98" lengthAdjust="spacingAndGlyphs">CFSE (DU145)</text>
<path d="M349.5 36L349.5 198.8" stroke="#222" stroke-width="1.1"/>
<path d="M349 198.8L453 198.8" stroke="#222" stroke-width="1.1"/>
<path d="M343.6 191.8L349.5 191.8" stroke="#222" stroke-width="1.1"/>
<text x="337.2" y="196.4" font-size="12.8" text-anchor="end">0</text>
<path d="M343.6 167.75L349.5 167.75" stroke="#222" stroke-width="1.1"/>
<text x="337.2" y="172.35" font-size="12.8" text-anchor="end">10</text>
<path d="M343.6 143.7L349.5 143.7" stroke="#222" stroke-width="1.1"/>
<text x="337.2" y="148.3" font-size="12.8" text-anchor="end">20</text>
<path d="M343.6 119.65L349.5 119.65" stroke="#222" stroke-width="1.1"/>
<text x="337.2" y="124.25" font-size="12.8" text-anchor="end">30</text>
<path d="M343.6 95.6L349.5 95.6" stroke="#222" stroke-width="1.1"/>
<text x="337.2" y="100.2" font-size="12.8" text-anchor="end">40</text>
<path d="M343.6 71.55L349.5 71.55" stroke="#222" stroke-width="1.1"/>
<text x="337.2" y="76.15" font-size="12.8" text-anchor="end">50</text>
<path d="M343.6 47.5L349.5 47.5" stroke="#222" stroke-width="1.1"/>
<text x="337.2" y="52.1" font-size="12.8" text-anchor="end">60</text>
<text font-size="13.2" textLength="64" lengthAdjust="spacingAndGlyphs" transform="translate(311.9 192.3) rotate(-90)">% HLA-DR</text>
<text font-size="10" font-weight="bold" transform="translate(301.9 126.4) rotate(-90)">+</text>
<text font-size="13.2" textLength="34.3" lengthAdjust="spacingAndGlyphs" transform="translate(311.9 119) rotate(-90)">CFSE</text>
<text font-size="10" font-weight="bold" transform="translate(301.9 83.5) rotate(-90)">+</text>
<text font-size="13.2" textLength="18.3" lengthAdjust="spacingAndGlyphs" transform="translate(311.9 72.4) rotate(-90)">DC</text>
<path d="M356 191.8L377.5 191.8" stroke="#262626" stroke-width="1"/>
<circle cx="367" cy="191.8" r="4.6" fill="#1c1c1c"/>
<rect x="390.8" y="124.3" width="21.2" height="26.2" fill="#c9c9c9" stroke="#4a4a4a" stroke-width="1"/>
<path d="M390.8 132.5L412 132.5" stroke="#4a4a4a" stroke-width="1"/>
<path d="M396.5 121L406.1 121L401.3 129.6Z" fill="#1c1c1c"/>
<path d="M396.5 126L406.1 126L401.3 134.6Z" fill="#1c1c1c"/>
<path d="M396.5 134L406.1 134L401.3 142.6Z" fill="#1c1c1c"/>
<path d="M396.5 141.2L406.1 141.2L401.3 149.8Z" fill="#1c1c1c"/>
<path d="M396.5 166.2L406.1 166.2L401.3 174.8Z" fill="#1c1c1c"/>
<rect x="425.2" y="50.8" width="21.5" height="44.2" fill="#c9c9c9" stroke="#4a4a4a" stroke-width="1"/>
<path d="M425.2 64.6L446.7 64.6" stroke="#4a4a4a" stroke-width="1"/>
<rect x="431.4" y="43" width="8.8" height="8.8" fill="#1c1c1c"/>
<rect x="431.4" y="46.8" width="8.8" height="8.8" fill="#1c1c1c"/>
<rect x="431.4" y="60.6" width="8.8" height="8.8" fill="#1c1c1c"/>
<rect x="431.4" y="75" width="8.8" height="8.8" fill="#1c1c1c"/>
<rect x="431.4" y="136.3" width="8.8" height="8.8" fill="#1c1c1c"/>
<path d="M365 29.3L436.8 29.3" stroke="#262626" stroke-width="1"/>
<text x="400.2" y="31.86" font-size="14" text-anchor="middle" textLength="20.85" lengthAdjust="spacingAndGlyphs">***</text>
<path d="M397.6 40.1L436.2 40.1" stroke="#262626" stroke-width="1"/>
<text x="416.6" y="42.56" font-size="14" text-anchor="middle" textLength="20.85" lengthAdjust="spacingAndGlyphs">***</text>
<path d="M365 115L403.8 115" stroke="#262626" stroke-width="1"/>
<text x="384.5" y="117.36" font-size="14" text-anchor="middle" textLength="20.85" lengthAdjust="spacingAndGlyphs">***</text>
<circle cx="357.7" cy="211.1" r="4.6" fill="#1c1c1c"/>
<path d="M352.9 223.5L362.5 223.5L357.7 232.1Z" fill="#1c1c1c"/>
<rect x="353.5" y="240" width="8.4" height="8.4" fill="#1c1c1c"/>
<text x="380.6" y="215.5" font-size="12.7" textLength="46" lengthAdjust="spacingAndGlyphs">DC + Nil</text>
<text x="380.6" y="231.9" font-size="12.7" textLength="107" lengthAdjust="spacingAndGlyphs">DC + 0 Gy DU145</text>
<text x="380.6" y="248.6" font-size="12.7" textLength="114.3" lengthAdjust="spacingAndGlyphs">DC + 12 Gy DU145</text>
<!-- Panel B -->
<text x="-0.6" y="270" font-size="24" font-weight="bold" textLength="19.6" lengthAdjust="spacingAndGlyphs">B</text>
<path d="M80 282.7L80 450" stroke="#222" stroke-width="1.1"/>
<path d="M79.5 449.5L233.4 449.5" stroke="#222" stroke-width="1.1"/>
<path d="M74.2 449.5L80 449.5" stroke="#222" stroke-width="1.1"/>
<text x="72.8" y="454.7" font-size="15" text-anchor="end">0</text>
<path d="M74.2 416.25L80 416.25" stroke="#222" stroke-width="1.1"/>
<text x="72.8" y="421.45" font-size="15" text-anchor="end">2,000</text>
<path d="M74.2 383L80 383" stroke="#222" stroke-width="1.1"/>
<text x="72.8" y="388.2" font-size="15" text-anchor="end">4,000</text>
<path d="M74.2 349.75L80 349.75" stroke="#222" stroke-width="1.1"/>
<text x="72.8" y="354.95" font-size="15" text-anchor="end">6,000</text>
<path d="M74.2 316.5L80 316.5" stroke="#222" stroke-width="1.1"/>
<text x="72.8" y="321.7" font-size="15" text-anchor="end">8,000</text>
<path d="M74.2 283.25L80 283.25" stroke="#222" stroke-width="1.1"/>
<text x="72.8" y="288.45" font-size="15" text-anchor="end">10,000</text>
<path d="M96.35 338L96.35 343.8" stroke="#222" stroke-width="1.1"/>
<path d="M93.8 338L101.3 338" stroke="#222" stroke-width="1.1"/>
<rect x="89.5" y="343.8" width="13.7" height="105.7" fill="#1c1c1c"/>
<path d="M113.4 425L113.4 427.4" stroke="#222" stroke-width="1.1"/>
<path d="M108.5 425L118.3 425" stroke="#222" stroke-width="1.1"/>
<rect x="106.7" y="427.4" width="13.4" height="22.1" fill="#c9c9c9" stroke="#2a2a2a" stroke-width="1"/>
<path d="M148.15 369.3L148.15 375.9" stroke="#222" stroke-width="1.1"/>
<path d="M142.5 369.3L153.3 369.3" stroke="#222" stroke-width="1.1"/>
<rect x="140.9" y="375.9" width="14.5" height="73.6" fill="#1c1c1c"/>
<path d="M165.4 429.3L165.4 431.5" stroke="#222" stroke-width="1.1"/>
<path d="M160.3 429.3L170.3 429.3" stroke="#222" stroke-width="1.1"/>
<rect x="158.7" y="431.5" width="13.4" height="18" fill="#c9c9c9" stroke="#2a2a2a" stroke-width="1"/>
<path d="M200.85 294L200.85 311" stroke="#222" stroke-width="1.1"/>
<path d="M195.5 294L206 294" stroke="#222" stroke-width="1.1"/>
<rect x="193.8" y="311" width="14.1" height="138.5" fill="#1c1c1c"/>
<path d="M218.5 423L218.5 424" stroke="#222" stroke-width="1.1"/>
<path d="M213.5 423L223.5 423" stroke="#222" stroke-width="1.1"/>
<rect x="211.6" y="424" width="13.8" height="25.5" fill="#c9c9c9" stroke="#2a2a2a" stroke-width="1"/>
<path d="M96.3 276.2L204.6 276.2" stroke="#262626" stroke-width="1"/>
<text x="146.7" y="272.96" font-size="14" text-anchor="middle" textLength="7.15" lengthAdjust="spacingAndGlyphs">*</text>
<path d="M147.4 292.5L204 292.5" stroke="#262626" stroke-width="1"/>
<text x="170.3" y="294.56" font-size="14" text-anchor="middle" textLength="14" lengthAdjust="spacingAndGlyphs">**</text>
<path d="M97.5 328.8L149.7 328.8" stroke="#262626" stroke-width="1"/>
<text x="118.4" y="327.76" font-size="14" text-anchor="middle" textLength="14" lengthAdjust="spacingAndGlyphs">**</text>
<text x="62" y="464.6" font-size="10.7" textLength="23" lengthAdjust="spacingAndGlyphs">DC+</text>
<text x="98.8" y="464.6" font-size="10.7" textLength="12" lengthAdjust="spacingAndGlyphs">Nil</text>
<text x="126.2" y="464.6" font-size="10.7" textLength="62" lengthAdjust="spacingAndGlyphs">0 Gy-DU145</text>
<text x="198" y="464.6" font-size="10.7" textLength="65.5" lengthAdjust="spacingAndGlyphs">12 Gy-DU145</text>
<text font-size="15" text-anchor="middle" textLength="75" lengthAdjust="spacingAndGlyphs" transform="translate(18 358.5) rotate(-90)">CD86 (mfi)</text>
<rect x="114" y="482" width="34.8" height="11.5" fill="#1c1c1c"/>
<rect x="114.5" y="502.2" width="33.8" height="9.8" fill="#c9c9c9" stroke="#2a2a2a" stroke-width="1"/>
<text x="156.8" y="493.5" font-size="15" textLength="37" lengthAdjust="spacingAndGlyphs">CD86</text>
<text x="156.8" y="511.8" font-size="15" textLength="45.8" lengthAdjust="spacingAndGlyphs">Isotype</text>
<!-- Panel C -->
<text x="302.6" y="272" font-size="24" font-weight="bold" textLength="20" lengthAdjust="spacingAndGlyphs">C</text>
<path d="M341.3 290.8L341.3 445.7" stroke="#6e6e6e" stroke-width="1.1"/>
<path d="M340.8 445.2L457.7 445.2" stroke="#6e6e6e" stroke-width="1.1"/>
<path d="M339.2 441.03H341.3M339.2 435.87H341.3M339.2 430.7H341.3M339.2 425.54H341.3M337.3 420.37H341.3M339.2 415.2H341.3M339.2 410.04H341.3M339.2 404.87H341.3M339.2 399.71H341.3M337.3 394.54H341.3M339.2 389.37H341.3M339.2 384.21H341.3M339.2 379.04H341.3M339.2 373.88H341.3M337.3 368.71H341.3M339.2 363.54H341.3M339.2 358.38H341.3M339.2 353.21H341.3M339.2 348.05H341.3M337.3 342.88H341.3M339.2 337.71H341.3M339.2 332.55H341.3M339.2 327.38H341.3M339.2 322.22H341.3M337.3 317.05H341.3M339.2 311.88H341.3M339.2 306.72H341.3M339.2 301.55H341.3M339.2 296.39H341.3M337.3 291.22H341.3" fill="none" stroke="#6e6e6e" stroke-width="1"/>
<text x="305" y="424.97" font-size="13.2" textLength="30" lengthAdjust="spacingAndGlyphs">1e+4</text>
<text x="305" y="399.14" font-size="13.2" textLength="30" lengthAdjust="spacingAndGlyphs">2e+4</text>
<text x="305" y="373.31" font-size="13.2" textLength="30" lengthAdjust="spacingAndGlyphs">3e+4</text>
<text x="305" y="347.48" font-size="13.2" textLength="30" lengthAdjust="spacingAndGlyphs">4e+4</text>
<text x="305" y="321.65" font-size="13.2" textLength="30" lengthAdjust="spacingAndGlyphs">5e+4</text>
<text x="305" y="295.82" font-size="13.2" textLength="30" lengthAdjust="spacingAndGlyphs">6e+4</text>
<text x="306" y="450.4" font-size="13.2">0</text>
<path d="M365.65 380.6L365.65 383.3" stroke="#3c3c3c" stroke-width="1"/>
<path d="M361.5 380.6L370 380.6" stroke="#3c3c3c" stroke-width="1"/>
<rect x="359.8" y="383.3" width="11.7" height="61.9" fill="#e2e2e2" stroke="#3c3c3c" stroke-width="0.9"/>
<path d="M378.8 364.3L378.8 370" stroke="#3c3c3c" stroke-width="1"/>
<path d="M374.5 364.3L384 364.3" stroke="#3c3c3c" stroke-width="1"/>
<rect x="372.5" y="370" width="12.6" height="75.2" fill="#626262" stroke="#3c3c3c" stroke-width="0.9"/>
<path d="M392.55 312.5L392.55 321.8" stroke="#3c3c3c" stroke-width="1"/>
<path d="M387 312.5L398.3 312.5" stroke="#3c3c3c" stroke-width="1"/>
<rect x="386.1" y="321.8" width="12.9" height="123.4" fill="#9a9a9a" stroke="#3c3c3c" stroke-width="0.9"/>
<path d="M419.15 370L419.15 370.5" stroke="#3c3c3c" stroke-width="1"/>
<path d="M415 370L423.5 370" stroke="#3c3c3c" stroke-width="1"/>
<rect x="413" y="370.5" width="12.3" height="74.7" fill="#e2e2e2" stroke="#3c3c3c" stroke-width="0.9"/>
<path d="M432.55 350.8L432.55 353.3" stroke="#3c3c3c" stroke-width="1"/>
<path d="M427.5 350.8L438 350.8" stroke="#3c3c3c" stroke-width="1"/>
<rect x="426.3" y="353.3" width="12.5" height="91.9" fill="#626262" stroke="#3c3c3c" stroke-width="0.9"/>
<path d="M445.9 300.5L445.9 304.3" stroke="#3c3c3c" stroke-width="1"/>
<path d="M440 300.5L451.8 300.5" stroke="#3c3c3c" stroke-width="1"/>
<rect x="439.8" y="304.3" width="12.2" height="140.9" fill="#9a9a9a" stroke="#3c3c3c" stroke-width="0.9"/>
<path d="M379 445.2L379 449.6" stroke="#6e6e6e" stroke-width="1"/>
<path d="M432.7 445.2L432.7 449.6" stroke="#6e6e6e" stroke-width="1"/>
<text x="350" y="464" font-size="14.2" textLength="49.6" lengthAdjust="spacingAndGlyphs">Donor 1</text>
<text x="413.5" y="464" font-size="14.2" textLength="51.9" lengthAdjust="spacingAndGlyphs">Donor 2</text>
<path d="M360 296.3L395.5 296.3" stroke="#333" stroke-width="1"/>
<text x="377" y="299.16" font-size="14" text-anchor="middle" textLength="14" lengthAdjust="spacingAndGlyphs">**</text>
<path d="M373.8 308.8L395.5 308.8" stroke="#333" stroke-width="1"/>
<text x="385.3" y="311.06" font-size="14" text-anchor="middle" textLength="7.15" lengthAdjust="spacingAndGlyphs">*</text>
<text x="360.8" y="355" font-size="13.4" textLength="17.4" lengthAdjust="spacingAndGlyphs">NS</text>
<path d="M358.3 358.8L380 358.8" stroke="#333" stroke-width="1"/>
<path d="M412.5 286.8L446.3 286.8" stroke="#333" stroke-width="1"/>
<text x="430" y="290.46" font-size="14" text-anchor="middle" textLength="20.85" lengthAdjust="spacingAndGlyphs">***</text>
<path d="M425 297.5L446.3 297.5" stroke="#333" stroke-width="1"/>
<text x="435.8" y="301.31" font-size="14" text-anchor="middle" textLength="20.85" lengthAdjust="spacingAndGlyphs">***</text>
<path d="M416.8 346.8L433.3 346.8" stroke="#333" stroke-width="1"/>
<text x="424.6" y="349.16" font-size="14" text-anchor="middle" textLength="14" lengthAdjust="spacingAndGlyphs">**</text>
<text font-size="15" text-anchor="middle" textLength="117.5" lengthAdjust="spacingAndGlyphs" transform="translate(298.5 363.8) rotate(-90)">CD86 on DC (mfi)</text>
<rect x="330" y="474.6" width="29.2" height="9" fill="#e2e2e2" stroke="#3c3c3c" stroke-width="0.9"/>
<rect x="330" y="490.8" width="29.2" height="9" fill="#626262" stroke="#3c3c3c" stroke-width="0.9"/>
<rect x="330" y="507.3" width="29.2" height="9" fill="#9a9a9a" stroke="#3c3c3c" stroke-width="0.9"/>
<text x="367.3" y="483.8" font-size="13.2" textLength="50.7" lengthAdjust="spacingAndGlyphs">DC + Nil</text>
<text x="367.3" y="500" font-size="13.2" textLength="151.5" lengthAdjust="spacingAndGlyphs">DC+12 Gy DU145 (in Q1)</text>
<text x="367.3" y="516.5" font-size="13.2" textLength="151.5" lengthAdjust="spacingAndGlyphs">DC+12 Gy DU145 (in Q2)</text>
<!-- Panel D -->
<text x="-1.9" y="543.5" font-size="24" font-weight="bold" textLength="19.5" lengthAdjust="spacingAndGlyphs">D</text>
<text x="23.4" y="546.8" font-size="15" font-weight="bold">i</text>
<text x="189.3" y="546.8" font-size="15" font-weight="bold" textLength="8.8" lengthAdjust="spacingAndGlyphs">ii</text>
<path d="M79.3 556.6L79.3 732.6" stroke="#3a3a3a" stroke-width="1.1"/>
<path d="M75.8 732.1L153.6 732.1" stroke="#3a3a3a" stroke-width="1.1"/>
<path d="M74.7 732.1L79.3 732.1" stroke="#3a3a3a" stroke-width="1.1"/>
<text x="26.4" y="736.5" font-size="12.4" textLength="41.3" lengthAdjust="spacingAndGlyphs">1.5e+4</text>
<path d="M74.7 683.53L79.3 683.53" stroke="#3a3a3a" stroke-width="1.1"/>
<text x="26.4" y="687.93" font-size="12.4" textLength="41.3" lengthAdjust="spacingAndGlyphs">2.0e+4</text>
<path d="M74.7 634.96L79.3 634.96" stroke="#3a3a3a" stroke-width="1.1"/>
<text x="26.4" y="639.36" font-size="12.4" textLength="41.3" lengthAdjust="spacingAndGlyphs">2.5e+4</text>
<path d="M74.7 586.39L79.3 586.39" stroke="#3a3a3a" stroke-width="1.1"/>
<text x="26.4" y="590.79" font-size="12.4" textLength="41.3" lengthAdjust="spacingAndGlyphs">3.0e+4</text>
<rect x="87.4" y="581.7" width="13.9" height="150.4" fill="#1c1c1c"/>
<path d="M116.8 612.5L116.8 620" stroke="#444" stroke-width="1.1"/>
<path d="M112.1 612.5L121.6 612.5" stroke="#444" stroke-width="1.1"/>
<rect x="110" y="619.7" width="13.6" height="112.4" fill="#c9c9c9" stroke="#333" stroke-width="1"/>
<path d="M139.3 651.7L139.3 656" stroke="#444" stroke-width="1.1"/>
<path d="M135 651.7L143.8 651.7" stroke="#444" stroke-width="1.1"/>
<rect x="132.9" y="656" width="12.8" height="76.1" fill="#7e7e7e" stroke="#555" stroke-width="1"/>
<path d="M95 563.4L150.6 563.4" stroke="#262626" stroke-width="1"/>
<text x="120.9" y="568.06" font-size="14" text-anchor="middle" textLength="20.85" lengthAdjust="spacingAndGlyphs">***</text>
<path d="M92.8 577.2L112 577.2" stroke="#262626" stroke-width="1"/>
<text x="102.9" y="582.16" font-size="14" text-anchor="middle" textLength="14" lengthAdjust="spacingAndGlyphs">**</text>
<path d="M117.7 601L143.8 601" stroke="#262626" stroke-width="1"/>
<text x="130" y="601.96" font-size="14" text-anchor="middle" textLength="7.15" lengthAdjust="spacingAndGlyphs">*</text>
<text font-size="13.8" text-anchor="middle" textLength="135" lengthAdjust="spacingAndGlyphs" transform="translate(16.2 644) rotate(-90)">CFSE of T cells (mfi)</text>
<rect x="190.5" y="561.3" width="103.8" height="52" fill="none" stroke="#cccccc" stroke-width="1"/>
<path d="M190.5 561.3L190.5 613.3" stroke="#777" stroke-width="1"/>
<path d="M189 567.08h1.6M189 572.86h1.6M189 578.63h1.6M189 584.41h1.6M189 590.19h1.6M189 595.97h1.6M189 601.74h1.6M189 607.52h1.6" fill="none" stroke="#777" stroke-width="0.7"/>
<path d="M195.22 613.3v1.2M199.94 613.3v1.2M204.65 613.3v1.2M209.37 613.3v1.2M214.09 613.3v1.2M218.81 613.3v1.2M223.53 613.3v1.2M228.25 613.3v1.2M232.96 613.3v1.2M237.68 613.3v1.2M242.4 613.3v1.2M247.12 613.3v1.2M251.84 613.3v1.2M256.55 613.3v1.2M261.27 613.3v1.2M265.99 613.3v1.2M270.71 613.3v1.2M275.43 613.3v1.2M280.15 613.3v1.2M284.86 613.3v1.2M289.58 613.3v1.2" fill="none" stroke="#aaa" stroke-width="0.6"/>
<path d="M191 612.9L192.3 611.96L193.1 612.51L194.08 612.78L195.1 612.45L196.38 612.2L197.68 612.01L198.72 611.76L199.56 612.03L200.86 612.17L201.83 612.64L203.59 611.64L204.76 612L206.62 611.74L207.52 612.85L208.52 611.76L209.44 612.35L211.39 612.21L213.02 612.49L214.64 611.81L215.46 611.92L217.45 611.93L218.59 611.87L219.51 612.32L221.4 612.52L222.55 612.73L223.37 612.02L224.42 612.55L225.81 612.83L227.3 612.71L228.81 611.99L229.73 612.36L231.37 612.36L232.23 612.2L233.82 612.23L235.76 612.14L237.64 612.72L238.61 611.85L239.89 612.69L241.8 612.45L243.5 611.96L245.36 612.09L247.06 612.45L248.18 611.74L249.5 611.65L251.09 612.09L252.03 611.67L253.37 612.15L254.66 612.59L256.55 612.15L257.35 612.1L258.54 612.21L260.4 612.44L262.29 612.09L263.11 611.69L264.74 611.6L265.75 612.72L267.67 611.99L268.55 611.92L270.25 611.7L271.91 612.74L272.73 612.87L273.56 612.58L275.4 612.2L276.86 611.81L277.81 612.54L279.31 611.64L280.78 612.88L282.55 612.6L284.31 612.4L286.15 611.93L287.62 612.72L288.49 612.74L289.34 612.76L290.41 611.97L291.89 612.88L292.77 611.64L294.25 612.64" fill="none" stroke="#5a5a5a" stroke-width="0.7"/>
<path d="M250 612.9L250 612.7L258.3 612.2L263.6 610.7L266.3 608.2L267.7 600.8L269.7 594L271.7 590L273.1 584.6L274.4 575.2L275.5 565.8L276 561.8L276.5 562.5L277.1 567.1L278.2 581.9L279.1 594L280.5 603.5L281.8 608.2L283.8 610.7L286.5 612.2L290 612.7L290 612.9Z" fill="#8a8a8a" stroke="#6a6a6a" stroke-width="0.6" stroke-linejoin="round"/>
<rect x="190.5" y="621.3" width="103.8" height="47" fill="none" stroke="#cccccc" stroke-width="1"/>
<path d="M190.5 621.3L190.5 668.3" stroke="#777" stroke-width="1"/>
<path d="M189 626.52h1.6M189 631.74h1.6M189 636.97h1.6M189 642.19h1.6M189 647.41h1.6M189 652.63h1.6M189 657.86h1.6M189 663.08h1.6" fill="none" stroke="#777" stroke-width="0.7"/>
<path d="M195.22 668.3v1.2M199.94 668.3v1.2M204.65 668.3v1.2M209.37 668.3v1.2M214.09 668.3v1.2M218.81 668.3v1.2M223.53 668.3v1.2M228.25 668.3v1.2M232.96 668.3v1.2M237.68 668.3v1.2M242.4 668.3v1.2M247.12 668.3v1.2M251.84 668.3v1.2M256.55 668.3v1.2M261.27 668.3v1.2M265.99 668.3v1.2M270.71 668.3v1.2M275.43 668.3v1.2M280.15 668.3v1.2M284.86 668.3v1.2M289.58 668.3v1.2" fill="none" stroke="#aaa" stroke-width="0.6"/>
<path d="M191 667.9L192.32 667.87L193.78 667.33L195.09 667.47L196.13 667.09L197.29 667.55L198.84 667.21L199.8 667.23L200.82 666.88L202.65 667.26L204.46 667.8L205.87 667.82L207.18 667.77L208.13 667.12L209.21 667.76L210.27 667.45L211.63 667.64L213.2 667.27L214.61 667.4L216.36 667.15L217.35 666.99L219.31 667.25L221.18 667.46L222.66 667.34L223.98 666.89L225.42 666.66L226.88 667.79L228.12 666.79L229.41 667.86L230.5 667.81L232.49 666.64L234.25 667.12L235.97 667.68L237.12 667.22L238.35 667.84L240.33 667.33L241.74 667.48L242.85 667.4L244.65 666.94L245.9 667.88L247.66 667.55L249.16 667.87L250.75 667.4L252.15 667.36L253.37 667.18L255.34 667.75L256.51 667.85L258.2 667.05L259.26 667.36L260.83 667.04L261.83 666.75L263.57 667.73L265.41 666.93L267.17 667.19L268.23 666.71L269.74 667.45L270.86 666.71L272.16 667.2L273.69 666.83L275.24 667.67L276.75 667.26L278.21 666.99L279.31 667.66L280.24 667.54L281.05 667.08L282.2 667.66L283.12 667.53L284.18 667.53L285.54 667.19L287.36 666.61L288.22 667.6L289.79 667.69L291.63 667.62L293.32 667.05L295.08 667.86" fill="none" stroke="#5a5a5a" stroke-width="0.7"/>
<path d="M240 667.9L240 667.5L247.5 667L251.5 665.5L254.9 662.8L256.9 660.8L258.5 661.4L259.6 655.4L260.7 650L261.6 645.3L262.6 646.6L263.4 641.9L264.3 643.9L265.3 640.6L266.3 633.8L267.4 627.1L268.4 624.4L269.3 622.4L270.4 627.1L271.2 635.2L272 643.9L272.8 648L273.7 645.3L274.7 649.3L275.8 651.3L277.1 655.4L278.5 660.8L280.1 662.1L281.8 665.5L283.8 667L288 667.5L288 667.9Z" fill="#8a8a8a" stroke="#6a6a6a" stroke-width="0.6" stroke-linejoin="round"/>
<path d="M266 662L269.3 662" stroke="#444" stroke-width="0.8"/>
<rect x="190.5" y="677" width="103.8" height="55.5" fill="none" stroke="#cccccc" stroke-width="1"/>
<path d="M190.5 677L190.5 732.5" stroke="#777" stroke-width="1"/>
<path d="M189 683.17h1.6M189 689.33h1.6M189 695.5h1.6M189 701.67h1.6M189 707.83h1.6M189 714h1.6M189 720.17h1.6M189 726.33h1.6" fill="none" stroke="#777" stroke-width="0.7"/>
<path d="M195.22 732.5v1.2M199.94 732.5v1.2M204.65 732.5v1.2M209.37 732.5v1.2M214.09 732.5v1.2M218.81 732.5v1.2M223.53 732.5v1.2M228.25 732.5v1.2M232.96 732.5v1.2M237.68 732.5v1.2M242.4 732.5v1.2M247.12 732.5v1.2M251.84 732.5v1.2M256.55 732.5v1.2M261.27 732.5v1.2M265.99 732.5v1.2M270.71 732.5v1.2M275.43 732.5v1.2M280.15 732.5v1.2M284.86 732.5v1.2M289.58 732.5v1.2" fill="none" stroke="#aaa" stroke-width="0.6"/>
<path d="M191 731.6L192.46 730.68L193.61 730.94L195.48 730.43L196.43 731.33L197.29 731.03L198.13 731.01L199.71 731.24L201.32 730.83L202.15 730.87L203.26 731.06L204.4 730.7L205.73 731.4L207.18 730.59L208.35 731.31L209.62 730.38L211.59 730.73L213.47 730.5L214.72 731.48L216.31 730.87L217.54 731.31L218.83 730.99L219.95 731.22L221.3 730.48L222.81 731.23L223.94 731.01L224.99 731.34L226.4 731.49L227.78 731.13L229.43 730.63L231.06 730.7L232.31 730.73L233.52 730.86L234.71 731.02L235.58 731.28L237.55 731.3L239.18 730.75L240.85 730.98L242.36 731.51L243.25 731.34L244.23 731.47L245.19 730.88L246.21 730.36L247.83 730.9L249.48 731.26L251.39 730.51L253.06 730.98L254.87 730.63L256.47 730.41L258.03 731.12L259.49 731.34L260.52 730.66L262.26 730.34L264.08 730.89L264.99 730.96L266.9 730.58L268.29 731.01L269.35 731.37L270.24 730.44L271.8 731.41L273.1 731.54L274.15 730.65L275.73 730.98L276.86 730.75L278.81 731.03L279.7 731.52L280.6 730.35L282.04 730.51L283.05 731.26L284.68 730.44L285.89 731.52L287.72 731.22L289.41 731.39L291.05 730.51L292.72 731.13L294.39 731.42" fill="none" stroke="#5a5a5a" stroke-width="0.7"/>
<path d="M228 731.6L228 731.3L238 730.8L244.8 729.8L248.2 727.9L251.5 725.8L253.6 722.5L256.2 721.1L258.3 719.8L259.3 712.4L260.3 705.6L261.2 700.9L262.3 699.6L263.4 702.3L264.5 705.6L265.3 701.6L266.3 692.2L267.4 684.1L268.8 677.9L269.8 685.5L270.6 696.2L271.5 705.6L272.3 709L273.3 708.3L274.7 711L275.8 715.1L276.8 721.1L277.9 725.8L279.5 729.2L281.8 730.6L286.5 731.2L286.5 731.6Z" fill="#8a8a8a" stroke="#6a6a6a" stroke-width="0.6" stroke-linejoin="round"/>
<path d="M269.3 561L269.3 732.5" stroke="#4a4a4a" stroke-width="0.8"/>
<text x="193.8" y="578" font-size="13.6" textLength="49.3" lengthAdjust="spacingAndGlyphs">a: 3.6%</text>
<text x="193.8" y="637.5" font-size="13.6" textLength="56.7" lengthAdjust="spacingAndGlyphs">b: 26.1%</text>
<text x="193.8" y="692.5" font-size="13.6" textLength="56.2" lengthAdjust="spacingAndGlyphs">c: 37.8%</text>
<rect x="93.5" y="754.2" width="36.5" height="8.3" fill="#1c1c1c"/>
<rect x="94" y="773.8" width="35.5" height="7.4" fill="#c9c9c9" stroke="#333" stroke-width="1"/>
<rect x="94" y="792.5" width="35.5" height="7.5" fill="#7e7e7e" stroke="#555" stroke-width="1"/>
<text x="137" y="762.4" font-size="13" textLength="63" lengthAdjust="spacingAndGlyphs">a: DC+Nil</text>
<text x="137" y="781.5" font-size="13" textLength="124.5" lengthAdjust="spacingAndGlyphs">b: DC+0 Gy DU145</text>
<text x="137" y="800.4" font-size="13" textLength="132.2" lengthAdjust="spacingAndGlyphs">c: DC+12 Gy DU145</text>
<!-- Panel E -->
<text x="302.4" y="543.7" font-size="24" font-weight="bold" textLength="18" lengthAdjust="spacingAndGlyphs">E</text>
<path d="M379.5 546.3L379.5 723.8" stroke="#222" stroke-width="1.1"/>
<path d="M375 723.3L491.3 723.3" stroke="#222" stroke-width="1.1"/>
<text x="367.4" y="728.2" font-size="13" text-anchor="end">0</text>
<path d="M375 688L379.5 688" stroke="#222" stroke-width="1.1"/>
<text x="367.4" y="692.9" font-size="13" text-anchor="end">10</text>
<path d="M375 652.7L379.5 652.7" stroke="#222" stroke-width="1.1"/>
<text x="367.4" y="657.6" font-size="13" text-anchor="end">20</text>
<path d="M375 617.4L379.5 617.4" stroke="#222" stroke-width="1.1"/>
<text x="367.4" y="622.3" font-size="13" text-anchor="end">30</text>
<path d="M375 582.1L379.5 582.1" stroke="#222" stroke-width="1.1"/>
<text x="367.4" y="587" font-size="13" text-anchor="end">40</text>
<path d="M375 546.8L379.5 546.8" stroke="#222" stroke-width="1.1"/>
<text x="367.4" y="551.7" font-size="13" text-anchor="end">50</text>
<rect x="389.3" y="648.8" width="24.5" height="52" fill="#c9c9c9" stroke="#3a3a3a" stroke-width="1"/>
<path d="M389.3 675.5L413.8 675.5" stroke="#3a3a3a" stroke-width="1"/>
<circle cx="401.8" cy="645" r="4.5" fill="#1c1c1c"/>
<circle cx="401.8" cy="650.5" r="4.5" fill="#1c1c1c"/>
<circle cx="401.8" cy="671.3" r="4.5" fill="#1c1c1c"/>
<circle cx="401.8" cy="679" r="4.5" fill="#1c1c1c"/>
<circle cx="401.8" cy="699.5" r="4.5" fill="#1c1c1c"/>
<circle cx="401.8" cy="706.3" r="4.5" fill="#1c1c1c"/>
<rect x="423.3" y="656.3" width="24.2" height="25.7" fill="#c9c9c9" stroke="#3a3a3a" stroke-width="1"/>
<path d="M423.3 671.8L447.5 671.8" stroke="#3a3a3a" stroke-width="1"/>
<path d="M430.8 646.8L440.2 646.8L435.5 655.2Z" fill="#1c1c1c"/>
<path d="M430.8 656.3L440.2 656.3L435.5 664.7Z" fill="#1c1c1c"/>
<path d="M430.8 666.3L440.2 666.3L435.5 674.7Z" fill="#1c1c1c"/>
<path d="M430.8 671L440.2 671L435.5 679.4Z" fill="#1c1c1c"/>
<path d="M430.8 676L440.2 676L435.5 684.4Z" fill="#1c1c1c"/>
<path d="M430.8 680L440.2 680L435.5 688.4Z" fill="#1c1c1c"/>
<path d="M430.8 686.4L440.2 686.4L435.5 694.8Z" fill="#1c1c1c"/>
<rect x="456.8" y="598.3" width="23.7" height="38.3" fill="#c9c9c9" stroke="#3a3a3a" stroke-width="1"/>
<path d="M456.8 615.5L480.5 615.5" stroke="#3a3a3a" stroke-width="1"/>
<rect x="464.5" y="581.7" width="8.6" height="8.6" fill="#1c1c1c"/>
<rect x="464.5" y="599.5" width="8.6" height="8.6" fill="#1c1c1c"/>
<rect x="464.5" y="605.7" width="8.6" height="8.6" fill="#1c1c1c"/>
<rect x="464.5" y="615.2" width="8.6" height="8.6" fill="#1c1c1c"/>
<rect x="464.5" y="630" width="8.6" height="8.6" fill="#1c1c1c"/>
<rect x="464.5" y="636.9" width="8.6" height="8.6" fill="#1c1c1c"/>
<path d="M398.8 554.5L470.5 554.5" stroke="#262626" stroke-width="1"/>
<text x="431.8" y="556.46" font-size="14" text-anchor="middle" textLength="20.85" lengthAdjust="spacingAndGlyphs">***</text>
<path d="M430.8 569.3L468 569.3" stroke="#262626" stroke-width="1"/>
<text x="444.8" y="571.31" font-size="14" text-anchor="middle" textLength="20.85" lengthAdjust="spacingAndGlyphs">***</text>
<text x="406.8" y="630" font-size="13.2" textLength="19.5" lengthAdjust="spacingAndGlyphs">NS</text>
<path d="M399.3 635L437.5 635" stroke="#262626" stroke-width="1"/>
<text font-size="14" textLength="22.6" lengthAdjust="spacingAndGlyphs" transform="translate(343 684.6) rotate(-90)">IFN</text>
<text font-size="11.5" transform="translate(345.6 662.6) rotate(-90)">&#947;</text>
<text font-size="11" font-weight="bold" transform="translate(332.8 655) rotate(-90)">+</text>
<text font-size="14" textLength="70.2" lengthAdjust="spacingAndGlyphs" transform="translate(343 644.2) rotate(-90)">T cells (%)</text>
<circle cx="382" cy="741.2" r="4.6" fill="#1c1c1c"/>
<path d="M377.3 753.7L386.7 753.7L382 762.1Z" fill="#1c1c1c"/>
<rect x="377.9" y="770.1" width="8.2" height="8.2" fill="#1c1c1c"/>
<text x="405.6" y="745.2" font-size="13" textLength="41.8" lengthAdjust="spacingAndGlyphs">DC+Nil</text>
<text x="405.6" y="761.8" font-size="13" textLength="104.6" lengthAdjust="spacingAndGlyphs">DC+0 Gy&#160; DU145</text>
<text x="405.6" y="778.2" font-size="13" textLength="111.1" lengthAdjust="spacingAndGlyphs">DC+12 Gy&#160; DU145</text>
<!-- Panel F -->
<text x="-1.7" y="832.5" font-size="24" font-weight="bold" textLength="16.2" lengthAdjust="spacingAndGlyphs">F</text>
<text x="20.9" y="844.3" font-size="15" font-weight="bold">i</text>
<text x="302.3" y="844.3" font-size="15" font-weight="bold" textLength="8.8" lengthAdjust="spacingAndGlyphs">ii</text>
<path d="M61.3 851.3L61.3 1050" stroke="#7a7a7a" stroke-width="1.1"/>
<path d="M58.8 1049.5L175.8 1049.5" stroke="#7a7a7a" stroke-width="1.1"/>
<text x="52.4" y="1054" font-size="12.2" text-anchor="end">0</text>
<path d="M58.8 1029.82L61.3 1029.82" stroke="#7a7a7a" stroke-width="1"/>
<text x="52.4" y="1034.22" font-size="12.2" text-anchor="end">2</text>
<path d="M58.8 1010.04L61.3 1010.04" stroke="#7a7a7a" stroke-width="1"/>
<text x="52.4" y="1014.44" font-size="12.2" text-anchor="end">4</text>
<path d="M58.8 990.26L61.3 990.26" stroke="#7a7a7a" stroke-width="1"/>
<text x="52.4" y="994.66" font-size="12.2" text-anchor="end">6</text>
<path d="M58.8 970.48L61.3 970.48" stroke="#7a7a7a" stroke-width="1"/>
<text x="52.4" y="974.88" font-size="12.2" text-anchor="end">8</text>
<path d="M58.8 950.7L61.3 950.7" stroke="#7a7a7a" stroke-width="1"/>
<text x="52.4" y="955.1" font-size="12.2" text-anchor="end">10</text>
<path d="M58.8 930.92L61.3 930.92" stroke="#7a7a7a" stroke-width="1"/>
<text x="52.4" y="935.32" font-size="12.2" text-anchor="end">12</text>
<path d="M58.8 911.14L61.3 911.14" stroke="#7a7a7a" stroke-width="1"/>
<text x="52.4" y="915.54" font-size="12.2" text-anchor="end">14</text>
<path d="M58.8 891.36L61.3 891.36" stroke="#7a7a7a" stroke-width="1"/>
<text x="52.4" y="895.76" font-size="12.2" text-anchor="end">16</text>
<path d="M58.8 871.58L61.3 871.58" stroke="#7a7a7a" stroke-width="1"/>
<text x="52.4" y="875.98" font-size="12.2" text-anchor="end">18</text>
<path d="M58.8 851.8L61.3 851.8" stroke="#7a7a7a" stroke-width="1"/>
<text x="52.4" y="856.2" font-size="12.2" text-anchor="end">20</text>
<path d="M74.7 1012.4L74.7 1013.1" stroke="#5a5a5a" stroke-width="1"/>
<path d="M70.5 1012.4L79 1012.4" stroke="#5a5a5a" stroke-width="1"/>
<rect x="68" y="1013.1" width="13.4" height="36.4" fill="#1c1c1c"/>
<path d="M87.95 950L87.95 958.8" stroke="#5a5a5a" stroke-width="1"/>
<path d="M84.5 950L90.8 950" stroke="#5a5a5a" stroke-width="1"/>
<rect x="81.9" y="958.8" width="12.1" height="90.7" fill="#c9c9c9" stroke="#6a6a6a" stroke-width="0.9"/>
<path d="M101.25 874.3L101.25 885" stroke="#5a5a5a" stroke-width="1"/>
<path d="M97.5 874.3L104.8 874.3" stroke="#5a5a5a" stroke-width="1"/>
<rect x="95" y="885" width="12.5" height="164.5" fill="#7e7e7e" stroke="#5e5e5e" stroke-width="0.9"/>
<path d="M127.15 1024.8L127.15 1026" stroke="#5a5a5a" stroke-width="1"/>
<path d="M123 1024.8L131.3 1024.8" stroke="#5a5a5a" stroke-width="1"/>
<rect x="120.3" y="1026" width="13.7" height="23.5" fill="#1c1c1c"/>
<path d="M140.55 1032.4L140.55 1033.7" stroke="#5a5a5a" stroke-width="1"/>
<path d="M137 1032.4L144 1032.4" stroke="#5a5a5a" stroke-width="1"/>
<rect x="134.5" y="1033.7" width="12.1" height="15.8" fill="#c9c9c9" stroke="#6a6a6a" stroke-width="0.9"/>
<path d="M153.65 1017.3L153.65 1019" stroke="#5a5a5a" stroke-width="1"/>
<path d="M150 1017.3L157.5 1017.3" stroke="#5a5a5a" stroke-width="1"/>
<rect x="147.6" y="1019" width="12.1" height="30.5" fill="#7e7e7e" stroke="#5e5e5e" stroke-width="0.9"/>
<path d="M70.5 870.5L101.3 870.5" stroke="#262626" stroke-width="1"/>
<text x="84.8" y="873.81" font-size="14" text-anchor="middle" textLength="20.85" lengthAdjust="spacingAndGlyphs">***</text>
<path d="M69.5 945L88.8 945" stroke="#262626" stroke-width="1"/>
<text x="78.8" y="947.81" font-size="14" text-anchor="middle" textLength="14" lengthAdjust="spacingAndGlyphs">**</text>
<text x="61.5" y="1061.5" font-size="13.2" textLength="40.5" lengthAdjust="spacingAndGlyphs">Isotype</text>
<text x="119.3" y="1061.5" font-size="13.2" textLength="40" lengthAdjust="spacingAndGlyphs">Class I</text>
<text x="121.6" y="1076.2" font-size="13.2" textLength="48.4" lengthAdjust="spacingAndGlyphs">blocking</text>
<text font-size="15" textLength="23.4" lengthAdjust="spacingAndGlyphs" transform="translate(21.8 1005.4) rotate(-90)">IFN</text>
<text font-size="14" transform="translate(21.8 982.2) rotate(-90)">&#947;</text>
<text font-size="10.5" transform="translate(16.3 974.6) rotate(-90)">+</text>
<text font-size="15" textLength="67.7" lengthAdjust="spacingAndGlyphs" transform="translate(21.8 963.4) rotate(-90)">T cells (%)</text>
<rect x="132.2" y="876.5" width="30.6" height="6.6" fill="#1c1c1c"/>
<rect x="132.7" y="894.4" width="29.6" height="5.6" fill="#c9c9c9" stroke="#5a5a5a" stroke-width="0.9"/>
<rect x="132.7" y="910.9" width="29.6" height="5.5" fill="#7e7e7e" stroke="#5a5a5a" stroke-width="0.9"/>
<text x="170.2" y="883.8" font-size="13" textLength="18.6" lengthAdjust="spacingAndGlyphs">DC</text>
<text x="170.2" y="900.6" font-size="13" textLength="100.4" lengthAdjust="spacingAndGlyphs">DC+0 Gy DU145</text>
<text x="170.2" y="917.5" font-size="13" textLength="107.8" lengthAdjust="spacingAndGlyphs">DC+12 Gy DU145</text>
<path d="M343.6 844.5L343.6 1040.5" stroke="#7a7a7a" stroke-width="1.1"/>
<path d="M343.1 1040L520 1040" stroke="#7a7a7a" stroke-width="1.1"/>
<text x="337.4" y="1043.7" font-size="11.6" text-anchor="end">0</text>
<text x="337.4" y="1004.85" font-size="11.6" text-anchor="end">20</text>
<text x="337.4" y="966" font-size="11.6" text-anchor="end">40</text>
<text x="337.4" y="927.15" font-size="11.6" text-anchor="end">60</text>
<text x="337.4" y="888.3" font-size="11.6" text-anchor="end">80</text>
<text x="337.4" y="849.45" font-size="11.6" text-anchor="end">100</text>
<path d="M372.15 946.3L372.15 950.8" stroke="#5a5a5a" stroke-width="1"/>
<path d="M367.5 946.3L376.3 946.3" stroke="#5a5a5a" stroke-width="1"/>
<rect x="365.5" y="950.8" width="13.3" height="89.2" fill="#1c1c1c"/>
<path d="M385.4 902L385.4 913.1" stroke="#5a5a5a" stroke-width="1"/>
<path d="M380.5 902L390 902" stroke="#5a5a5a" stroke-width="1"/>
<rect x="379.3" y="913.1" width="12.2" height="126.9" fill="#c9c9c9" stroke="#646464" stroke-width="0.9"/>
<path d="M407.1 998.8L407.1 1000" stroke="#5a5a5a" stroke-width="1"/>
<path d="M403 998.8L411 998.8" stroke="#5a5a5a" stroke-width="1"/>
<rect x="400.5" y="1000" width="13.2" height="40" fill="#1c1c1c"/>
<path d="M420.25 937.2L420.25 943.8" stroke="#5a5a5a" stroke-width="1"/>
<path d="M415 937.2L424.3 937.2" stroke="#5a5a5a" stroke-width="1"/>
<rect x="414.2" y="943.8" width="12.1" height="96.2" fill="#c9c9c9" stroke="#646464" stroke-width="0.9"/>
<path d="M441.9 948.8L441.9 953" stroke="#5a5a5a" stroke-width="1"/>
<path d="M437.5 948.8L446.3 948.8" stroke="#5a5a5a" stroke-width="1"/>
<rect x="435" y="953" width="13.8" height="87" fill="#1c1c1c"/>
<path d="M455.3 870.5L455.3 895" stroke="#5a5a5a" stroke-width="1"/>
<path d="M450.8 870.5L460 870.5" stroke="#5a5a5a" stroke-width="1"/>
<rect x="449.3" y="895" width="12" height="145" fill="#c9c9c9" stroke="#646464" stroke-width="0.9"/>
<path d="M476.65 1022L476.65 1024.5" stroke="#5a5a5a" stroke-width="1"/>
<path d="M472 1022L480.5 1022" stroke="#5a5a5a" stroke-width="1"/>
<rect x="470" y="1024.5" width="13.3" height="15.5" fill="#1c1c1c"/>
<path d="M490.05 1011.3L490.05 1017.5" stroke="#5a5a5a" stroke-width="1"/>
<path d="M485.8 1011.3L494.3 1011.3" stroke="#5a5a5a" stroke-width="1"/>
<rect x="483.8" y="1017.5" width="12.5" height="22.5" fill="#c9c9c9" stroke="#646464" stroke-width="0.9"/>
<path d="M370 893.8L386.3 893.8" stroke="#262626" stroke-width="1"/>
<text x="376.8" y="897.06" font-size="14" text-anchor="middle" textLength="14" lengthAdjust="spacingAndGlyphs">**</text>
<path d="M403 932.2L419.5 932.2" stroke="#262626" stroke-width="1"/>
<text x="414.8" y="931.31" font-size="14" text-anchor="middle" textLength="20.85" lengthAdjust="spacingAndGlyphs">***</text>
<path d="M438.8 864.5L456.3 864.5" stroke="#262626" stroke-width="1"/>
<text x="447.9" y="865.96" font-size="14" text-anchor="middle" textLength="14" lengthAdjust="spacingAndGlyphs">**</text>
<text x="472.5" y="998.8" font-size="14" textLength="19.5" lengthAdjust="spacingAndGlyphs">NS</text>
<path d="M472.5 1004.5L490.8 1004.5" stroke="#262626" stroke-width="1"/>
<text x="359.8" y="1055.2" font-size="11.2" textLength="34.6" lengthAdjust="spacingAndGlyphs">DU145</text>
<text x="402" y="1055.2" font-size="11.2" textLength="22.8" lengthAdjust="spacingAndGlyphs">PC3</text>
<text x="436.3" y="1055.2" font-size="11.2" textLength="22.8" lengthAdjust="spacingAndGlyphs">M38</text>
<text x="464.3" y="1055.2" font-size="11.2" textLength="38" lengthAdjust="spacingAndGlyphs">LNCaP</text>
<path d="M356.5 1060.3L462 1060.3" stroke="#262626" stroke-width="1"/>
<text x="396.5" y="1077.5" font-size="13.3" textLength="22.6" lengthAdjust="spacingAndGlyphs">5T4</text>
<text x="419.9" y="1071.7" font-size="12" font-weight="bold">+</text>
<text x="472.6" y="1077.5" font-size="13.3" textLength="22.6" lengthAdjust="spacingAndGlyphs">5T4</text>
<text x="496.6" y="1071" font-size="11.5" font-weight="bold">-</text>
<text font-size="14.2" textLength="21.8" lengthAdjust="spacingAndGlyphs" transform="translate(311.2 994.3) rotate(-90)">IFN</text>
<text font-size="12.6" transform="translate(311.4 972) rotate(-90)">&#947;</text>
<text font-size="7.5" font-weight="bold" transform="translate(303.6 966.3) rotate(-90)">+</text>
<text font-size="14.2" textLength="68.8" lengthAdjust="spacingAndGlyphs" transform="translate(311.2 958.2) rotate(-90)">T cells (%)</text>
<rect x="361.8" y="818" width="30.7" height="7.8" fill="#1c1c1c"/>
<rect x="362.3" y="835" width="29.7" height="7" fill="#c9c9c9" stroke="#5a5a5a" stroke-width="0.9"/>
<text x="400" y="826.3" font-size="13" textLength="100" lengthAdjust="spacingAndGlyphs">DC+0 Gy DU145</text>
<text x="400" y="843" font-size="13" textLength="111.3" lengthAdjust="spacingAndGlyphs">DC+12 Gy&#160; DU145</text>
</svg>
</body></html>
